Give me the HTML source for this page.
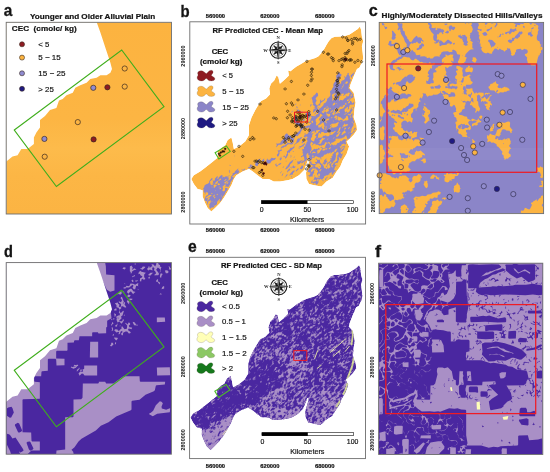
<!DOCTYPE html>
<html><head><meta charset="utf-8"><title>RF Predicted CEC maps</title>
<style>
html,body{margin:0;padding:0;background:#fff;}
svg{display:block;}
text{font-kerning:normal;}
</style></head><body>
<svg width="550" height="472" viewBox="0 0 550 472">
<rect width="550" height="472" fill="#fff"/>
<defs>
<clipPath id="ca"><rect x="6.2" y="22.3" width="165.3" height="191.7"/></clipPath>
<clipPath id="cb"><rect x="189.8" y="21.8" width="175.8" height="202.2"/></clipPath>
<clipPath id="cc"><rect x="379.2" y="22.4" width="164.4" height="191.2"/></clipPath>
<clipPath id="cd"><rect x="6.2" y="262.6" width="165.2" height="191.6"/></clipPath>
<clipPath id="ce"><rect x="189.6" y="257.3" width="175.9" height="201.3"/></clipPath>
<clipPath id="cf"><rect x="378.6" y="263.2" width="164.2" height="191.3"/></clipPath>
<clipPath id="mapb"><polygon points="359.9,26.6 357.8,29.0 353.7,31.8 349.6,34.4 345.5,35.7 340.6,36.4 334.9,36.7 331.6,38.0 328.9,40.9 326.7,44.5 324.8,48.1 323.0,50.8 321.0,53.5 318.5,56.3 315.3,58.0 311.2,59.3 307.1,60.6 303.8,62.2 300.5,64.2 296.5,66.6 293.2,69.1 290.5,71.2 288.1,70.6 288.9,75.5 284.8,79.6 279.9,83.7 278.3,77.1 276.6,75.5 274.2,80.4 270.9,83.7 269.3,88.6 270.1,94.3 266.0,98.4 261.1,100.9 257.8,105.8 255.3,110.0 251.5,117.6 249.0,125.1 249.0,135.1 245.2,141.4 239.0,146.4 233.9,148.9 232.7,142.6 231.4,137.6 227.7,140.1 225.2,145.2 221.4,147.7 217.6,151.4 217.6,157.7 211.4,162.7 205.1,167.7 200.1,171.5 193.8,175.3 191.3,179.0 193.8,184.0 197.6,189.1 202.6,190.3 202.6,196.6 205.1,202.9 207.6,207.9 211.4,211.6 215.1,207.9 220.1,202.9 223.9,197.8 227.7,191.6 231.4,185.3 233.9,179.0 236.4,175.3 242.7,171.5 249.0,169.0 252.8,171.5 257.5,175.3 262.5,179.0 268.8,179.0 273.8,181.5 280.1,181.5 287.6,180.3 292.6,179.0 299.0,175.3 304.0,170.2 306.6,164.0 308.0,159.5 309.6,159.5 308.4,165.0 306.0,172.8 306.4,179.0 309.0,184.0 314.0,185.3 321.5,186.5 326.5,181.5 332.8,177.8 336.6,171.5 340.3,166.5 342.8,160.2 346.6,153.9 349.1,146.4 346.6,141.4 349.6,138.9 353.7,134.8 357.0,130.0 356.6,125.5 353.7,117.3 354.5,109.1 355.6,102.5 353.7,92.7 349.6,88.0 350.5,84.5 353.7,76.4 357.0,68.9 359.5,67.5 361.9,62.5 363.2,58.5 362.7,52.7 361.9,46.2 363.2,41.3 361.9,36.4 361.1,29.8"/></clipPath>
<clipPath id="mape"><polygon points="359.1,265.0 357.0,267.4 352.9,270.2 348.8,272.8 344.7,274.1 339.8,274.8 334.1,275.1 330.8,276.4 328.1,279.3 325.9,282.9 324.0,286.5 322.2,289.2 320.2,291.9 317.7,294.7 314.5,296.4 310.4,297.7 306.3,299.0 303.0,300.6 299.7,302.6 295.7,305.0 292.4,307.5 289.7,309.6 287.3,309.0 288.1,313.9 284.0,318.0 279.1,322.1 277.5,315.5 275.8,313.9 273.4,318.8 270.1,322.1 268.5,327.0 269.3,332.7 265.2,336.8 260.3,339.3 257.0,344.2 254.5,348.4 250.7,356.0 248.2,363.5 248.2,373.5 244.4,379.8 238.2,384.8 233.1,387.3 231.9,381.0 230.6,376.0 226.9,378.5 224.4,383.6 220.6,386.1 216.8,389.8 216.8,396.1 210.6,401.1 204.3,406.1 199.3,409.9 193.0,413.7 190.5,417.4 193.0,422.4 196.8,427.5 201.8,428.7 201.8,435.0 204.3,441.3 206.8,446.3 210.6,450.0 214.3,446.3 219.3,441.3 223.1,436.2 226.9,430.0 230.6,423.7 233.1,417.4 235.6,413.7 241.9,409.9 248.2,407.4 252.0,409.9 256.7,413.7 261.7,417.4 268.0,417.4 273.0,419.9 279.3,419.9 286.8,418.7 291.8,417.4 298.2,413.7 303.2,408.6 305.8,402.4 307.2,397.9 308.8,397.9 307.6,403.4 305.2,411.2 305.6,417.4 308.2,422.4 313.2,423.7 320.7,424.9 325.7,419.9 332.0,416.2 335.8,409.9 339.5,404.9 342.0,398.6 345.8,392.3 348.3,384.8 345.8,379.8 348.8,377.3 352.9,373.2 356.2,368.4 355.8,363.9 352.9,355.7 353.7,347.5 354.8,340.9 352.9,331.1 348.8,326.4 349.7,322.9 352.9,314.8 356.2,307.3 358.7,305.9 361.1,300.9 362.4,296.9 361.9,291.1 361.1,284.6 362.4,279.7 361.1,274.8 360.3,268.2"/></clipPath>
<linearGradient id="ga" x1="0" y1="0" x2="0" y2="1"><stop offset="0" stop-color="#fcb340"/><stop offset="0.5" stop-color="#fcb543"/><stop offset="0.66" stop-color="#fdbb4b"/><stop offset="0.8" stop-color="#fcb645"/><stop offset="1" stop-color="#fbb443"/></linearGradient>
</defs>
<g clip-path="url(#ca)">
<rect x="6.2" y="22.3" width="165.3" height="191.7" fill="url(#ga)"/>
<polygon points="0.0,0.0 96.6,0.0 96.6,22.0 100.4,32.6 105.4,47.7 110.4,62.7 112.0,69.0 110.4,72.8 106.6,75.3 100.4,75.3 96.6,77.8 90.3,79.0 86.6,82.8 80.3,85.3 75.3,87.8 72.8,92.8 66.5,95.3 62.7,99.0 59.0,100.4 56.4,107.9 50.0,110.0 45.0,116.0 40.0,120.0 40.0,127.6 36.4,132.6 33.9,137.6 33.9,143.9 27.6,148.9 21.3,148.9 17.6,155.2 12.5,156.4 6.3,161.5 0.0,163.0" fill="#fff" />
</g>
<polygon points="14.3,130.0 121.7,50.0 164.0,106.6 56.4,186.5" fill="none" stroke="#3fae1c" stroke-width="1.1"/>
<circle cx="93.3" cy="87.8" r="2.6" fill="#8f8bd0" stroke="#3a2a20" stroke-width="0.7"/>
<circle cx="107.4" cy="87.3" r="2.6" fill="#8e1b22" stroke="#3a2a20" stroke-width="0.7"/>
<circle cx="124.7" cy="86.6" r="2.6" fill="#fcb442" stroke="#3a2a20" stroke-width="0.7"/>
<circle cx="124.7" cy="68.5" r="2.6" fill="#fcb442" stroke="#3a2a20" stroke-width="0.7"/>
<circle cx="77.8" cy="122.1" r="2.6" fill="#fcb442" stroke="#3a2a20" stroke-width="0.7"/>
<circle cx="44.4" cy="138.9" r="2.6" fill="#8f8bd0" stroke="#3a2a20" stroke-width="0.7"/>
<circle cx="93.6" cy="139.4" r="2.6" fill="#8e1b22" stroke="#3a2a20" stroke-width="0.7"/>
<circle cx="44.7" cy="156.7" r="2.6" fill="#fcb442" stroke="#3a2a20" stroke-width="0.7"/>
<rect x="6.2" y="22.3" width="165.3" height="191.7" fill="none" stroke="#6e6e6e" stroke-width="0.9"/>
<text transform="translate(3.70,15.90) scale(0.917,1)" font-family='"Liberation Sans", sans-serif' font-size="16.8" font-weight="bold" fill="#141414" stroke="#141414" stroke-width="0.3">a</text>
<text transform="translate(30.00,18.50) scale(1.149,1)" font-family='"Liberation Sans", sans-serif' font-size="7.1" font-weight="bold" fill="#141414" stroke="#141414" stroke-width="0.2">Younger and Older Alluvial Plain</text>
<text transform="translate(11.80,31.10) scale(1.122,1)" font-family='"Liberation Sans", sans-serif' font-size="7.3" font-weight="bold" fill="#141414" stroke="#141414" stroke-width="0.2">CEC&#160;&#160;(cmolc/ kg)</text>
<circle cx="22.0" cy="44.3" r="2.5" fill="#8e1b22" stroke="#3a2a20" stroke-width="0.6"/>
<text transform="translate(38.30,47.20) scale(1.101,1)" font-family='"Liberation Sans", sans-serif' font-size="7.1" font-weight="normal" fill="#141414" stroke="#141414" stroke-width="0.17">&lt; 5</text>
<circle cx="22.0" cy="57.6" r="2.5" fill="#fcb442" stroke="#3a2a20" stroke-width="0.6"/>
<text transform="translate(38.30,60.40) scale(1.128,1)" font-family='"Liberation Sans", sans-serif' font-size="7.1" font-weight="normal" fill="#141414" stroke="#141414" stroke-width="0.17">5 − 15</text>
<circle cx="22.0" cy="73.3" r="2.5" fill="#8f8bd0" stroke="#3a2a20" stroke-width="0.6"/>
<text transform="translate(38.30,76.10) scale(1.138,1)" font-family='"Liberation Sans", sans-serif' font-size="7.1" font-weight="normal" fill="#141414" stroke="#141414" stroke-width="0.17">15 − 25</text>
<circle cx="22.0" cy="88.8" r="2.5" fill="#1f1a82" stroke="#3a2a20" stroke-width="0.6"/>
<text transform="translate(38.30,91.70) scale(1.105,1)" font-family='"Liberation Sans", sans-serif' font-size="7.1" font-weight="normal" fill="#141414" stroke="#141414" stroke-width="0.17">&gt; 25</text>
<g clip-path="url(#cd)">
<rect x="6.2" y="262.6" width="165.2" height="191.6" fill="#4a27a0"/>
<g transform="translate(2.17,258.17) scale(0.33333)"><path fill="#a98fc6" fill-rule="evenodd" d="M83 550l2 2 9 19-3 4-7 3-4-5-7-19 3-3zM47 494l4 2 9 21-3 4-7 3-3-3-9-20 1-3zM28 446l3 4 4 13-8 15-4 1-9-6 0-22 4-3zM504 451l-1-1-11 5-13-4-1-5 4-11-4-4-5-2-12 12-8 17-7 6-4 1-1 3 11 6 13-7 38-5zM489 371l-74 0-2-2-1-15-48 0-30 22-22 0-3-5-19 0 0 3-2 2-46 0-1 43-4 4-23 1 0 51-2 2-23 0 0 97-26 3-1 12 53 1-2-9-5-6 9-8 12-17 9-8 43-25 15-14 23-11 23-17 44-19 2-2 0-24 2-2 22-3 18-15 25-11 3-3 3-13 2-2 25-2zM241 335l2 4-2 2-3 0-2-2zM232 329l-2 0-1 3-5 3 0 6 8-9zM464 328l1 24 39-1-1-24zM216 325l3-1 1 2-3 1zM229 345l3 8 7-7 4 1 4 5 38 0 0-30-39 0 0 10-5 3-6-1-1 3 2 2zM228 321l-3-2-3 2-5-1-2 2 0 4-6 1-2-3-1 4 8 4 7-3 4-5 3-1zM332 254l-5 0 0 4-3 3 0 2 3 2 7-6zM339 252l-1 6 3 0 1-5zM264 251l-1 47 25 0 0-47zM336 238l0 2 6 7 5-5-1-3zM334 227l-3 4 1 2 4-2zM330 207l-2 2 2 4-2 6 5-3-1-7zM355 202l-2 0-1 2 3 0zM346 195l-1 3-6 4 0 2 3 2 3-2 0-4 2-2zM390 209l-4-2-3 1-2-2-1-4 4-3 0-3-4-4-4 7-5-5-2 1 6 7-1 10-7 1-7-9-2 2 0 6-4 2-3 4-3 0-2-3 1-1-8-1-3 3 7 7 6-2 2 2-2 4 1 2 4-3 1-5 5-3 1 4-4 4 0 2 2 3 3 0 1-7 7-4 5 0 5 6 4-1 2-3-8-6 0-3 2-2 8 2zM332 192l-2 0-1 5-2 1 2 6 1-5 4-3zM392 191l0 3 4 7 11 1 0-2-5 0-4-7zM337 181l-2-1-4 3-4 0-1 2 1 1 4-3 5 1zM346 179l2-1 2 2-3 1zM464 178l0 14 25-1-1-13zM368 169l-3 2 0 2 4-2zM337 165l-1 2 2 10 4-8zM325 154l-3 0-10 6-5 1-16 9-15 4-19 9-3 0-6 3-3 6-245 0 0 231 11 0 2 2 1 165 13 0-3-11-10-20 0-30 2-2 7 3 8 11 9-3 23 35 1 5-9 5-5-4 5 11 19 0 14-13 25 0 0-27-23 0-2-2-1-25-26-1 0-97 2-2 50-1 0-50-15-1-2-2 0-13 2-2 19 0 1-13 2-2 17-1 0-34 2-2 21 0 2 2 1 18 24-1 0-19-25-1 0-21 2-2 30 0 2-2 0-22 19-1 1-5 2-2 12 0 2-12 38 0 0-10 2-2 15 0 2 4 23-1 0-17 3-2 0-18 13-8zM343 151l-3 0-4 3 0 3 7 0zM363 132l2 1-1 4-2-2zM377 126l-2 1-1 4 7 8 0-5 2-3zM381 124l5 2 4-1 1-3-9-1zM357 116l-2 4 4 5 0 4-5 3-4-4 0 5 4 2 3 4-1 6-2 2-4-2 2-5-4-3-1-4-9 2 5 6 0 6 6 2 3 6-2 8 3 3 0 5-5 1-6 4 2 5-1 4 3 8 6-3 5 6 2 0 6-9 0-3-3-1-2 6-7 0-2-2 7-6-1-7 4-2 4-13-2-1-6 6-2 0-2-2-1-7 5-4 0-5 2-2 3 0 6 4 4 0 0-2-5-7 2-5-4-3-5-14zM379 109l-3 3 0 4 5 1 5-5zM472 109l8-1-5-3zM363 100l-1 3 4 2 0-4zM357 98l-2 0-10 9 2 2 3-2 2 2 4 0 3-4zM406 92l2 4 1-3zM375 99l0 4 4 4 5-7 3 1 6 7 3-4 3-1 0-2-5-1-6-8-4 0-7 4zM486 84l-3 0-3 3-2 6 8-2zM365 77l4 1 0-2zM409 76l-3-1-7 5-6-3-8-1-4 8-8-1-3 4-5 0-2 4 1-1 5 2 3-4 9 0 10-8 3 3-3 6 4 4 4 0 3-10 7 1-2-3zM407 66l-9 2 2 2 4 0 3-2zM390 64l-2 3 2 4 3 1 1-4zM465 63l-4 6 2 2 3 0 6 8 2-5-7-5 1-5zM443 55l-5 3 2 4 3-2zM399 50l-10 6 3 1 2-2 3 0zM480 46l-5 0-2 8 2 5 2 0 1-6 3-3zM454 44l-9 0-7 6 2 2 5 0 6-7zM414 38l-5 6 0 4 4-1 2 4 6 4-3 4-4 1-1 7 2 3 2 0 1-6 2-2 5 3 4-2 0-3-3-3 0-8 5-5-13-3zM488 37l3 8 5 0 3-3 0-2-4-4zM365 27l-4 3 1 2 5 2 3-2 0-4zM429 26l-7-1-4 5-5 1 8 4 8-7zM499 24l2 5-1 5 6 0 4 2 0-3-5-3-3-5zM388 22l-5 3 0 14 3 3-1 3 4 0 0-4 6-5 8-2-7-4-5 5-2-3 4-2zM401 15l-4 2 2 4zM275 14l39 81 10 6 13-4 0-46-25-2-1-25-2-10zM469 10l-6 2-1 7-3 6-5-6-5-1-1 2 3 4-5 2-2 3-2 0 0-4-3-1 0 3-4 5 1 3 3 2 4-3 8 3-1-8 4-2 3 4-2 6 3 1 3 5 0 4-4 2 1 4 2-2 8 0 2-2 0-4-8-10 5-7 7 5 1 5-3 4 2 0 2-4 0-7 2-3-5-4 1-3-5-3-1-2 3-3zM414 10l-3 2 0 3 3-2zM450 9l-4 3 5 1z"/></g>
<polygon points="0.0,240.3 96.6,240.3 96.6,262.3 100.4,272.9 105.4,288.0 110.4,303.0 112.0,309.3 110.4,313.1 106.6,315.6 100.4,315.6 96.6,318.1 90.3,319.3 86.6,323.1 80.3,325.6 75.3,328.1 72.8,333.1 66.5,335.6 62.7,339.3 59.0,340.7 56.4,348.2 50.0,350.3 45.0,356.3 40.0,360.3 40.0,367.9 36.4,372.9 33.9,377.9 33.9,384.2 27.6,389.2 21.3,389.2 17.6,395.5 12.5,396.7 6.3,401.8 0.0,403.3" fill="#fff" />
</g>
<polygon points="14.3,370.3 121.7,290.3 164.0,346.9 56.4,426.8" fill="none" stroke="#3fae1c" stroke-width="1.1"/>
<rect x="6.2" y="262.6" width="165.2" height="191.6" fill="none" stroke="#6e6e6e" stroke-width="0.9"/>
<text transform="translate(4.10,256.70) scale(0.868,1)" font-family='"Liberation Sans", sans-serif' font-size="16.8" font-weight="bold" fill="#141414" stroke="#141414" stroke-width="0.3">d</text>
<g clip-path="url(#mapb)">
<polygon points="359.9,26.6 357.8,29.0 353.7,31.8 349.6,34.4 345.5,35.7 340.6,36.4 334.9,36.7 331.6,38.0 328.9,40.9 326.7,44.5 324.8,48.1 323.0,50.8 321.0,53.5 318.5,56.3 315.3,58.0 311.2,59.3 307.1,60.6 303.8,62.2 300.5,64.2 296.5,66.6 293.2,69.1 290.5,71.2 288.1,70.6 288.9,75.5 284.8,79.6 279.9,83.7 278.3,77.1 276.6,75.5 274.2,80.4 270.9,83.7 269.3,88.6 270.1,94.3 266.0,98.4 261.1,100.9 257.8,105.8 255.3,110.0 251.5,117.6 249.0,125.1 249.0,135.1 245.2,141.4 239.0,146.4 233.9,148.9 232.7,142.6 231.4,137.6 227.7,140.1 225.2,145.2 221.4,147.7 217.6,151.4 217.6,157.7 211.4,162.7 205.1,167.7 200.1,171.5 193.8,175.3 191.3,179.0 193.8,184.0 197.6,189.1 202.6,190.3 202.6,196.6 205.1,202.9 207.6,207.9 211.4,211.6 215.1,207.9 220.1,202.9 223.9,197.8 227.7,191.6 231.4,185.3 233.9,179.0 236.4,175.3 242.7,171.5 249.0,169.0 252.8,171.5 257.5,175.3 262.5,179.0 268.8,179.0 273.8,181.5 280.1,181.5 287.6,180.3 292.6,179.0 299.0,175.3 304.0,170.2 306.6,164.0 308.0,159.5 309.6,159.5 308.4,165.0 306.0,172.8 306.4,179.0 309.0,184.0 314.0,185.3 321.5,186.5 326.5,181.5 332.8,177.8 336.6,171.5 340.3,166.5 342.8,160.2 346.6,153.9 349.1,146.4 346.6,141.4 349.6,138.9 353.7,134.8 357.0,130.0 356.6,125.5 353.7,117.3 354.5,109.1 355.6,102.5 353.7,92.7 349.6,88.0 350.5,84.5 353.7,76.4 357.0,68.9 359.5,67.5 361.9,62.5 363.2,58.5 362.7,52.7 361.9,46.2 363.2,41.3 361.9,36.4 361.1,29.8" fill="#fcb442" />
<g transform="translate(188.17,22.17) scale(0.33333)"><path fill="#8b85c8" fill-rule="evenodd" d="M76 549l1-1 1 1-1 1zM77 542l1-1 1 1-1 1zM70 538l2-1 1 2-2 1zM56 536l1-1 1 1-1 1zM57 535l1-1 1 1-1 1zM64 526l1 1-1 3-5 5-1-3 3-5zM81 523l1 2-4 4-1-3zM98 521l2-1 1 2-2 1zM70 519l0 2-3 1-2 3-1-1-8 5-2-1 0-2 7-6 5-2zM80 517l1 2-3 2 1 2-4 1-1-1 1-2zM85 516l3-1 1 2-2 2zM69 515l2-3 2 2-1 2zM80 506l1-1 2 1-1 1zM98 496l1 3-4 3-1-3zM91 496l1-1 1 1-1 1zM92 495l1-1 1 1-1 1zM93 494l1-1 1 1-1 1zM70 494l2-1 1 2-2 1zM87 489l-5 4-2 4-4-1 1-2-1-5 4-3 1 2zM87 485l3-2 3 1 3 4-4 1-3-1zM74 483l1-1 2 1-1 1zM120 480l1 2-5 4-1-3 3-3zM88 476l2 3-6 7-2 0-1-1 1-4zM119 475l1 1-9 9-2-2 0-3zM387 473l2 2-1 3-3-2zM403 473l-1 3 2-1 1 3 1-1-1-4zM387 473l1-3 2 0 2 2-2 2zM271 471l0 1 3 0zM114 470l1 3-6 4-1-1 1-2zM99 470l0 2-6 4-3-1 7-6zM294 468l-1 2 1 0zM393 467l1-1 1 1-1 1zM118 467l1-1 1 1-1 1zM101 466l1-1 1 2-1 1zM431 463l-3 0-6 8 4-2zM419 463l-7 5-2 6 2 0 2-2 1-4 3-2zM308 461l2 5 1 0 0-3zM297 455l-9 14 6-7 2 0 2-4zM393 453l3 4-2 7-4-3 0-5zM286 453l-3 2-3 7 3-2zM366 452l1-1 1 1-1 1zM281 448l-1-1-5 6 2 0zM148 446l1-1 1 1-1 1zM321 445l-4 1-2-1-9 10 0 2-2 1 0 3 4-3 7-1-1-3zM126 442l-4 4 0 2 2 1-1 5 3-4 0-3-1 1-1-1zM399 440l1 3-3 2 1 1-3 3-2-3zM419 440l1-1 1 1-1 1zM383 440l-5 4-3 0-3 5-2 1-2-5 6-7 4 2 3-2zM333 440l-2-1-4 1-1 3-3 2 0 2 1 1zM171 439l-6 4-2 0-2-2-1 1 2 3 6-1 3-3zM304 438l-6 7 0 2-2 2 1 2 6-6 2 0 2-2zM151 438l-11 10 0 2-2 2-5 1 1 3-6 8 0 5-6 6-2-1 2-4-2-6 4-4 0-2-5 6-2-1 0-2-2 2-4 0-2 2-2 0-1-2-2 2-1-1 1-4-3 0-1-2-9 9-1 4-2-1-1-3 2-1 0-4-3 1-6 7 0 4-2 2-2 0-2-2-1 2 2 2-2 7 2 2-5 2-1-2-3-1 1-4-2-1 0-2 8-8 0-3-3 0-7 9 0 4-4 4-5 1-5 4-1 5-3 4 0 2 2 2-1 5 2 2-1 2 2 1 1-4 2 2-1 4-2 2 1 1 6-9 4 4 0 4-2 2-2 0-3 3-2-1 2 2-3 5 0 6 1 2 5 1 1 2-1 6 1 1 2 0-1-3 2-3-1-1 8-5 1 1-1 7-4 5 1 3-1 5 3 4 2 0 3-4 3 1 3-1 2-4 7-4 1-8 8-9 1 3-3 4 4 0 4-6 3-8 3-3 0-2 3-1 2-7 7-9-1-3-6-1-2 1 1 2-1 5-2 2-3 0-3-2 3-6-2-5 7-7 4 1-2 2-1 4 6-1 3 2 7-10 0-5 9-12 0-4-2 1-3-1 11-9 4-1 1 2 7-7-2-2 1-4-3 3-1-1zM186 436l1-1 1 1-1 1zM187 435l1-1 1 1-1 1zM444 434l3 5 1-1zM317 434l1-1 1 1-1 1zM375 432l1 3-2 1-1-2zM392 432l0 2 3 0 0-2zM288 433l-1-1-5 6 5-3zM189 432l1-1 1 2-1 1zM375 431l1-1 3 1-1 1zM190 431l1-1 1 1-1 1zM345 431l-4-1-6 9 5 3 5-6zM307 435l0 2 3 2 4-3 3 2 4-2 1-4-3 1-2-3 1-1-5 3 0 3-3 2-2-2 3-4 0-3 0 3zM125 428l-1 3 3 0 1-2zM194 431l-3-3-5-1-2 4 1 3-1 1-3-1-2 3 2 0 1 2 2-1 4 1 6-6zM450 426l-3 4 2-1zM407 424l1 3-4 3-1-3zM424 423l1 1-2 2 4 9-5 3-1 2-3-5-1 5-1 1-3-1-1-3 5-4 2-7 3-3zM393 423l6 8-1 4-5 6-4-5-2-1-4 1-3-5 7-7zM279 422l-5 2-7 6-2-1 0-5-1 0-3 3 0 2 3 2-1 2 4 0 3-4 5-1 4-4zM417 419l2 2-2 4 0 4-4 4 0 3-2 2-2 0-2-2 0-3-2-3 8-6 2-4zM409 420l1-1 1 1-1 1zM427 418l2 1 1 3-2 2-3 0-1-1 2-1zM293 416l0 2 2 0 0-2zM317 413l-2 0-10 7-4 7-3 2 1 3-4 1-1 4-4 4 1 1 2-2 2 1 9-8 2-7 7-6 1-4zM463 412l-2 1 1 1zM429 410l1-1 1 2-1 1zM324 410l-5 3 3-1 1 1zM229 408l-9 8 1 2 6 0 0-2 3-2-3-2zM218 408l-9 5-4 5-2 0-1 6-2 2 4 6 1-1 3 1 2-5 8-6-1-1-4 4-4-2zM263 408l-1-1-5 1-7-1-5 6-6 0-1-1 2-2-1-1-4 4-1 6 5 6 7-2 5-7 9-3zM451 405l1-1 1 1-1 1zM280 404l-2 0-1 4-3 2 2 5 6-6-3-1zM319 403l-1 0-2 5 3-3zM456 401l1-1 1 1-1 1zM371 402l1-2 5 1-2 4zM140 400l-2 1 1 3zM308 399l-1 1 1 4-2 2 3-1 1-4zM386 394l1-1 1 1-1 1zM368 390l1 2-2 1-1-1zM449 389l2 3 0 4-4 5 1 4-2 2 2 7-8 7-2-1-2 2 0 3-4 4 0 2 2 2 0 2-2 1-2-3-1-7 5-4 2-4 5-5 3-12-1-1 0-7zM456 389l1-1 1 1-1 1zM370 393l6-5 8 2-5 3-2-1-5 2zM390 386l0 1 2 0zM314 386l0 3 2 0 1-2zM459 380l2 2-1 3-3-1zM446 380l1 1-3 6-3 3-2 0-1-4 1-1 2 1-1-1 1-3zM446 380l1-1 1 1-1 1zM418 379l-2 3-5 0-2 3-6 0-1-1 3-5 1 1 10-2zM429 376l-3 4-2 1-3-1 5-5zM466 374l1 1-1 3-4 3-2-3zM439 372l1-1 1 1-1 1zM428 365l1 4-2 2-2-2 0-2zM468 364l2 3-4 5-4 1-2 2 0 3-2 1-4-6 5-1 1-5zM351 362l-11 9-7 2-2 5 3 2 1-2-3-1 2-2 2 0 1 2 6-5 2 2 2-5 3-3zM420 359l2 2 1-1 3 1-2 6-2-3-4-2zM365 390l5-7 0-7-2-3 1-2-3-2 1-6 3-4 5 4-4 6 2 0 4-4 5 0 1 1-2 4 3-2 5 0 5 3-1 2 1-2 3-1 3 1 5-3 1 1 4-4 0-3 2-2 2 0 4 3-1 3-3-3 0 4-3 6 1 2-2 2-6 1-3-4-6 2 0 1 3-1 2 1 2 3-6 7-1 4-3 1-1 2-4-1 1-1-1-4 1-4 2-2 1 1 4-1-1-3-3-2-3 4-3-2-2 2-5-1-5 5-2 0-4 6zM309 358l2-1 2 2 0 2-3 1zM292 356l3 1-2 3 2 0 2 2 0 2-4 4-4-4 0-4zM347 354l-5 3 0 3-2 2 2 2 6-6zM419 349l1 2-2 2-1-2zM384 350l1-1 1 1-1 1zM420 349l1-1 1 1-1 1zM386 349l1-1 1 1-1 1zM387 348l1-1 1 1-1 1zM301 347l7 4 2 4 0 2-5 6-8-2 1-9zM409 347l1 3-7 5-5 10-6 0-2-2 4-2 1-2-1-4 2-2 2 0 4-6 3-1 1 4zM438 345l1 2-3 3-1-2zM343 345l-6 0-1 3-2 1-3-1-4 3-3 11-6 5-1 6-5 4-5 0-3 5-8 6 1 7-3 3 0 4-3 2-2-4-2 1-2 4 5-1 1 6 4-3 5-9-1-6 2-1 3 2 1-4 14-13-1-6 2-3 13-8 3-7zM477 344l-1 3 1 4-1 1-9-1-8 7-3-2 0 3-3 3-6 1-1 3-4 4-1-2-2 0-2 3-2-3-4 0-3-3 2-3 4-1 9-6-1-4 1-2 1 1 6-1 1 1 11-2 2-2 3 0 6-7 2 2-1 3 2-1zM482 331l1 1-1 3-1-1zM482 331l1-1 1 1-1 1zM424 332l0-2 2-1 1 2-2 2zM389 346l2-12 2-2 2 0 2 4 3-7 1 1 4-1 1 1-1 1 1-1 4 3 7-1 4-3 1 3 3 1-1 4 2 1-5 4-6 0-1-1 1-2-2 0-3 2-4 0-5 5-3 1-8 0zM456 328l1 4-3 3-2 5-4 4-3 0-2-2 2-2 0-2 4-1 2-4zM443 327l-11 11-6 0-1-1 4-7 2-1 3 1 7-4zM471 326l2 6-7 3-2 3-4 0-1-2 3-2 0-2 3-3 2 0-1-2 2-2zM394 323l1 3-3 1-2 2 0 2-2 2-2 0-5 6 0 2 3 1 1 2-5 6 0 2-2 1 1 3-2 2-6-2-3-4 0-3 4-5 0-6 4-4 0-1-4 0-2 2-1-2 4-5 5-1 1-2 2 2-2 2 0 3 2-2 3 1 1-1-2-3 1-3 2 1zM487 323l1-2 2 1-2 2zM420 322l1-1 1 1-1 1zM421 321l1-1 2 1-1 1zM414 318l1 2-2 3-4-2zM472 316l2 3-5 4-1-2 2-4zM455 316l2 2-2 7-4 6-3 2-1-3 4-4 2-9zM456 317l1-2 2 1-2 2zM484 314l1 3-5 4-1-1zM390 315l1-1 1 2-1 1zM464 313l1 2-2 3-1-3zM415 312l1 1-1 3-2 1-2-2zM407 312l2-2 3 2-1 1zM464 313l0-3 2-1 3-5 2 4 2-2 6 0 1 1-4 5-2-1-4 3zM469 304l1-1 1 1-1 1zM357 305l-2-1-1 2zM347 303l-3 1-2 3 0 3 2 0 4-5zM390 309l8-3 5-5 3 0 2 7-1 7 2 6-2 1-7-5 3-7-5 5-5 1-3-3zM493 301l1-1 1 1-1 1zM453 301l-4 5 0 4-3 3-6 3-2-1-2 2-6-2-5 6-2-1 9-11-2 0-3 4-2-3 6-5 11-1 7-4zM416 299l1 3-2 2-1-3zM490 299l2-1 2 2-2 2zM456 298l1-1 1 2-1 1zM312 297l-1 2 2 2 0-4zM434 296l1-1 2 2-2 1zM372 294l3 5 0 2-2 2-4-4zM398 292l1-1 2 3-2 1zM424 290l-3 4-5 1-4 6-3-1 7-11 1 1 3-1zM406 289l1 1-3 4-2-3 2-2zM349 289l-6 6 1 2 2 0 4-3zM445 287l2 2 0 2-5 2-1-1 2-4zM374 286l1-1 1 1-1 1zM318 286l1-1 1 1-1 1zM432 284l1 1-3 4-1-3zM448 284l4-1 2 2 3 0 5 5 2 0 2 2-1 1-8 0-4 3-5-3 1-2zM486 283l2-1 2 3-2 2-2-2zM364 283l1-1 1 1-1 1zM351 283l-2 2 1 2zM477 280l2 3 2 9-2 2-4 1-3-1-2 2-3 0-3 3-1-4 11-10 0-3zM403 281l1-1 1 1-1 1zM444 279l4 5-3 3-6 1-1-1 2-5 1 1 0-2zM415 280l1-1 1 1-1 1zM362 277l1 2-2 1-1-1zM438 277l1-1 1 1-1 1zM430 277l1-1 1 1-1 1zM398 275l5 4-10 11-1 5 4-1 2 2-3 3 0 3-9 9-3-4 2-8-1 1-1-1-1-6 7-8 5-3 1-5zM472 274l1 2-4 2-1-2zM416 273l2 2 3 0 1 2 3-3 1 1 0 5-3 4-5-1 1-2-3-2-2-4zM472 274l2-2 2 1-1 2zM419 271l1-1 1 1-1 1zM413 271l1-1 1 1-1 1zM449 272l3-3 4 1-2 3zM345 268l-5 1-2 2-2-1 5 3zM314 265l-5 5 1 1 4-4zM433 263l1 1-1 4-6 4-1-2zM385 262l1 2-2 2-1-2zM487 262l1-1 2 1-1 1zM444 259l1 1-6 8 1 5-2 3 1 2-2 1-4-3-1-3 4-3 0-3 3-5 3-3zM325 260l0 2 4 2-3 2 0 3 2-2 3 1 2-3 3 2 1-1-1-2-3 1-1-3-4 1zM381 259l1-1 1 1-1 1zM322 259l-4 3 3-1zM427 257l1 2-3 2-1-2zM423 257l-2 3 0 3 2 1-4 5-2 0-2 2-3-3-2 0-4 5-5-3 0-2 2-2 2 1-1 2 2-1 0-2-2-2 3-2 0-3 4-3 2 1 0 2-4 3 0 2 2 1 4-5 4-1 2-3zM414 255l2-2 4 1-3 2zM326 252l-3 3 3 1 2 3 1-3-2-1 0-3zM461 250l1 1-1 3-1-1zM461 250l1-1 1 1-1 1zM471 250l0 2-3 2-2 4-12 4 0 4-6 5 1 2-1 1-3 0-2 2-2-1 5-7 3-9 3 0 3-5 3-1 3 2 2-1 4-6 2 0zM446 249l1-1 1 1-1 1zM337 247l-2 1 0 2 2-1zM366 245l2 2-3 6 2 0 4-5zM443 244l2-1 1 2-2 1zM324 243l-3 3 0 2 3-1zM474 241l1 6-3 1-2-3zM442 244l-4 5-4 1-1-1 1-3 4-5zM485 235l1 1-1 5-2 2-3 0-1-1zM476 236l3-5 5 2-5 4zM440 231l1 2-2 1-1-1zM331 232l-3 0-1 3 2 0zM440 231l1-1 2 1-1 1zM342 231l-1 1 1 2zM369 230l-2 0 0 2zM486 227l1 2-3 3-1-1zM486 227l1-1 1 1-1 1zM449 226l1 2-3 3-1-3zM488 222l1 1-1 3-1-1zM447 224l1-2 2 1-2 2zM490 215l1 6-2 2-2-4zM458 216l-7 7-6-4 4-4 7-1zM441 214l1 1-5 6 3 4 0 3-3 5-5 3-1-2 2-2-1-2 1-3-2-9 6-4zM441 213l1-1 1 1-1 1zM484 212l1 3-2 2 0 3-2 2-5 1-4-4 3 7-4 1-8 8-5-2-4 3-2-2 2-10 3-4 3 1-1-5 1-1 6-1 2 2-3 3 0 2 2 0 7-7 3 1 4-4zM479 204l1-1 1 1-1 1zM459 199l1-2 2 1-2 2zM465 192l1 1-4 4-1-3 2-2zM466 186l2 1-1 4-2-1zM453 185l1-1 1 1-1 1zM469 184l1-1 1 1-1 1zM448 182l2-1 1 3 1-1 1 2-4 2zM480 179l-3 5-2 1-4-1 2-5 2-1zM481 152l-3 1 0 4-3 2 0 3-4 4-1-1 1-3-3 1 0 3 3 1-2 4-1-1 1 2-5 3-3-1 1 1-3 3 0 5-2 2-2 0-2-2-1-12 1-4 3-2 4-6 0-2-6-4 0-3-5 2 0 4-5 4 1 11-2 2-1 4-6 7 1 1-2 3 1 6-4 5-1 4-3 3-2 0 0 7 1 1-1 8-2 2-2 0 0 2-5 4-1 7-2 1-1 3-6 3-2 6-9 8-2 0-4 6-2-5 4-2 1-3-5 4-1-1 1-5 4-3 1 1 4-1-1-4 6-6 6-3 4-7-1-1-2 1-3 5-5 1-1 2-2-1 1-3-1-1-3 4 1 2-1 5-8 8-5-6 0-3 3-6 0-2-3-4 4-6 3-2 1-3-1-5-2-2-3 0-1 3-5 5-2 0-1 3-5 4 3 8 0 5 3 5-2 1 0 2 8 7-4 1-3-2 5 5-1 2-2-1-2 5 0 7 8-7 1 4-6 7 2 1 6-7 2 0 2 2 0 3-5 2-3 3-1 4-3-3-2 1-7-1-2 2-1-1 2-6-1-6-3-1-3 2-2-1-5 1-2 5 0 5 4-3 4 3-2 3-2 0-1 3 2 0-1-1 1-1 5 1-4 5 1 4 3-1-1-4 5-6 3-1 2 2-4 7 0 3-5 7 3 1 3-2 2 2-5 4 2 1-4 3-2-2-2 2-2-1-2 2-4 0-1 2-9-1-9-15-3 1-3-2 0-2 2-2 0-4 2-3-3 1-8-10-1 1 1 1-1 10 1-2 1 1 0 6-2 3 4 8 10 6 5 5 1 5-3 2 0 2-7 7-12 9 2 5-1 2-2 0-4-3-4-5-5 0-5-6-3 0-5 6 0 8-8 7-4 5-1 4-4-1-2 2-7-1 3 4 0 2-2 2 1 3 6-7 8 0 6-4 3 0 3 4-2 3-3-1-6 4-2 3 0 5-2 2-8 1 3 5-1 4-4 4 1 5 4-1 3-7 0-7 7-2-2-7 2-2 4 0 4-3 5-1 2-4 4-3 6 0 1 1 6-1 3-4 2-14 2-2 2-5 6 1 6-7 2 0 1-5 7-11 7-3 3 0 3 3 4-4 3 2-2 3 1 5-3 8-6 4-2-1 1-2-4 0-1 2 5 1-4 2-2 3 0 2 3 1 1 3-6 2 1 1 1-2 2 3 1-3 2-1-1-4 6-1 1 4-4 3 4 6 0 2-3 3-1 5-3 2 1 4-4 2-1 2 1 3-2 2-4-1 1 1-1 4 2 1-1 7 2 1 0 4-3 3-4 1 1 4 3-3 4-1 2 3-1 5 2-1 1 2-2 1 0 2-7 5-2-1 0-2 4-1 1-2-5 1-7 5-2-2-2 0-1 4 2 2-2 3 1 1 7-2 3-5 2 1 0 2 2 0 5-4 3 3-2 2-1 4 3-1 1-8-2 0-1-2 3-1 2 2 0 2 2-7 4-4-4-3 1-3-2-1 2-7 2-2 3 1-2 7 3-3 2 2 0 2-2 1 1 3-2 2-1 4 5-2 6 4 1-6 2-2 4 2 2-5 4-1 8 4 4 0 1 1-1 2 2 2 2 0 2-4-2 3-2 0-1-2 2-1 1-3 4 0 5-7 4 0 5-4 4 1 4-3 3 1-3 2 1 1 8-7 3 2-4 7-3-1 2 2 0 4-2 1-4-2 2 1 0 2 3 3-5 1-1 2 2 2-6 9-3-1-2-2 0-2-4-2 2-3 0-3-8 8 1 1-6 10-6-6-1-8-3-1-1 2-4-2-1-3-4 2 4 2 1 3-2 4-5-1 1 3 3 2-2 2-11-1-2-8-3 1-1 3 2 4-1 4 5-1 3 2-1 3-5 4-2-1-1-5-2 9-4 5-1 4 7 2 2 3-4 6-2-1-2 2 0 2 3-2 2 2-3 7 4-6 2 0 1-2 5 2 1-7 4-5-1-4 6-8 7 7-4 8 5 9 3 2-1 1-5-1-4 1-4-5 1-1-3-2 2 5-4 9 2 1 2-2 3 1 1 2-2 2-5 1-3 3-2-2 2-2-1-5 1 2-3 1-3 7 5 0 3 3 4-3 2 0 1 1-2 2 4 3 4-3 0-2 2-2 0-6 2-2 2 0-1-1 2-2 3 2 4-1 5-5-1-2 2-2 6-3 4 0 2-2 3 0-1-3 7-4 1 1-1 5 4 2 2-3-1-2 7-6 0-4-3 2-1-3 3-9 3-1 1-6-4 3-1-3 3-4 5 1 0-2 2-1 1-5 2-2-1-6 1-2 3 2 1 3 4-4-2-2 3-2 1-6 2-2-3 0-3 2-2-6 4-1 6-7 2-6 3-3-5-1 3-2-2-1 6-4-2-6 1-3 5-6 4 0 3-3 4-10 10-8 1-3-2 0-1-2 2-2 2 0 2-3-1-2-2 0-4 6 1 3-3 4-4 3-3-1 2-4-1-2 3-2-1-5 7-11-2-2 0-2 3-2 0-4-2-2-2-10-2-1 2-12-4 2-4 6-4-3-4-1 3-2 2 0 1 2 4-3 0-3 2-1 0-2 3-3 0-3 4-4-1-4-3 2 2 2 0 2-3 1-2-2 1-2-2 0-5 11-5 4-3-1 1-2-1-2-4 4-2-2 1-3-1 1-1-1 1-6 4-2 2-3 2-1 2 1-1 1 1 2-3 3 3 1 3-2-1-6 2-1 0-3 2-2 11-1 1-2 0-6-5 5-4-7-4-2 1-3 3-2 0-2 5-2 2-2 0-2-2-1 0-5-7-8-3-8-1 1-2-2 1-9 7-19-3 1-1-1 0-8-4-6 1-2zM501 145l-3 5-11 10 3 8 2-6 5-5 0-3z"/></g>
</g>
<path d="M306.9 60.2a1.15 1.15 0 1 0 .01 0zM291.4 80.3a1.15 1.15 0 1 0 .01 0zM285.1 87.8a1.15 1.15 0 1 0 .01 0zM307.7 84.1a1.15 1.15 0 1 0 .01 0zM303.9 92.9a1.15 1.15 0 1 0 .01 0zM260.0 102.9a1.15 1.15 0 1 0 .01 0zM291.4 101.8a1.15 1.15 0 1 0 .01 0zM287.6 110.1a1.15 1.15 0 1 0 .01 0zM290.1 113.8a1.15 1.15 0 1 0 .01 0zM292.6 103.8a1.15 1.15 0 1 0 .01 0zM286.4 102.6a1.15 1.15 0 1 0 .01 0zM273.8 116.8a1.15 1.15 0 1 0 .01 0zM276.3 117.6a1.15 1.15 0 1 0 .01 0zM303.9 138.9a1.15 1.15 0 1 0 .01 0zM252.5 136.4a1.15 1.15 0 1 0 .01 0zM253.8 137.8a1.15 1.15 0 1 0 .01 0zM250.2 138.4a1.15 1.15 0 1 0 .01 0zM317.7 110.1a1.15 1.15 0 1 0 .01 0zM336.6 108.8a1.15 1.15 0 1 0 .01 0zM239.0 145.2a1.15 1.15 0 1 0 .01 0zM233.9 150.2a1.15 1.15 0 1 0 .01 0zM242.7 155.2a1.15 1.15 0 1 0 .01 0zM253.8 166.5a1.15 1.15 0 1 0 .01 0zM252.8 166.5a1.15 1.15 0 1 0 .01 0zM262.8 174.2a1.15 1.15 0 1 0 .01 0zM323.5 118.8a1.15 1.15 0 1 0 .01 0zM329.0 129.8a1.15 1.15 0 1 0 .01 0zM298.0 98.8a1.15 1.15 0 1 0 .01 0zM323.4 51.1a1.15 1.15 0 1 0 .01 0zM327.6 52.9a1.15 1.15 0 1 0 .01 0zM328.6 52.9a1.15 1.15 0 1 0 .01 0zM333.0 57.5a1.15 1.15 0 1 0 .01 0zM331.5 56.5a1.15 1.15 0 1 0 .01 0zM333.3 59.5a1.15 1.15 0 1 0 .01 0zM339.0 59.5a1.15 1.15 0 1 0 .01 0zM341.4 58.2a1.15 1.15 0 1 0 .01 0zM342.8 57.7a1.15 1.15 0 1 0 .01 0zM345.5 58.0a1.15 1.15 0 1 0 .01 0zM347.3 58.7a1.15 1.15 0 1 0 .01 0zM349.8 59.2a1.15 1.15 0 1 0 .01 0zM350.2 58.5a1.15 1.15 0 1 0 .01 0zM351.4 58.8a1.15 1.15 0 1 0 .01 0zM354.9 61.1a1.15 1.15 0 1 0 .01 0zM357.9 59.3a1.15 1.15 0 1 0 .01 0zM361.5 60.6a1.15 1.15 0 1 0 .01 0zM342.7 35.8a1.15 1.15 0 1 0 .01 0zM346.3 36.8a1.15 1.15 0 1 0 .01 0zM347.7 39.3a1.15 1.15 0 1 0 .01 0zM348.0 39.1a1.15 1.15 0 1 0 .01 0zM351.5 38.4a1.15 1.15 0 1 0 .01 0zM352.7 41.0a1.15 1.15 0 1 0 .01 0zM352.5 42.9a1.15 1.15 0 1 0 .01 0zM348.9 49.4a1.15 1.15 0 1 0 .01 0zM347.8 50.7a1.15 1.15 0 1 0 .01 0zM345.1 52.3a1.15 1.15 0 1 0 .01 0zM347.0 52.3a1.15 1.15 0 1 0 .01 0zM345.0 56.5a1.15 1.15 0 1 0 .01 0zM345.6 58.2a1.15 1.15 0 1 0 .01 0zM354.2 37.3a1.15 1.15 0 1 0 .01 0zM356.2 37.4a1.15 1.15 0 1 0 .01 0zM357.6 38.8a1.15 1.15 0 1 0 .01 0zM360.1 38.1a1.15 1.15 0 1 0 .01 0zM345.2 58.8a1.15 1.15 0 1 0 .01 0zM344.4 59.6a1.15 1.15 0 1 0 .01 0zM342.2 63.7a1.15 1.15 0 1 0 .01 0zM341.9 65.5a1.15 1.15 0 1 0 .01 0zM337.8 71.7a1.15 1.15 0 1 0 .01 0zM339.0 76.9a1.15 1.15 0 1 0 .01 0zM337.6 79.6a1.15 1.15 0 1 0 .01 0zM337.0 79.4a1.15 1.15 0 1 0 .01 0zM337.9 81.6a1.15 1.15 0 1 0 .01 0zM337.1 84.3a1.15 1.15 0 1 0 .01 0zM336.5 88.1a1.15 1.15 0 1 0 .01 0zM337.0 90.8a1.15 1.15 0 1 0 .01 0zM338.7 93.1a1.15 1.15 0 1 0 .01 0zM338.6 92.1a1.15 1.15 0 1 0 .01 0zM336.9 95.8a1.15 1.15 0 1 0 .01 0zM335.3 97.7a1.15 1.15 0 1 0 .01 0zM311.7 67.9a1.15 1.15 0 1 0 .01 0zM312.3 68.0a1.15 1.15 0 1 0 .01 0zM311.5 71.1a1.15 1.15 0 1 0 .01 0zM311.4 74.3a1.15 1.15 0 1 0 .01 0zM312.0 77.8a1.15 1.15 0 1 0 .01 0zM311.0 79.7a1.15 1.15 0 1 0 .01 0zM283.3 136.3a1.15 1.15 0 1 0 .01 0zM285.2 138.2a1.15 1.15 0 1 0 .01 0zM288.8 138.1a1.15 1.15 0 1 0 .01 0zM288.5 136.6a1.15 1.15 0 1 0 .01 0zM293.7 134.5a1.15 1.15 0 1 0 .01 0zM292.1 135.3a1.15 1.15 0 1 0 .01 0zM293.8 134.5a1.15 1.15 0 1 0 .01 0zM295.8 131.9a1.15 1.15 0 1 0 .01 0zM285.0 141.0a1.15 1.15 0 1 0 .01 0zM291.5 139.9a1.15 1.15 0 1 0 .01 0zM301.3 123.8a1.15 1.15 0 1 0 .01 0zM301.7 125.1a1.15 1.15 0 1 0 .01 0zM303.4 125.7a1.15 1.15 0 1 0 .01 0zM305.1 128.1a1.15 1.15 0 1 0 .01 0zM309.1 129.0a1.15 1.15 0 1 0 .01 0zM255.1 160.0a1.15 1.15 0 1 0 .01 0zM256.6 159.9a1.15 1.15 0 1 0 .01 0zM258.3 161.0a1.15 1.15 0 1 0 .01 0zM259.4 159.9a1.15 1.15 0 1 0 .01 0zM261.6 161.5a1.15 1.15 0 1 0 .01 0zM263.3 161.6a1.15 1.15 0 1 0 .01 0zM261.0 170.5a1.15 1.15 0 1 0 .01 0zM259.4 171.4a1.15 1.15 0 1 0 .01 0zM309.0 158.6a1.15 1.15 0 1 0 .01 0zM309.0 164.7a1.15 1.15 0 1 0 .01 0zM308.0 164.0a1.15 1.15 0 1 0 .01 0zM308.8 165.5a1.15 1.15 0 1 0 .01 0zM306.3 167.8a1.15 1.15 0 1 0 .01 0zM299.3 112.6a1.15 1.15 0 1 0 .01 0zM296.0 115.1a1.15 1.15 0 1 0 .01 0zM307.5 114.1a1.15 1.15 0 1 0 .01 0zM308.7 110.5a1.15 1.15 0 1 0 .01 0zM300.7 119.9a1.15 1.15 0 1 0 .01 0zM309.1 113.7a1.15 1.15 0 1 0 .01 0zM302.5 117.1a1.15 1.15 0 1 0 .01 0zM299.4 116.3a1.15 1.15 0 1 0 .01 0zM301.1 117.1a1.15 1.15 0 1 0 .01 0zM297.2 111.0a1.15 1.15 0 1 0 .01 0zM303.1 114.7a1.15 1.15 0 1 0 .01 0zM299.6 111.3a1.15 1.15 0 1 0 .01 0zM306.8 121.0a1.15 1.15 0 1 0 .01 0zM304.1 115.4a1.15 1.15 0 1 0 .01 0zM305.3 114.9a1.15 1.15 0 1 0 .01 0zM287.4 116.6a1.15 1.15 0 1 0 .01 0zM302.3 114.2a1.15 1.15 0 1 0 .01 0zM296.1 117.5a1.15 1.15 0 1 0 .01 0zM299.4 117.6a1.15 1.15 0 1 0 .01 0zM298.0 120.5a1.15 1.15 0 1 0 .01 0zM306.7 116.3a1.15 1.15 0 1 0 .01 0zM300.2 116.1a1.15 1.15 0 1 0 .01 0zM297.9 119.8a1.15 1.15 0 1 0 .01 0zM299.4 115.8a1.15 1.15 0 1 0 .01 0zM296.4 118.4a1.15 1.15 0 1 0 .01 0zM293.2 118.6a1.15 1.15 0 1 0 .01 0zM291.9 119.7a1.15 1.15 0 1 0 .01 0zM292.4 116.5a1.15 1.15 0 1 0 .01 0zM293.8 121.1a1.15 1.15 0 1 0 .01 0zM295.9 115.9a1.15 1.15 0 1 0 .01 0zM291.9 120.6a1.15 1.15 0 1 0 .01 0zM300.4 123.6a1.15 1.15 0 1 0 .01 0zM296.6 124.0a1.15 1.15 0 1 0 .01 0zM301.3 125.9a1.15 1.15 0 1 0 .01 0zM296.0 125.2a1.15 1.15 0 1 0 .01 0zM300.9 123.8a1.15 1.15 0 1 0 .01 0zM297.4 124.1a1.15 1.15 0 1 0 .01 0z" fill="#6b4a10" fill-opacity="0.18" stroke="#1e160a" stroke-width="0.6"/>
<path d="M265.3 161.8a.9 .9 0 1 0 .01 0zM266.2 163.3a.9 .9 0 1 0 .01 0zM264.2 162.9a.9 .9 0 1 0 .01 0zM262.0 169.1a.9 .9 0 1 0 .01 0zM263.5 172.6a.9 .9 0 1 0 .01 0zM345.5 58.6a.9 .9 0 1 0 .01 0zM300.5 115.1a.9 .9 0 1 0 .01 0z" fill="#5a0d12" stroke="#2a0508" stroke-width="0.5"/>
<path d="M218.9 153.1a.8 .8 0 1 0 .01 0zM220.8 151.8a.8 .8 0 1 0 .01 0zM222.6 150.6a.8 .8 0 1 0 .01 0zM225.2 148.1a.8 .8 0 1 0 .01 0zM224.0 150.7a.8 .8 0 1 0 .01 0zM220.0 154.7a.8 .8 0 1 0 .01 0z" fill="#4a1a10" stroke="#1c1408" stroke-width="0.5"/>
<polygon points="215.1,152.7 226.4,145.9 230.2,151.4 218.9,159.0" fill="none" stroke="#45b81f" stroke-width="1.1"/>
<rect x="294.5" y="112.2" width="13" height="9.8" fill="none" stroke="#ee1c25" stroke-width="1.0"/>
<rect x="189.8" y="21.8" width="175.8" height="202.2" fill="none" stroke="#6e6e6e" stroke-width="0.9"/>
<text transform="translate(180.40,16.80) scale(0.888,1)" font-family='"Liberation Sans", sans-serif' font-size="16.8" font-weight="bold" fill="#141414" stroke="#141414" stroke-width="0.3">b</text>
<text transform="translate(212.50,32.90) scale(1.075,1)" font-family='"Liberation Sans", sans-serif' font-size="7.2" font-weight="bold" fill="#141414" stroke="#141414" stroke-width="0.2">RF Predicted CEC - Mean Map</text>
<text transform="translate(211.70,54.40) scale(1.065,1)" font-family='"Liberation Sans", sans-serif' font-size="7.3" font-weight="bold" fill="#141414" stroke="#141414" stroke-width="0.2">CEC</text>
<text transform="translate(199.90,64.20) scale(1.105,1)" font-family='"Liberation Sans", sans-serif' font-size="7.3" font-weight="bold" fill="#141414" stroke="#141414" stroke-width="0.2">(cmolc/ kg)</text>
<text transform="translate(222.30,78.30) scale(1.076,1)" font-family='"Liberation Sans", sans-serif' font-size="7.0" font-weight="normal" fill="#141414" stroke="#141414" stroke-width="0.17">&lt; 5</text>
<path transform="translate(197.1,70.2)" d="M0.5,3 C0.5,1 3,0 5.5,0.8 C7.5,1.5 8.5,3.5 9.5,3.2 C10.5,3 11.5,0 14,0 C16,0 16.5,2 15.5,3.2 C14.8,4.2 14,4.6 14.5,5.5 C15,6.3 17.8,6.8 17.8,8.5 C17.8,10.5 15,11 12.5,10.6 C10.5,10.2 10.3,8.2 9.3,8.2 C8.2,8.2 7.5,10.5 5,10.8 C2,11 0,9.5 0,7.5 C0,6 1,5.5 1,4.8 C1,4.2 0.5,4 0.5,3 Z" fill="#8e1b22" stroke="#4a4030" stroke-opacity="0.55" stroke-width="0.35"/>
<text transform="translate(222.30,94.20) scale(1.108,1)" font-family='"Liberation Sans", sans-serif' font-size="7.0" font-weight="normal" fill="#141414" stroke="#141414" stroke-width="0.17">5 − 15</text>
<path transform="translate(197.1,85.7)" d="M0.5,3 C0.5,1 3,0 5.5,0.8 C7.5,1.5 8.5,3.5 9.5,3.2 C10.5,3 11.5,0 14,0 C16,0 16.5,2 15.5,3.2 C14.8,4.2 14,4.6 14.5,5.5 C15,6.3 17.8,6.8 17.8,8.5 C17.8,10.5 15,11 12.5,10.6 C10.5,10.2 10.3,8.2 9.3,8.2 C8.2,8.2 7.5,10.5 5,10.8 C2,11 0,9.5 0,7.5 C0,6 1,5.5 1,4.8 C1,4.2 0.5,4 0.5,3 Z" fill="#fcb442" stroke="#4a4030" stroke-opacity="0.55" stroke-width="0.35"/>
<text transform="translate(222.30,110.20) scale(1.134,1)" font-family='"Liberation Sans", sans-serif' font-size="7.0" font-weight="normal" fill="#141414" stroke="#141414" stroke-width="0.17">15 − 25</text>
<path transform="translate(197.1,101.3)" d="M0.5,3 C0.5,1 3,0 5.5,0.8 C7.5,1.5 8.5,3.5 9.5,3.2 C10.5,3 11.5,0 14,0 C16,0 16.5,2 15.5,3.2 C14.8,4.2 14,4.6 14.5,5.5 C15,6.3 17.8,6.8 17.8,8.5 C17.8,10.5 15,11 12.5,10.6 C10.5,10.2 10.3,8.2 9.3,8.2 C8.2,8.2 7.5,10.5 5,10.8 C2,11 0,9.5 0,7.5 C0,6 1,5.5 1,4.8 C1,4.2 0.5,4 0.5,3 Z" fill="#8b85c8" stroke="#4a4030" stroke-opacity="0.55" stroke-width="0.35"/>
<text transform="translate(222.30,125.80) scale(1.114,1)" font-family='"Liberation Sans", sans-serif' font-size="7.0" font-weight="normal" fill="#141414" stroke="#141414" stroke-width="0.17">&gt; 25</text>
<path transform="translate(197.1,117.2)" d="M0.5,3 C0.5,1 3,0 5.5,0.8 C7.5,1.5 8.5,3.5 9.5,3.2 C10.5,3 11.5,0 14,0 C16,0 16.5,2 15.5,3.2 C14.8,4.2 14,4.6 14.5,5.5 C15,6.3 17.8,6.8 17.8,8.5 C17.8,10.5 15,11 12.5,10.6 C10.5,10.2 10.3,8.2 9.3,8.2 C8.2,8.2 7.5,10.5 5,10.8 C2,11 0,9.5 0,7.5 C0,6 1,5.5 1,4.8 C1,4.2 0.5,4 0.5,3 Z" fill="#1f1a82" stroke="#4a4030" stroke-opacity="0.55" stroke-width="0.35"/>
<rect x="261.3" y="200.7" width="92.4" height="2.9" fill="#fff" stroke="#111" stroke-width="0.6"/>
<rect x="261.3" y="200.4" width="46.2" height="3.5" fill="#000"/>
<text transform="translate(259.78,211.90) scale(1.100,1)" font-family='"Liberation Sans", sans-serif' font-size="6.3" font-weight="normal" fill="#141414" stroke="#141414" stroke-width="0.17">0</text>
<text transform="translate(303.45,211.90) scale(1.100,1)" font-family='"Liberation Sans", sans-serif' font-size="6.3" font-weight="normal" fill="#141414" stroke="#141414" stroke-width="0.17">50</text>
<text transform="translate(346.81,211.90) scale(1.100,1)" font-family='"Liberation Sans", sans-serif' font-size="6.3" font-weight="normal" fill="#141414" stroke="#141414" stroke-width="0.17">100</text>
<text transform="translate(289.95,221.90) scale(1.100,1)" font-family='"Liberation Sans", sans-serif' font-size="6.6" font-weight="normal" fill="#141414" stroke="#141414" stroke-width="0.17">Kilometers</text>
<g transform="translate(278.2,50.1)" stroke-linejoin="miter">
<circle r="8.1" fill="none" stroke="#1a1a1a" stroke-width="1.05"/>
<circle r="6.2" fill="none" stroke="#1a1a1a" stroke-width="0.35"/>
<polygon transform="rotate(45)" points="0,-6.9 1.7,-1.7 0,0 -1.7,-1.7" fill="#1a1a1a"/>
<polygon transform="rotate(135)" points="0,-6.9 1.7,-1.7 0,0 -1.7,-1.7" fill="#1a1a1a"/>
<polygon transform="rotate(225)" points="0,-6.9 1.7,-1.7 0,0 -1.7,-1.7" fill="#1a1a1a"/>
<polygon transform="rotate(315)" points="0,-6.9 1.7,-1.7 0,0 -1.7,-1.7" fill="#1a1a1a"/>
<polygon transform="rotate(0)" points="0,-9.4 1.6,-1.6 0,0" fill="#1a1a1a"/>
<polygon transform="rotate(0)" points="0,-9.4 -1.6,-1.6 0,0" fill="#8a8a8a" stroke="#1a1a1a" stroke-width="0.3"/>
<polygon transform="rotate(90)" points="0,-9.4 1.6,-1.6 0,0" fill="#1a1a1a"/>
<polygon transform="rotate(90)" points="0,-9.4 -1.6,-1.6 0,0" fill="#8a8a8a" stroke="#1a1a1a" stroke-width="0.3"/>
<polygon transform="rotate(180)" points="0,-9.4 1.6,-1.6 0,0" fill="#1a1a1a"/>
<polygon transform="rotate(180)" points="0,-9.4 -1.6,-1.6 0,0" fill="#8a8a8a" stroke="#1a1a1a" stroke-width="0.3"/>
<polygon transform="rotate(270)" points="0,-9.4 1.6,-1.6 0,0" fill="#1a1a1a"/>
<polygon transform="rotate(270)" points="0,-9.4 -1.6,-1.6 0,0" fill="#8a8a8a" stroke="#1a1a1a" stroke-width="0.3"/>
</g>
<text x="278.2" y="39.3" font-family='"Liberation Serif", serif' font-size="4.6" font-weight="bold" text-anchor="middle" fill="#222">N</text>
<text x="278.2" y="64.3" font-family='"Liberation Serif", serif' font-size="4.6" font-weight="bold" text-anchor="middle" fill="#222">S</text>
<text x="265.6" y="51.8" font-family='"Liberation Serif", serif' font-size="4.6" font-weight="bold" text-anchor="middle" fill="#222">W</text>
<text x="289.8" y="51.8" font-family='"Liberation Serif", serif' font-size="4.6" font-weight="bold" text-anchor="middle" fill="#222">E</text>
<text transform="translate(205.80,17.50) scale(1.092,1)" font-family='"Liberation Sans", sans-serif' font-size="5.3" font-weight="bold" fill="#141414" stroke="#141414" stroke-width="0.2">560000</text>
<text transform="translate(205.80,232.10) scale(1.092,1)" font-family='"Liberation Sans", sans-serif' font-size="5.3" font-weight="bold" fill="#141414" stroke="#141414" stroke-width="0.2">560000</text>
<text transform="translate(205.80,253.00) scale(1.092,1)" font-family='"Liberation Sans", sans-serif' font-size="5.3" font-weight="bold" fill="#141414" stroke="#141414" stroke-width="0.2">560000</text>
<text transform="translate(205.80,467.90) scale(1.092,1)" font-family='"Liberation Sans", sans-serif' font-size="5.3" font-weight="bold" fill="#141414" stroke="#141414" stroke-width="0.2">560000</text>
<text transform="translate(260.30,17.50) scale(1.086,1)" font-family='"Liberation Sans", sans-serif' font-size="5.3" font-weight="bold" fill="#141414" stroke="#141414" stroke-width="0.2">620000</text>
<text transform="translate(260.30,232.10) scale(1.086,1)" font-family='"Liberation Sans", sans-serif' font-size="5.3" font-weight="bold" fill="#141414" stroke="#141414" stroke-width="0.2">620000</text>
<text transform="translate(260.30,253.00) scale(1.086,1)" font-family='"Liberation Sans", sans-serif' font-size="5.3" font-weight="bold" fill="#141414" stroke="#141414" stroke-width="0.2">620000</text>
<text transform="translate(260.30,467.90) scale(1.086,1)" font-family='"Liberation Sans", sans-serif' font-size="5.3" font-weight="bold" fill="#141414" stroke="#141414" stroke-width="0.2">620000</text>
<text transform="translate(315.00,17.50) scale(1.109,1)" font-family='"Liberation Sans", sans-serif' font-size="5.3" font-weight="bold" fill="#141414" stroke="#141414" stroke-width="0.2">680000</text>
<text transform="translate(315.00,232.10) scale(1.109,1)" font-family='"Liberation Sans", sans-serif' font-size="5.3" font-weight="bold" fill="#141414" stroke="#141414" stroke-width="0.2">680000</text>
<text transform="translate(315.00,253.00) scale(1.109,1)" font-family='"Liberation Sans", sans-serif' font-size="5.3" font-weight="bold" fill="#141414" stroke="#141414" stroke-width="0.2">680000</text>
<text transform="translate(315.00,467.90) scale(1.109,1)" font-family='"Liberation Sans", sans-serif' font-size="5.3" font-weight="bold" fill="#141414" stroke="#141414" stroke-width="0.2">680000</text>
<text transform="translate(185.10,66.65) rotate(-90) scale(1.032,1)" font-family='"Liberation Sans", sans-serif' font-size="5.3" font-weight="bold" fill="#222">2960000</text>
<text transform="translate(374.90,66.35) rotate(-90) scale(1.032,1)" font-family='"Liberation Sans", sans-serif' font-size="5.3" font-weight="bold" fill="#222">2960000</text>
<text transform="translate(185.10,139.15) rotate(-90) scale(1.032,1)" font-family='"Liberation Sans", sans-serif' font-size="5.3" font-weight="bold" fill="#222">2880000</text>
<text transform="translate(374.90,138.85) rotate(-90) scale(1.032,1)" font-family='"Liberation Sans", sans-serif' font-size="5.3" font-weight="bold" fill="#222">2880000</text>
<text transform="translate(185.10,212.65) rotate(-90) scale(1.032,1)" font-family='"Liberation Sans", sans-serif' font-size="5.3" font-weight="bold" fill="#222">2800000</text>
<text transform="translate(374.90,212.35) rotate(-90) scale(1.032,1)" font-family='"Liberation Sans", sans-serif' font-size="5.3" font-weight="bold" fill="#222">2800000</text>
<text transform="translate(185.10,303.95) rotate(-90) scale(1.032,1)" font-family='"Liberation Sans", sans-serif' font-size="5.3" font-weight="bold" fill="#222">2960000</text>
<text transform="translate(374.30,304.25) rotate(-90) scale(1.032,1)" font-family='"Liberation Sans", sans-serif' font-size="5.3" font-weight="bold" fill="#222">2960000</text>
<text transform="translate(185.10,377.35) rotate(-90) scale(1.032,1)" font-family='"Liberation Sans", sans-serif' font-size="5.3" font-weight="bold" fill="#222">2880000</text>
<text transform="translate(374.30,377.65) rotate(-90) scale(1.032,1)" font-family='"Liberation Sans", sans-serif' font-size="5.3" font-weight="bold" fill="#222">2880000</text>
<text transform="translate(185.10,450.45) rotate(-90) scale(1.032,1)" font-family='"Liberation Sans", sans-serif' font-size="5.3" font-weight="bold" fill="#222">2800000</text>
<text transform="translate(374.30,450.75) rotate(-90) scale(1.032,1)" font-family='"Liberation Sans", sans-serif' font-size="5.3" font-weight="bold" fill="#222">2800000</text>
<g clip-path="url(#mape)">
<polygon points="359.1,265.0 357.0,267.4 352.9,270.2 348.8,272.8 344.7,274.1 339.8,274.8 334.1,275.1 330.8,276.4 328.1,279.3 325.9,282.9 324.0,286.5 322.2,289.2 320.2,291.9 317.7,294.7 314.5,296.4 310.4,297.7 306.3,299.0 303.0,300.6 299.7,302.6 295.7,305.0 292.4,307.5 289.7,309.6 287.3,309.0 288.1,313.9 284.0,318.0 279.1,322.1 277.5,315.5 275.8,313.9 273.4,318.8 270.1,322.1 268.5,327.0 269.3,332.7 265.2,336.8 260.3,339.3 257.0,344.2 254.5,348.4 250.7,356.0 248.2,363.5 248.2,373.5 244.4,379.8 238.2,384.8 233.1,387.3 231.9,381.0 230.6,376.0 226.9,378.5 224.4,383.6 220.6,386.1 216.8,389.8 216.8,396.1 210.6,401.1 204.3,406.1 199.3,409.9 193.0,413.7 190.5,417.4 193.0,422.4 196.8,427.5 201.8,428.7 201.8,435.0 204.3,441.3 206.8,446.3 210.6,450.0 214.3,446.3 219.3,441.3 223.1,436.2 226.9,430.0 230.6,423.7 233.1,417.4 235.6,413.7 241.9,409.9 248.2,407.4 252.0,409.9 256.7,413.7 261.7,417.4 268.0,417.4 273.0,419.9 279.3,419.9 286.8,418.7 291.8,417.4 298.2,413.7 303.2,408.6 305.8,402.4 307.2,397.9 308.8,397.9 307.6,403.4 305.2,411.2 305.6,417.4 308.2,422.4 313.2,423.7 320.7,424.9 325.7,419.9 332.0,416.2 335.8,409.9 339.5,404.9 342.0,398.6 345.8,392.3 348.3,384.8 345.8,379.8 348.8,377.3 352.9,373.2 356.2,368.4 355.8,363.9 352.9,355.7 353.7,347.5 354.8,340.9 352.9,331.1 348.8,326.4 349.7,322.9 352.9,314.8 356.2,307.3 358.7,305.9 361.1,300.9 362.4,296.9 361.9,291.1 361.1,284.6 362.4,279.7 361.1,274.8 360.3,268.2" fill="#4a27a0" />
<g transform="translate(187.37,260.57) scale(0.33333)"><path fill="#7356b0" fill-rule="evenodd" d="M73 548l-5 5-4-1 4-4 1 1 2-2zM63 548l1-1 1 1-1 1zM92 546l1 1-3 2-1-1zM84 543l1-1 1 1-1 1zM56 542l1-1 1 2-1 1zM95 541l1-1 1 1-1 1zM58 539l2-1 1 2-2 1zM79 532l2-1 1 2-2 2zM82 527l1-1 1 1-1 1zM106 526l1-3 3 2-2 2zM47 521l1-1 1 1-1 1zM99 512l1 3-4 6 0 4-4 2-1-1 1-6 4-7zM74 510l2 3-6 4-2-3zM54 510l1 3-2 2-1-3zM108 509l1 2-4 3-1-2zM53 508l1-2 2 1-2 2zM124 498l1-1 1 1-1 1zM118 499l2-2 5 2-3 2zM69 502l6-5 5 2 4-1 1 1-6 7-2-1 2-3-2-2-4 5zM104 496l1 3-3 2-1-2zM80 493l3-1 1 3-3 1zM95 492l1-1 2 1-1 1zM68 492l2-1 2 3-2 1zM23 497l0 1 6-1 3 3-3 3 8-1 4 2 0-3-4-3-2 1-5-1 4-5-2-2zM34 489l3 6 4-5 5 1-1-2-4 1-6-2zM383 487l1-1 1 1-1 1zM101 486l-2 4-4-1-4 5-3-2 0-2 3-1 2-4 3-2 2 3 2-1zM96 483l1-1 1 1-1 1zM365 482l2-3 2 1-2 3zM399 477l2 5 2-2 2 1-1 2 2 2-1 1-7-3-1-4zM400 476l1-1 1 1-1 1zM270 474l1 3-2 1-1-2zM133 474l1 1-1 3-2-2zM369 473l1 1-4 5-2-2 2-3zM297 474l1-1 2 2-2 1zM114 474l2-1 1 2-2 1zM78 474l-1 1 1 1 1-1zM41 474l-2 0-5 4-1 3 2 2 2 0 0-4 3-3 3 0zM406 471l6 5-3 6-3-1 2-4-3-5zM399 470l1 2-3 2-1-2zM282 470l1 3-2 1-1-2zM230 471l-5 1 0 1 4 0zM85 470l-3 3 2 0zM130 469l1-1 2 1-1 1zM419 467l1 5-2 2-2-2 0-3zM135 468l1-1 1 1-1 1zM35 468l-6 2 0 3 5-2zM55 468l-1 4 4-3 2 2 1 5 4 3 1-3-2 0-1-2 3-3 2-5-5 1-3-1zM282 463l3 5-2 2-6 1-3-2 2-4 3-2zM219 464l1-1 1 1-1 1zM66 462l-3 1 2 1zM45 462l-3 2 4 5 1-2-3-3zM413 460l1 2-2 2-2-2zM402 460l1 1-1 4 2 1 0 3-4 2-2-6 2-4zM394 461l2-1 2 3-2 1zM263 460l2 2-2 4 1 4-2 2-2-2-1 2-4 2-1-6 4-4 2 0zM245 460l3 3-1 4-4-4zM421 459l2 1-1 7-3-1zM301 459l1 4-2 1-1-2zM145 465l-2 1-4-2-3 1-2-5-3 2-3-1-2 2 2 2-9 6-1-3 2-4-4-1 1 5-10 9-1-1 1-3 7-7-2 0-3 3-1-1-3 1 1 3-6 9-4-1-4 2-2-2-5 7 1 2-1 2-3-2 1-7-5 3-1-1-1 3-6-1 2-5 3 1 1-4-4 3-4 1 1 1-2 4 1 3-3 5 3 3-5 6-5 2-3-4-4 4-2-2 2-4-3-1 0 7-2 2-3 1-3-3-2 0 4 2 0 5 1-1 1 1-2 4 0 10 1-1 2 1-2 3 5 13 8 16 12 12 4 0 22-22-1-1 4-2 6-8-3 0-3 3-4-5 5-3 2 1 3-2 4 1 4-5 1-5 5-5 12-20-4-1 5-5 2 0 5-13zM86 460l-4 3-4 0 0 3-6 5-1 5 4-4 2 0 6-7 2 0zM100 459l-1 9 4-3zM335 457l1 2-3 3-1-3zM246 457l1 2-2 1-1-1zM61 458l-6 1-3 6 2 0 1-3 4-1zM318 456l1 3-4 2-2-3zM385 455l1 1-1 4-3 3-1-4zM109 456l1 3-1 2 1 0 0-5zM374 454l3 2-1 3-4-2zM299 455l1-1 2 1-1 1zM289 457l3-3 3 1-2 2-3 1zM138 455l-3 0-1 3 2 0zM254 453l1 3-2 2-1-3zM75 454l-6 6 2 0 0-2zM236 452l2 2-3 3-2 0-1-3zM89 453l-4 4-2-4-2 1-3 6 7-3 4 1-1-2zM56 453l-3 1 0 3zM48 453l-1 3 2-2zM339 451l1 2-3 2-1-2zM258 451l1 4 2 1-2 3-3-4zM38 451l-2 3 2-1zM271 454l0-2 4-3 2 0 3 3-2 2-5 1zM201 449l1 2-4 4-2-3 3-3zM446 449l1-1 1 1-1 1zM31 449l-3 1-3 6-4-2-7 5 1 4-2 2-2-1-1 2 2 2-2 1 1 4 5-10 5-4 3 2 0 2-5 5 0 2 3 1 4-9 4-1-2-4zM447 448l1-1 1 1-1 1zM411 449l1-2 3 1-3 2zM114 447l-1 2 2 1 0 5 2-1-1-3 2-3zM427 445l1 1-2 3 1 2-3 1-1 2 3 3-1 1-5-1-3 4-2 0-1-3 5-6 0-2 5-5zM359 445l1 4-3 3-3 0-1-3zM415 445l4-1 1 2-3 1zM171 446l2-2 2 1-1 2zM383 443l3 4-6 5-3-1 3-4 0-3zM343 443l1 1-1 5-3 2-2-4zM326 443l1 3 3 2-6 4-2-4zM246 443l2 2-4 4-2-3zM130 444l-3 2 2 0zM263 443l-1 3-9 3-2 2-1-1 1-4 4-4zM225 442l3 2-2 4 5 6-3 4-5-1-2-2 0-3 3-3-1-5zM159 446l-3 2-4-5-6 0-1 8 2 1 0 2-5 6 4 2 3-1 2-2 0-3-1 1-2-3 1-3 3-3 2 3 4-2zM111 443l-4 4 3-1zM428 442l1-1 2 3-2 1zM93 441l1 2 3-1-1-2zM289 438l1 1-2 3-3 1-2-2 3-3zM130 439l-2 0-8 8 3 1 4-7 2 1 2-1zM78 439l-2 2 1 1 2-1zM289 438l1-1 1 1-1 1zM393 436l1 1-4 4-1-2zM388 436l1 2-5 6-1-1 1-5zM375 436l1 2-4 4-4 2-2-2 3-4 3-2zM441 436l-1 2 1 3-2 3-3 0-2-5-3 2-1-1 4-4 5-1zM207 435l1 2-3 3-1-3zM47 436l1 5-4 2 0 2 4 1-1-4 3-2 3 1-2-3zM311 435l1-1 1 1-1 1zM235 435l1-1 2 1-1 1zM225 435l1-1 1 1-1 1zM63 437l-1 1-3-3 0 7-6 6 7-4 0-3zM344 436l4-3 1 1-1 3 4 0 3-2 1 3-2 4-1-1-6 3-3-4zM343 433l2 2-5 5 0 2-5 2-1-2 6-8zM312 434l1-1 1 1-1 1zM207 434l1-1 1 1-1 1zM109 434l-3 0 0 2-3 2 0 4-3 3 5-3-1-2 4-3zM398 433l1-1 1 1-1 1zM166 432l4 3-6 4-1-1 1-4zM146 433l-3 2-2 6-7 5-2 6-3 3-2-1-4 0 0 1 7 2 2-4 4-2 0-5 7-6zM420 431l1 1-2 3-1-3zM401 431l1-1 1 1-1 1zM408 429l5 3 0 4 4-2 1 3-3 3-2 0-2-4-5 2 2 3-1 3-4 1-2 5-4-1-2 1 0 2 5-2 2 1 0 3-5 6-1-3-4 0-1-3-2-1 3-7-1-1 2-2 6 2 3-5-4 3-3 0-1-2 7-6 2 2 3-3zM366 430l1-1 1 1-1 1zM346 430l1-1 1 1-1 1zM271 431l1-2 2 1-2 2zM211 429l1 2-3 3-1-2zM156 430l-2 1 0 2 2-1zM278 429l1-1 1 1-1 1zM137 429l-4 8 6-6zM444 427l1 2-2 1-1-1zM420 428l1-1 2 2-2 1zM266 428l1-1 1 1-1 1zM184 428l-5 5 2 4 3-3-2-3zM348 426l1 1-1 3-1-1zM279 428l1-2 2 1-2 2zM301 425l2 1 0 4-2 1-1 3 1 6 2-3 3-1 1-4 4 2-2 2 0 2 2 1 0 4-7 7-8-4-1-6 2-3-4-3zM242 425l4 2 0 5 2-1 2 1-1 4-6 5-2-1 2-6-3-6zM107 424l-2 2 1 1 2-2zM405 424l-2 4-13 3-3 2-2-2 0-5 2-2 7-1 1 2 2 0 5-3zM257 422l2 2 6-2 2 2-1 3-3-2-1 5 3 0 4 3 1 3-3 6-1-5-7 3-2-1 0-2-2 1-2-1 3-5 0-2-3-3zM348 422l3-1 1 3-2 1zM205 422l-1 1 2 1zM430 421l1-1 1 1-1 1zM312 420l2 3-7 8-2 0-1-3zM442 419l1 1-3 3-1-2zM431 420l1-1 1 1-1 1zM220 423l2-4 3 1-2 4zM118 420l-1 1 1 2 1-1zM448 418l5 3 0 2-4 3-2 0-3-3 0-2zM407 418l1 3-3 2-1-3zM398 418l1 1-3 2-1-1zM383 419l1 2-4 4 2 2-2 2-1 5-3 1-3-3-4-1 1-1 6 1 2-2-2-3 3-8zM293 420l-4 4-4 0-2-2 1-3 4 1 3-2zM231 418l2 3 0 4 3 3-6 6-2-2 1-2-1-4 2-2-1-4zM398 418l1-1 1 1-1 1zM432 419l2-3 3 1-2 3zM419 416l1 1-4 3-1-2zM273 416l-4 5-4-1 1-2 6-3zM207 416l-1 1 2 1zM248 415l0 2-4 4-6 3-2-1 0-3 3-1 5-5zM225 414l1 2-3 3-2-3zM103 415l-3 5-3 2 0 2 6-4zM84 415l-6 2-5-1-3 2 3 0 2 2-2 2-2-2-1 1 1 7 4 1-2 4 3 0 3-4 5 1-1-2 3-6-2 4-6 1-2-1 2-4 5-3zM446 415l1-2 5 1-3 2zM289 414l1-1 1 2-1 1zM423 412l7 1-3 7-6-4zM394 412l1 3-3 1-1 4-2 0-2-5zM375 412l4 4-2 5-6 5-3-1 1-3-3-3-9 10 2 3-3 4-4-5 3-6 8-8 4-1 2-4 2 1zM353 419l3-7 6 3-7 5zM278 412l2 2-1 9-5-5zM399 412l2-1 2 3-2 2zM268 411l3 1-2 3-3-1zM261 412l1-1 1 1-1 1zM197 412l-3 2-1 3 3-1zM403 411l1-1 1 1-1 1zM270 411l1-1 2 1-1 1zM253 409l3 1 0 4-2 2-5-3zM347 411l-5 5-4 8-6-2 0-2 3-1 0-4 7-7 2 3 1-1zM286 409l2-1 1 3-1 1zM128 409l-5 3-2-2-7 1 1 5 2 0 1-2 4-1 1 1-3 2 0 2 3 0 4-5zM237 407l2-1 1 3-2 1zM399 406l2-1 1 2-2 1zM252 406l1-1 1 2-1 1zM247 405l2 1-1 3-3-1zM180 406l-4 2-2 7 4-3 2-3zM98 406l-1 5-7 6 1 2 8-6zM88 406l1 4 1-2zM374 404l1 2-4 3-1-3zM291 403l1 2-3 2-1-2zM264 404l2-1 1 3-2 1zM213 404l-4 4 2 0zM406 402l1-1 1 2-1 1zM291 402l1-1 1 2-1 1zM256 401l1 2-2 1-1-1zM144 402l-1 0-1 5zM248 401l1-1 1 1-1 1zM152 401l-4 1 0 2 3 0zM463 399l2 4 0 4-4 3-5 0-2 3-2 0-1-2 4-3 1-2-1-2 2-2 3 1 0-3zM449 400l1-1 1 2-1 1zM448 401l-6 6-3-1-4 5-4-1 2-3 0-3 6-1 1-4 4 2 2-1zM407 405l1-1 2 1 2-1 2-4 5-1 5 8-2 5-2 1-3-2 0-5-4 0-5 3zM393 399l5 6-3 3-5 1-5 4-1-4 3-5 4 1-1-3zM220 400l0 4 1-1zM270 399l2-1 1 3-2 1zM137 399l-3 2 0 4zM475 398l-3 1 0 3 3-1zM367 397l1 3-3 2 2 5-4 2-1 3-5-2 3-4-1-1 1-3 3-2 1-3zM358 397l1 1-1 3-7 7-1-1 1-5 4-4zM358 397l1-1 2 1-1 1zM351 396l1 3-4 2-1-3zM259 396l1 3-3 3-2-3zM457 396l2-1 1 2-2 1zM400 394l2 2-3 3-2-3zM382 394l1 3-5 4-3-3 3-3zM200 395l-2 0-1 2 2 0zM183 398l-6 1-2-2 0-3-2 0 1 2-1 9 1 1 2-1 3-4 2 1zM371 392l1 2-4 4-1-3zM248 394l1-2 2 1-2 2zM235 394l-1-1-1 2zM108 393l-3 0 0 5 3-2zM281 392l2 2-3 6-5 4-1-1 2-5-2-2 3-5 2 2zM205 395l1 2 5-4 1 2-3 2 3 1 2-2-3-4-5 0zM288 390l1 1-1 4 2 5-6 2-2-3zM114 391l-2 1-1 3zM431 389l2 2-3 2-1-2zM359 392l5-3 4 4-6 1zM193 390l-2 0-6 6 3 0 5-4zM352 387l2 2-2 5-2-2 0-3zM293 388l1-1 1 1-1 1zM151 388l-3 4 4-1 2 3 1-1 1 1-1 4 3 2 0 2 3-1 1-4-4-1-1-8-3 1zM321 386l1 2-2 2-1-2zM240 386l-4 5 3 3 2 0-1-4 3-3zM430 383l1 5-4 3-3 0-1-1 3-3 0-2zM290 382l1-1 3 1-2 2zM404 379l4 4-2 4-5 6-4-2-3 3-1-3 6-6-1-3zM127 381l3 2-1-3zM275 379l-2 1 1 1zM423 380l3-3 3 1-4 3zM406 378l1-1 1 1-1 1zM323 377l1 2-15 11 1 3-3 3-1-1 1-4-1 0-6 7 1 2 3 1 0 4 4 1 1-3-2 0-4-4 3-4 4 4 3-2 0-4 3-3 3 2-1 3 4 1-3 2 5-1 4-3 1 2-3 2-4 6-3 1-1 3 1 4-2 3-3 2-1-7-4 1 0 2 3 2-2 3-3 0-3-5-3 6 0 3-3 3-3 0-9 13-3 0-2 2-3-2 1 5-3 1-2-2 1-2-2-4 1-3 2-2 2 3 5-2 1-3 7-3 4-8 3-3-1-10 1-4-1-3-2-1 2-9 6-5 4 1 1-3 5-3 2 2-4 3 1 1 2-3 5-1 1-2zM150 377l1 4-4 2-2-2zM444 376l2 3-6 2 2 3-6 1 4 2-1 6-4 1-6 5-2-4 7-3-3-3 1-2-2-4 1-4 4-3 2 0 1 2zM388 377l1-1 1 1-1 1zM348 377l3-1 2 3-3 1zM331 381l2-5 5 2-6 4zM323 377l1-1 1 1-1 1zM473 378l4-3 4 4-2 2-5-1zM110 375l0 3 3 0 2 2 1-1-2-3zM193 376l-3 0-3-2-8 10-2 0-4 7 2 1 4-3 5 0 4-2-2-3 0-4 2-2 2 3 2-3 2 0zM103 374l-4 0-9 9 2-1 2 3-3 3-2 5-2 1 0 5 3-3 2 1 2-1-2-2 3-7-2-1 4-4 3-1 3 1-3 3-2 0 0 2 3-2 2 1 2-1-2-3 2-3-2-2 1-1zM421 373l1-1 2 3-2 1zM340 373l2-1 3 3-3 2zM307 372l1 5-3 3-5 1-1-3 2-2 3 0 0-3zM434 372l1-1 1 1-1 1zM302 371l1 4-2 1-1-3zM257 372l1-1 2 2-2 1zM211 372l-14 15 1 3 4-3-2-2 3-4 1 1 2-1 5-7zM178 372l-1 3-8 3-2 8 7-5 0-3 2-2 2 0zM127 372l-2 1-2 4 5 0zM478 371l2-1 4 4-4 1zM297 370l-2 2 1 3-4 4-3-6 5-4zM208 371l-2-1-2 3zM240 369l-3-1-2 5 4-1zM163 368l0 3-2 2-2-4-2 0-6 6-4-2-5 4 0 3-2 1-1 5-4 1-2-4 1 3-4 2-1 5 3-1 1 1 0-2 10-9 4 2 0 3 5-6 3-1 1-4 5-1 3 3 0-4-2-2 2-2zM446 365l2 1-1 3 3-1 2 3 0 2-4 4-3-1-1-5-1 2-3-1 1-3zM298 365l1-1 1 1-1 1zM248 365l-6 1 2 6-2 3 1 3-2 4 3-2-1-3 2-5 4-3zM441 363l1 1-1 4-4 2-1-1 1-4zM441 363l1-1 1 1-1 1zM318 362l4 1-2 5 2 0 1 2-2 2-3 0-4-5zM310 362l1 3-5 5-3 1-1-1 1-4 5-4zM295 362l1-1 1 1-1 1zM270 363l2 2 4-3 2 2-1-2zM345 364l0 3-4 4-2-1 1-2-3 0-5 3-1-1 1-4-3 2 2 3-3 2-1 3-2-2 3-10 5-5 3 4 4-2zM398 359l2-1 1 2-2 1zM264 359l-5 1-2 2-5-1-1 2 3 3 10-5zM222 359l-4 5 1 3 4-2zM367 358l-8 5-3 0-1 2 4 3 4-3 1-3 3-2zM122 357l1 4-2 3-2-3zM444 354l2 2-7 6-1-1 1-5 2-2zM324 354l3 1-1 2 3 1-3 4-5-1 0-4zM273 355l1-1 1 1-1 1zM482 354l-2 1 1 3zM261 353l1 2 2-1zM254 353l-3 3 1 1zM221 353l-1 2 3 1zM331 351l4 2-2 4-4-1 0-3zM246 352l-5 2-1 7 4-1 2-4zM172 361l9-1 2-3 2 0 3 5 0-3 3-4-3-2-3 4-3-1-4 2-2-3 1-2-3-1-1 1 1 5zM439 349l1 2-3 3-2-2zM304 350l1-1 1 2-1 1zM491 349l-6 3 2 1zM435 348l2 2-4 6 0 3-3 2-2-3 4-8zM335 349l1-1 1 1-1 1zM442 348l1-1 1 1-1 1zM328 348l1-1 1 1-1 1zM456 348l1-2 3 1-3 2zM231 347l-2 3 1 1zM373 346l-1 2 2 4 1-3zM246 346l-4 2 2 2zM366 345l0 4 1 0 1-3zM205 345l-10 9 2 5 7-1zM175 347l3 0 0-2-2 0zM132 345l-12 5 1 2 2-2 3 4-1 1-4-1-8 9 1 1 3-3 2 4 5 1 2-6 8-8-3-3zM335 341l1-1 1 1-1 1zM389 340l1 4-2 3 3 0 0-6zM256 339l-2 1 1 2zM223 339l-5 0 0 2-4 3 0 4 5 1-1-5zM346 337l3 3 0 2-4 6 0 3-2 1-2-2 0-4zM236 337l-5 5-6 2-1 2 1 1 2-3 3 1 3-1zM426 335l2-1 1 2-2 1zM384 334l-6 5-1 7 4-2zM311 333l1 3-2 1-1-2zM230 334l-4 3 0 2zM204 334l-2 0-1 3 1 4zM369 332l1-1 1 1-1 1zM451 331l2 3 2 0-1-2zM220 331l-1 2 3 1zM187 331l-6 2 0 3 1-1 2 1-1 4 2 1 2-4 3-1 0-2-2 0zM356 330l-1 5-7 0-3-2 1-3 2 2 2 0 2-3zM459 328l1 7 6-6 4 3 1 6 4-6-1-3-4 2-3-3-3 2zM342 332l-3 3-2-1 2 2-2 2-4 0-1 5-2-3-11 14-8 0-3-2 1-2-1-6 4-5 6-1 1 3-3 3 6 2 3-9 3 0 4-6 4 1 2-1 2-4zM363 326l2 1-1 3-3-1zM289 327l1 2 2 0zM392 326l-1-1-5 6 5-2zM228 325l-3 0-3 2-4-1-2 3 6-1 3 2zM245 324l-6 4 2 3 3-3zM310 323l2-1 1 2-2 1zM366 322l1-1 3 3-3 2zM506 321l-2 2 2 3 2 0 1-4-2 1zM405 321l-5 2-5 0 1 5-3 4-1 5 5-4 2-5 3 1-1 2 3 1-1-6 3-4zM391 320l-1 2 2 1 1-1zM351 321l2-2 2 1-1 2zM342 319l1 2-3 2-1-2zM314 330l2-3 3 1 2-3-2 2-2-1-1-5 3-3 5 2 1 5 2-1 2-5 8 6-5 2-6 6-3 0-1-3-3 3zM265 319l-4 6 1 2-4 4 1 3-2 3 3-6 5-4 2 3-4 3 0 2 3-1 2 2 3-3 3 3 0 3 2 0 1-4-1-4 2-3-1-3-3 1-4 4-3-2-1-4 5-2 0-2zM191 318l1 3-2 2-3 0-1-2 3-3zM219 318l-6 3-1 4-2 1 1 3-1 3 2-1 1-5 3-3 4-1zM509 317l-2 2 2 0zM332 317l1-1 2 1-1 1zM364 315l-2 2 2 0zM225 315l-1 3 2-2zM335 315l1-2 2 1-2 2zM460 312l1 2-2 1-1-1zM444 317l-4-4-5 5-3 1-4-1 1 2 4-1 6 4 1-1-1-2zM423 313l-1 2 2 0zM353 313l2-1 2 3-3 1zM346 312l1 1-2 3 0 3-2 1-1-1 1-5zM318 313l2-1 1 3-2 1zM483 312l1 2 1-1zM298 311l1 3-2 1-1-1zM502 311l-5 4 3 3 1-1-2-4 1-1 1 1zM240 310l-2 1 1 2-3 2-1 10-2 3-2 0 1 4 8-10-1-7 2-1zM268 309l-1 3 1 0zM329 307l2 3-1 4-2-1zM309 305l1-1 1 1-1 1zM196 305l-5 1 2 6 2-4 1 2 2-1zM473 302l1 3-3 3-2 0-1-2zM426 302l1-1 1 1-1 1zM479 301l2-1 2 2-3 1zM407 301l-2 3 3 3-1 1-3-1-3 3-8 3 1 4 3 0 4-6 2-1 2 1 5-5zM505 300l-2 2-3-1-3 3-3 0-1 4-6 5-1 4 1 1 2-2 1-4 4 0 9-7 2 2 3 0-4-5zM420 299l2-1 1 2-2 1zM210 298l2 3-3 5-3 0-1-1zM386 297l1 5 1 0 2-3zM264 298l0 2 5 0-3-3zM230 297l-2 1-1 6-2 1 0 2 4-4 2-5zM445 295l-3 1-1 4 5-2zM344 292l2 2 1 5-2 2-2-1-1 1 1 4-2 2-7 3-1-1 3-2-1-5zM208 292l3 1-1 5-4 1-1-1zM472 292l1-1 2 1-1 1zM328 291l1 2-3 3-1-1 1-3zM469 291l1-1 3 1-1 1zM332 291l4-1 1 2-4 1zM286 289l1-1 1 2-1 1zM279 289l2-3 2 1-1 3zM235 287l1-1 1 1-1 1zM452 285l-1 0-1 5 2-2zM248 285l2-1 1 3-2 1zM225 286l2-2 2 1-1 2zM493 284l1-1 1 1-1 1zM462 284l-4 0-2 3 2 2 2-2 1 2-4 2-2 3-3 0 1 7-3 3-2 0 1 1 4-1 1-3 4-3 6-12zM432 283l-8 4-4-1 2 5 4-1 3-5zM241 282l5-1 2 3-2 3-2-2-2 1zM220 281l1 8-2 2-2-3 1-5zM310 283l2 3-4 2-1 3 1 6-4 7 1-1 5 1-3 1-4 5-2 0-1-3-7 3-1-8 5-3-2-2 1-2 6-5 0-3-2 1-1-1 1-5 3-2 1 4 3 2zM311 280l1-1 1 2-1 1zM400 281l-3 0-2-2 1 5-5 8 8-4 0-4 2-2zM273 279l1-1 1 1-1 1zM216 278l1 4-4 5-4 1-1-3 3-6zM274 278l1-1 1 1-1 1zM494 276l1 1-1 6-2 3-3 1-2-2 1-5zM324 276l1 4-5 5 1 5-2 2-2-1-3 3-2 0-1-4 3-2 1-3 4-2 0-6zM229 277l2-1 4 4 0 2-6 1-1-1zM218 277l3-1 4 4-4 2-3-3zM251 275l1 3-2 2-1-2zM246 275l1 4-3 2-2-3zM240 275l1 2-3 3-1-3zM289 275l1-1 1 1-1 1zM490 274l2-1 1 2-2 1zM466 274l1 4 2 1 1-3zM326 273l1-1 1 1-1 1zM414 272l-3 5 0 4-4 4-6 3 0 2 3 2-2 2 2 2 5-1 2 2 0 4 8-6 1 1-1 7 2 1 2-3 4 2-3 3 0 4 3 0 3-2 2 1 3-4 1 3 3 1 1-2-1-5-5 1-4-1 1-2-1-2 2-4-5 4-3 0-2-3-2 1-4-4-5 2-5-1 2-3 2 0-2-2 4-4 3 1 2-1-5-4 3-5zM200 272l1-1 1 1-1 1zM314 270l3 1 1 4-2 2-2-1-1-4zM290 271l-2 4-7 6-1-1 2-3-1-2 6-5zM234 269l2 4-3 2-2-2zM255 268l3 5-1 3-4-2 0-3zM467 267l-2 1 1 2zM223 272l2-6 2-1 6 2-1 3-3 0-4 3zM502 265l-5 4-7-2 0 3-4 6-6-2-1 3-2 1-2-1-1 3-3 0-5 4 2 6-5 3 0 3 5-3 2 0 3 3 5-7 1-4-5 4-2 0-2-4 5-5 4 1 3-4 5 3-2 7-5 3-3 8 0 4-2 1-5-5-4 3 0 2-4 4-1-3-2-1-4 5-2-1-3 1 1 4-4 4 2 2 3-2 1-3 5 1-4 6-4 1 0 2 4-1 2-3 3 1 0-2 2-1 4 3 1 3 7 1 4 5 7-2 13 1 1 1-1 3-3-1-3 3-4-3 0 2-3 3-2-3-3 3-5 8 7-8 4 1-5 9 2-1 5 2 2-2-2-4 8-6 3 0 2-2 0-5-5-3 1-1-1-6-5 4-1 3-5 1-5-2 2-2 1-5-5 1-1-1 1-3-5 1-2 2-4-3 2-2 7-1 3-3 3 0 3-3 3 0 3-2-7-3 3-4-1-1-3 5-2-2 0-3 3-3 4 0 8-4 2 5-5 4-1 3 3 0 5-8 4 2-4-9 1-2-1-9 2-2zM350 261l2 2-2 3-2-2zM312 262l-2 4-5-1 1-3 4-1zM433 261l-2 4-4 1-4-1 2-4 2 2 3-3zM267 260l2 4-1 1-3-1-3 3 0 2-3 2-1-1 3-5-2-2 2-2zM338 260l-2 0-3 3 0 2zM501 259l-1 3 1 0zM283 258l1 4 3 3-10 10-1 3-2-3 2-4 6-5-1-7zM255 256l3 2 1 4-4 3 0 2-8 8-2-5 3-1 4-7 0-3zM350 255l2 1-1 3-3-1zM279 256l1-1 2 3-1 1zM294 254l1-1 1 1-1 1zM284 254l1-1 6 2 3-1 1 2-7 4-3-2zM403 253l-3 0-1 6-3-3-2 0-5 6 0 5 3 2-2 3 1 3 3-1 3-5 4-3 0-1-4 0-3-2 2-3 3 1 4-5zM232 252l1 3-3 3-2-4zM270 252l-1 2 2 1 1-2zM391 248l0 1 3 0zM331 246l-2 0 0 2zM454 246l0 2-3 3-5 1-1 3-4 0-5 6-2 0-4-4 1-2 4 1 4-3 7-9 4 2 1-1zM409 244l-3 3 3 6-3 2 0 3 3-4 8-3-2-2-5 1-2-2zM497 243l-1 1 1 2 1-1zM482 241l1 3-4 4-2-3 3-4zM283 243l3 1 0-2zM456 241l1-1 1 1-1 1zM356 241l-2 3 3 1-2-2zM320 244l-6 11-11 8 2 5-4 4 1 4-5 5-5-1-1-4 2-3-2 1-1-2 2-2 2 1 2-3-2-2-1 2 2 1-4 1-2-2 0-3 6-8 4-3 2 2 1-4-3-4 4-2 2-6 3 2 2-3 2 1 0 4-1 1-3-1-3 3 0 2 1-1 4 1 6-8zM274 240l1-1 2 1-1 1zM341 237l-1 1 0 3 2 3-1 2-2 1-1-1 1-3-2 1 1 4 3 0 2 2-4 4 1 3 3-5 4-2 2-4-2-4-5-1 1-2zM504 236l-1 3 2-1zM425 235l1-1 4 1-3 3zM287 235l0 3 2-1 2 1-1 5 1 1 2-1 2-5-5-1-2 1zM404 238l1-5 2 1 2-1 2 2-5 5zM350 234l-2 2 2 0zM417 233l1-1 1 1-1 1zM239 235l-1 2-2 0-5 4-3-2 5-7zM470 232l1-1 1 2-1 1zM339 231l-6 5 6-3zM241 231l1-1 1 1-1 1zM283 231l-7-1-4 7 2 4-1 1-5-1-3 7 3 0 2 2 4-3 5-7 0-2 5-5zM255 229l2 2-4 4-1-4zM248 226l1 1-1 3-1-1zM270 226l1-1 1 1-1 1zM422 225l-3 1 0 2-4 3-1-1-1 1-3-1-2 2-7-1-4 5-5-2-4 4 0 2 3 4 2 0 0-3 5-4 2 2 0 3-4 2-1 2 1 1 4-2 2 1 1-3 3-1 3-4 9-2 4-4-1-4zM386 223l2 2-2 3-2-2zM313 224l2-1 1 2-2 1zM449 221l-1 0 0 3zM386 221l2-1 1 3-1 1zM501 218l-5 6 6-1zM348 218l-2 5-3 1 1 2 3-1 3-4zM374 217l3-1 1 4-2 1zM420 217l-3-1 0 2-5 3-2 7 2 0 8-9zM465 213l-5 1-1 3 4 0zM243 212l1 3-1 2-8 7 6-2 3-5zM451 211l0 3 2 3-1 2 2-4-3-2zM268 209l-2 4 2 0 1-2zM495 210l-3-1-2 3-4-1-5 5-5-3-6 5 0 3-2 2 8-4 7 0 1 2-3 3 2 0 2 3-3 5 1 6-3 2-3-1 2-3-5-1 0-4 3-1 2-3-11 2 0 3 2 2-1 4 2-1 1-3 2 1-2 11-2-1-3-7-6 2-1-1 1-2-4-3-3 2-3-2 2-3 4-2 2-5 3-2-4 1-4 5-7 3-3-1 1-4-3 0-1 4 2 1 0 2-3 4-2 0-3 6 4-2 2-4 3 0 2-2 5 9-1 1-6-3-7 9-5-1-2-2 1-1-1-5 4-3-1-2 1-5-3-8 4-7 2 1 0 2 4-5-3-2-1-5-13 6-2 3 8 1-4 5 0 2 3 3-2 1 1 2-4 7-8 8 3 1 2-1 2-4 2 0 2 2 0 3-3 2 2 1 1-2 3 0 1 3-9 7 1 2-1 3-3 1-1-1 1-4-2-2 4-5-6 5-2-1-1 4-8 1 0 1 5-1 1 3-5 4-2 5 3 1 2-4 4-1 6-6 2 4 6 2-2 5 5 0 1-2 2 0 3 6 3-5 8-5 1 3 4 2 0 2-2 2-2-3-2 0-8 6-2 3 0 3 2 1 1 3 1-1-2-2 5-6 0-3 2-2 4 4-1 2 5-5 3 0 1 3-2 3 2 0 5-4-3-3 3-3 3 1-1-3-3 3-2-2 2-6-2 0-5 5-3-1 1-3-4 2-2-4-2 0-3 3-3-2 3-4 3 0 6-3 0-4 2-2 3 1 0-4 2-1 0-3 2-2 3 1 2-1 2 2-1 1 1 3 3 1 0 3 3 3 3-1-1-2 7-6 1 3-9 11-6-3-3-4-1 1 3 2 2 7 4 0 3-3 6 1-2-4 8-7 4 0 3 4 0 3 2-2 2 1-3-4 8-4 1-2-3 0-6 6-2-2 2-4-5-4 2-5-2-2 4-2-1-2-3 1-2-2 2-2 2 1 1-4-6-1 1-7 3 1 6-3-2-2-1 1-3-1 1-3 3 1zM306 207l-2 1-1 3zM274 206l-2 3 3 1 1-3zM423 203l-9 2-2-3 1-2-2 1 0 5-3 4 2 2 0 3 4-4-1-3 3-3 2 2zM244 200l1-1 4 1-1 1zM490 199l-2 4-6 0-2 3-2-1 0-2-2 0 2 2-2 3 0 3 3-5 4 2-1 3zM443 200l3 1 1-2zM288 196l-2 1-5 10 3 2 4-7 2-1-2-1zM423 194l-2 0 0 2zM444 193l-2 0-13 13 4 1 2-3 5 1 0-7 4-3zM383 192l-3 2-3-2-3 4-7 3 0 3-6 9-3-3 0 3 2 2-2 3 2 1-3 1-1 2 1 4 4-5 6 1 2-3 2-1 1 1-1 6-5 7-2-1-2 1-3 7 3 1 6-3 1 5-2 4 4 2-2 3 3 0 2 2-3 3-2-1-4 2-3 5 6-5 5 0 1 5-2 3-6 1-3 2-3-2 0-3-5-1 1-4-3-2 0-3-5 2-3 3 1 3-3 3 4 3 1 4 5 0 2-3 2 1-1-2 2-2 3 3-1 4-3 3 1 3 3-2 3 0 2-4 6-4 4 0 4-4-2-2 0-3 4-5 1-4-2 2-3-3 0-2 5-6-4 1-2 5-3 2-2-5 6-4 3-4-1-1-7 6-1-1 1-6-2-2 7-4 3 5 4 1 8-6 4-5 3-2 3 0-1-3 2-7-2 0 0 3-2 2-2-1-6 7-3-1 0-3-1 1-2-1-1-4-4 1 0 2 3 1-2 2-4-3-1-5-3 2 1 2-1 3-6-3 1-4-1-1-1 3-3-1 1-5 2-2 6 0 6-6 2 0 4-4zM368 191l1-1 1 1-1 1zM342 191l-4 3 2 0zM252 190l-2 0-1 4-4 3-1 3-2-1 1 3 4 4 2-3 3 1-2 2 2 4-4 2 4 1-4 9 10-10 0-3-2 2-2-1 0-4 3-2-1-8-4 3-2-2 3-4zM471 189l1 5-4 2-3 4 4-2 4 2-6 6 0 2 2 0 4-4-1-3 5-4-1-3-2 2-2-2 2-3zM491 187l-3 2-4 11 4-3zM302 187l-3 3 2 2 0 3 3-4zM484 185l-5 4 2 2zM379 185l2-2 3 1-2 2zM370 186l3-3-4 0zM323 184l1-2 3 1-2 2zM435 181l1 3 3 1 0 2-2 2-2-2-3 3-1-4zM265 183l1-2 2 1-2 2zM389 178l1-1 1 1-1 1zM353 177l-2 0 0 2zM373 188l-1 1-9-1-5 3-3 4-2-2 2-4-4 0-4-5 2-2-3-2 0-3-10-1-1 1 1 3-2 2 0 3-3 2 0 2 4-1-1-3 3-3 2 2 6-2 1 1-1 7 3 4-2 3-3 0-6 3-3-2-1-3-4 4 0 3-2 3 4-2 3 3 0-3 2-2 3 4-2 5 4 2-3 4-3-3-5 5-4-4 0 4-2 1-3-6 5-4-1-2-6 4-2 5-9 10-4 0-3-3 2 3-2 2-3 0-2-4-5-1-1-3-4-1-2-4 9-8 4 1 1-5-1 2-6 1-3 6-4 0-5 3-6 0-5 2-7 9-1-1 1-7-1 0-6 6-3 0-2 3-1-2-6 4-2-1-3 4-3-2-3 3-3 0 0 4-2 1 0 9 12-8 1 1-1 4 1 1 2-2 4 3 3-6-4 0-4-5 3-3 4 0 7 4 9-4 1 1-2 7 4-1 0-3 2-1 0-2 4-2 0-4 3-3 7 0 2 2 5-1 4 6 4-4 1 8 3-1 0-5 2-2 5-1 1 1 4-2 1 1-1 3 3 1-4 5-3-2 0-2-2 1 0 2 4 1-3 4-4-1-2 2-3-2 2 3-3 3-2 0-3 4-3 0-2 3-4-2-1 1 1 2-2 2-2-3-4 3 0 2 2 1-4 5-3 0-2-5-4 2-4 0-4-5 6-4-10-2 1 3-7 3 4 2 1 2-6 8-5 0-1-1 1-4-2-3 3-5-4 3 1 3-6 4-1-1 1-5 4-3 1-5-5-1-5 5-7 2 0 2 3 1 2-2 1 2-5 10-5 4-1 3-4 3-1-1-6 1-2-2 8-7 1 4 9-11-2-3-5 6-2-2-3 1-2-2 4-4 3 0-1-2 2-3-1-2 2-2 1 2 4-2 0-1-4 0-1-4 4-3-1-1 4-5-1-3-3 2-4 8-2-2-8 12 4-2 0-3 2-2 6 3-4 1-2 6-7 4 3 3-1 2 1 3-2 4-4-1 1-8-3 1-11 22-5 15 4 2-2 2-3 0-1 2 0 5 2-2-2-3 1-1 7-1 0-4 3-1-1-2-3-1 1-3 7-9 3-1 0-2 3-2 2 5-3 1 0 3 2 4-4 4 3 1-2 8 4 3-2 3 1 3-2 3-3-3-6 5-1-4-5-2-5 5 3 1-3 3 0 6 4-6 2 1 1 5 2 0 3-5 5-1 2 2-2-4 4-4 2 1 0 3 2 0 8-7 1-4-4 2-5-1 5-5 6-2-1-2-2 1-1-2 4-2 5 2 3-4 0-4 2-2 3 1 2-2 6 1-5 6 3 3 2-1 1-3 4 1 1-1 2 2-1 3 6-3 4-4 2 2 0 2-4 3 2 8-2 4-6 6-1-1 3 3 6-8 1 2 4-6-2-3 2-2-1-1-3 1-1-2 3-4 4 0-1-2 2-2 4-1 0-1-5 1-1 3-3 0-1-2 3-6-4 1-3-5 3-5 2 1-1 5 4-2 0-2-3-3 3-4 3 2-1 6 4 7 7-3 4 4-1 1-6-1-2 5 4-1 4 3-7 7 5 8 3-1 0-5-2-3 5-5 1 3 2-1 1-2-3-1 4-3 4 1-3 4 1 1-5 4 0 3 4-2 4 1-2 3-4 1-6 8-2 0 1 3 8-5 3-6 4 1-1 2 3 3 1 6 4 1 5-6 2 1 6-1 2 3-4 1-5 4-3-2-2 2 0 3-10 7-1-1-4 1-1-1 3-2-2-2-4 5 3 1-5 8-4 0-3 3 0 7-4 3-1 3 5-4 2 2 6-6 4-1 2 1 3-3 1-3-3-2 1-8 2 1 1 3 3 0 4-8 2 2-1 4 4 3-3 4-2 1-3-1-1 2 2 4 4 3-3 5 0 3-1 1-3-3-1-3 2-4-5 1 1 2-1 3-2 1-2-3-1 3-6 7 0 2 4 0 1-7 5 4-6 11 1 1-1 3-2 0-5 4-3 0-2-2-2 2-3 0-6 7-6 0-1-1 1-7 4-4 0-3 2-1 2 3 1-1-3-6 2-3-1 0-10 10 2 5-4 7-4 3-1 7-5 5-4 1-6 5-1-1-3 1-1-2 4-1 3-4 0-4-1 0 0 3-4 2-3 4-6 1-1 3 3 1 1 2-4 5-3 0 1 2 3-1 4 5-3 3 1 1-2 3-2-1 1-2-3-3 1-2-5 1-7 10-2-3-9-1-2-3-5 10-4 3-4 0-2-5-2 4-3-1 1-5 4-6 1-10-1 0 0 7-2 2-7 1-2-4-1 1 1 4-5 3 0 2 2 0 2 3-2 3 9-1 1 4-3 1-7 8-6 4 13-9 3 0 11-5 11 5-1-3 3-1 1-5 6 1-2 6-5 4 6 5 5-6-3 0-1-1 1-2 3-1 1-4 3-3 3 0 4 3 1-3 5-4 1 5-3 2 0 3-4 2-8 10-2 1-3-2-1 3 7 3 2 3 4-5-2 0-3-3 0-2 5-5 2 2-2 3 2 3 0 3 3 1-1 2-3 1 0 2 4 5 1-2 4-2-1-6-4-2 1-2 7 1 1 1-1 5 4-2 1 1-1 3 1 0 2-4-1-2 3-3 4-1 2 2 0 4-5 3 0 7 4 0 3-3 6 7-1 1 4 2 18 0 3-3 1 3 5 0 2-1 0-4 6-8 0-2 4-3 2 2-8 10 0 5 23-4 0-3 4-2 2 2 4-1 7-4-2-2 3-4 4 3 2-1 16-16 3-6 1 4-2 4 0 12 2-1 2 1-2 4 0 4 8-2-1-2-3-1 0-7-2-1 1-2 3 0 3 4-1 2 3 4 4-1 0-3 2-2 4 3-3 7-2 2-7 1-1 7-5 2 0 1 3 0 2 3-2 3 2 0 1 2 3 0 4-4 4 2 0-4 2-2-2-2 1-8 5-5 1 1-1 2 6-4 1 2-6 8 5-1 2-3 4 2-4 3 1 2-1 4-2 1-4-2-3 7-2 2-2-1-1 2 1 1 4-1 3 2 6-2 2 4 6-1 1 2 5 0-3-3 4-4 2 4 6-6-1-3 1-1 1 2 2-1-2-1 2-4 3 1 2-1 1-3 2 2 1-1-2-3 3-2 0-3 7-6 4 2-2 3 1 2 3-2 2-3-2-1 1-3-2 0-2-3-5 0-1-1 1-4 3-1 2 2 4 0 1 5 1-1 2 1 5-8 13-17-4 5-2-1-3 3-5 1-1-1 7-10 0-5 2-2 3 1-3 3 1 2 7-3 2-6-4 3-1-1 1-4-1-4 1-1 4 2 3-6 2 1 0 2 5-8-4 1-3 4-2-6 6-8 0-2-6 4-6-6 12-8 3 1-1 4 2 0 8-9-1-3 2-4-2-4-4-1-1-4 1-3-2-4-5 1-3 4 1 1 4-1 1 5-13 14 0 1 4-2 1 2-6 4-3 4-3 2-3 0-2 2 1 4-2 1-3-4-1-6 4-4 3 0-1-2 1-3 5-4 0-4-2-1 0-3 3-3 6 7-2-3 4-3 0-3-3-5 2-6-1 1-3-1 4-7-1-5-5 1 0 3-3 2 0 4-3 2 0 3 2 1 3-2 2 4-7 6-5-4 3-5 0-2-3-2 0-3 5-5-3 3-3-3-3 1-1-2 2-6-6-2 0 6-2 3 1 2-3 3-2 0-1 3-4 1 0 4-10 9 6-1 3-3 2 1-2 3 2 0 5-4 6 1-9 10-4 2-3-3 0-2-8 5 0 1 6 1-4 5 4-1 1 3-4 2 1 3-2 2-5 1-1-3 3-2 0-2-2 0-3-5 4-4 1-10-3-6-2-1-2 1-5-3 4-5-1-4 3-3 6 3-3 4-3 1 1 4 2-4 8-1-1-4 5-4-1-4 2-2 2 4 3-2 1-3 3 0 0-3 3-4-1-5-5 1-1-2-3 0 4 5-2 2-3 0 0 2-3 2-6 9-4-3 0-3 6-6 0-3 3-6-3 2-4 6-3-2 4-4-2-1-2 2 0 4-2 2 1 3-3 1 1 1-1 3-3-3 0-2-1 1-3-1 0 3-5 7 3 1-1 3 3 0 1 2-3 3-3 0-1 2 1 8 4 1 2-2 2 3 1-1 4 1-7 14-8 9-2-1 2 1-2 2-3 0 3 6-5 6-1-1 1-5-3-2-1-7-1-1-5 5-2-1 0-3 5-5 2 0 2-4 5 3-1 4 2-1 8-10-1-1-3 1-3-1-9 1-2-4 2-4-1-7 3-5-1-3-2-1-9 9-1 7 1 0 6-7 2 1-1 4-4 3 0 6 4 3 0 2-6 3-3 5-3-1 2-5-2 0-5 5-4-1-7 2-4 10-5 5-1 7-8 5-3-1-2 3 0 4-2 2 3-1 1 1-2 4 4 3 0 7 3-3 5 0 1 1-1 3-5 3-7-2-3 1-1 3-5 1-3 5-3-2 1-5 7-4-2-2 2-3-2-4-2-1 2-1 0-2 4-5-2-3 2-5 6-2 5-5 1 2-1-2 10-9 2-5-1-1-12 3-3 4-4-1-1-7-2-1 3-6 6 1 1 1-4 2 5 4 9-6 2-3 2 0 2 3 8-4 6 1 1-1-1-2 4-4-1-3 1-3-6 11-3-3-3 2-2 0-1-3-4 1-1-1 1-9-2-2 2-4 3-2 3 1-1 2 5-4 2 2 0 3 3-4 1-7-3 2-3 0-1-2-2 0-2 3-2-2 7-8 4-1-2-2-3 1-1-1 0-4 4-4 2 0 8 6-2 3 1 2 6-4 0-3 4-5-1-11 2-2-3 0-5 4-4-1-1 2-3-1-3 2-1-5 1-4 7-7 2 1 0 2-3 3 1 1 4-3 1-5-3-4 3-1 4-4 4 2 2-3 2 0 0-3-2-1-2 4-8-2-2 7-4 1 0 2-3 2-2-1-1-3 1-2-1-4 7-8 2 5 1-1-4-8 5-6 3 1 3 6 0 5 3 0 4-4-1-5 2-2 2 1-3-2-5 3-3-1-1-2 5-4 0-7-2 0-1 5-5 5-2-1-2 2-5-1-1 4 2 1 0 2-5 6-3-2-2 1 0 3 4 2 0 4-3 4 3 3-2 2-3-1-3 2-3-3 1-3-2-2 4-5-5-2 3-4-1-2 1-7 1-1 2 1 1-4-1-1-2 1 1 2-4 4-3 1-2-3-9 8-3-3-4 2-2-1 7-10 3 1 4-1 2-7-8 0-3 4-1-2 2-3-2-3-2 3-3 0-1 5-3-1-2-8 5-1 0-2 4-3 1-4 3 2-4 6 2 1 1-3 4-4 2 0 2-4-3-3-4 3-2-2-6 3-3-1 7-7 0-4 3-4 3-1 2-7-3 1-6 12-3 2-1-1 1-8 4-3 1-5-1-1-4 3-3 0-1-2 7-7 2 1 0 2 4-1 3-3 1 2-4 4 0 2 4 0 1-5 4-5 4-2 3-4 4 3 2-1 0-4 3-2 1-3 5-2-1-4-2 0-5 6-4 1-1-2-1 5-5 3-2-2 2-3 0-3 6-6 3 0 1-2 9-1 2 2 7-5 3 0 1-1zM363 173l1 1-1 5-3 2-3-5 3-3zM378 173l1-1 1 1-1 1zM328 173l-2 0 0 3-8 10-6-3-5 3-1 4 3 3-1 3 1 8 1-1 2 2 0 4-4 3 4-3 2 2 7-5-2-3 2-8-2 0-4 4-3 1-2-1 6-6 2-6 3-1 1 6 1 0 0-2 5-5 4-6 0-2-3 1-2-2zM395 171l3 4-1 1-4-2zM493 171l-1-1-4 1-2 5zM475 170l1 1-1 3 1-1 4 3-1-2 1-3zM422 165l1-1 1 1-1 1zM331 164l1-1 1 1-1 1zM357 162l1-1 1 1-1 1zM400 160l3 3-4 5-2-5zM271 161l-4 5-2-1 0-2-4 1-4 8 1 2-11 9 0 1 2-1 4 1 3-5 4 0 1-5 4 1-1 7 3 3 0 2-6 3-4-1 3 1 3 5-1 3 2 3-4 2 1 1-1 3 2 3 1-7 6 1 3-4 4 1 1-3-3-2 1-3 7 1 2-4 5-3 0-3-3 0-3 4-3-1-5 2-3 7-4 2-5-3 7-4 0-4 2-2 1 1 4-8-5-1 1-2-1-3-2 2-3-1 6-8zM388 160l-2 0-1 2-3 0-1 3 2 2 4 0 2-2zM473 161l-6-3 0 3-3 2 0 2 3 1-1 5 3 1 1 3-3 2 2 4-5 3-1 3-2-2-3 2-1-1 1-4-1-2 5-3-3-3-6 6-5-2 0-8-3-2 2-3-1-2-7 2 1 8-6 6-3 0-2-2 2-3-2-2-3 3-2-5 1-1 3 1 0-2 4-4-1-4-3 1-2 3-2 0-3-3-4 4 1 2 3 1-1 5 3 1 1 2-2 2-2-1-4 5 5-2 3-3 3 6-1 3-4 3 0 2 2 1 2-3 4 0 1 3-2 2 4 2 4-5 4 0 3-3 1-6 2-2 3 3-3 4 1 3-1 1 3 1 3 11-4 1-4 5 8 0 6-7-2-2-1 1-2-1 2-6-2-1 1-4 2-2 2 2 0 3 2-1 5 1 2-4 5-5 3-1 0-2-3 2-2-1-1-4 2-3 0-3-4-1 0-2zM496 157l-3 0-2 5-6 3 0 3 2-2 5 2 1-1-3-1-1-2 4-4 2 0zM465 152l-3 2-4 8-3 2 2 3 4-2 0-5 5-6zM339 151l1 6-5 3-2-2 0-4zM494 151l-1 2 3 1 1-3zM310 151l-3 5-4 1 1 2-1 1-3-1-6 9-7 4 6 1 9-9 1 2-2 2-1 3 1 0 7-11zM506 147l-7 7 3 5 5-11zM312 145l-2 0-1 2zM454 143l2 2 0 4-3 2-2-2zM304 144l-4 0 1 9 5-5 0-3zM503 143l-5 1-3 3 2 2zM479 143l-1 3 2-1zM386 143l1-1 1 1-1 1zM335 144l2-2 3 1-2 2zM387 142l1-1 1 1-1 1zM466 140l2 4 1-1zM337 137l1-1 1 2-1 1zM353 136l-3 1-1 3 2 0zM498 134l1-1 1 1-1 1zM370 135l-3-1-1 4 2 0zM483 132l-3 0-3 8 5-3zM441 133l3 0 1-2-3 0zM473 130l-2 1 0 3-3 3 2 4 4-8zM392 130l-3 0-1 2 5 6 0 2-4 2-1-4-4-2-3 8 3 5-2 5-5 3-4 7-2-2 1-7 4-3-1-3 3-4-2-5-2 2 1 2-3 4-3 0-4 6 3-1 2 2-3 4 1 5 6 1 4-5 8-4 6-11 1-7 2-3zM396 126l-2 1 0 2 2 0zM378 125l1-1 1 1-1 1zM403 124l-2 2 1 4 3 0 4 4 0-4-3 0-2-2 1-3zM367 123l-1 1 1 3 1-1zM491 121l-1 3 1 0zM513 120l-2 1 1 5-4 6 0 3 2-3 3 0 3 6 3-5-6-1 1-3-1-5 2-2zM500 117l1-1 1 2-1 1zM373 117l0 1 3 0zM420 117l-1-2-3-1-7 1-1 2-3 0-7 6 5-1 4-3 7 0 3-3 2 2-1 3zM374 112l-2-2-5 4-4-2-4 4 6-2 4 1 1-2 3 1zM477 106l-2 1-2 6-2 1 3 3 1 5 1-1 6 3 7-7 0-2-4 1-2 5-4-1 2-6-6 4-1-2 5-7zM463 104l-7 6 1 2 5-2zM384 104l-5 3 1 1 3-1zM401 100l1 5-3 2-1-1 1-5zM431 99l1-1 2 1-1 1zM493 98l-1 0 0 4-6 8 5 3 1-2-2-1 0-2 4-5zM411 97l-3 4 3-2zM401 93l-2 3-5 0-2 2 1 2-2 7-7 7-4 2 1 4-7 4 0 3 4-2 2 4 2 1 1-1 1-6 3-2 0-8 2-2 1 1 2-1-1-3 2-2 4 1-3 9 6-5 2 0 1 2-1-3 4-5-4-6zM491 93l0 2 2-1 3 2 0-2-3-2zM456 90l2-1 1 2-2 1zM440 87l0 3 2 0zM403 84l-1 1 1 5 2 1 0 3 3 1 2-2 0-3-2-4-3 0zM485 81l1-1 1 1-1 1zM438 82l-1-1-3 3 3 0zM415 83l0 2-3 2 0 3 3 3-1 1 1 1 4-2 3 1 1 3-3 6 4-3 2 0 1 2 7-2 1-7-1-6-2 5-2-3-2 0-2 5-4-4-2 0-3 3-2-4 3-2 6 0-1-2 1-4-6 0zM410 80l1 2 2 0-1-2zM523 79l-2-2-3 3zM487 70l-1-1-1 2zM426 67l-4 1 4 4-1 2-2 0 1 1 3-4zM507 66l2-1 1 2-2 1zM511 61l1 2-2 1-1-1zM464 59l-1-1-2 2-3-1-4 1 1 1-1 6 5-2 0-2zM441 55l1-1 1 1-1 1zM426 54l-9 8-2 5-2 1 2 2 0 3 3-2 2-4-1-3 7-7zM526 49l-3 3 0 2 3 1 1 3-3 3 0 3-3 3 0 2 6-4 1-10zM504 45l-2 0-2 3-3 0-2 8 2 1 2-1 0-3 6-5zM429 46l-2 2 0 4 2 2 4-3 9 1-1 3-3 1-4 5-2 0 2 3 1-3 4-1 3 4-1 7-5 3-2 3 7-4 4 8 3 1 4-2 1 2 2 0-1-2-1 1-1-3-5 2-4-5 4-6-2-5 4-5-2-3-5-2 1-6-3 0-2-3zM481 40l-5 2-11 10-3 1 0 2 3 1 6-9 2 0 2 4-3 5 1 2-5 4 2 4-2 2-4-1-4 1 3 3-3 2-2 9 5-4 3-8 3 3 4 0 1 1-1 2 8-7 1-4-2 1-1-1 1-6-1-1-3 3 1 4-2 2-1-5-2 1-2-1 4-4 2-4 0-5 4-5zM473 39l-1-1-5 2-10 1-5 6-3 1 3 3-2 4 2 1-1-3 5-3 2-4 8 1zM515 25l1 4-8 6-1-4 3-2 2-4zM498 26l-3 1 0 4-4 5-1 4-4 4 4 3-5 1 1 5-4 2 2 5 2-3 3 0 3-3 1-8 5-2 0-2-3-3 3-3-1-1 0-5 2-3zM520 17l-1-1-2 1 0 4-7 6-3-3 4-2 2-3-1-2 1-3-9 7 1 4-2 11 2 2 3-3 2 6-2 4 1 3-2 2 1 4-5 6-3 1 1 1-1 2-6 4 0 8-2 3-5 2-4-5 1-2-1-1-5 5 1 1 4-1 1 4-5 4-4-4 1 3-1 3 3 2-1 3-4 4-4-3-5 6-2-1-1-3 9-6-2-3-3 3-2 0-2-3-9-1-1 2-14 10 0 3 3-1 1 4-3 2-2-2-3 0-1 2 0 5 2 1 0 3 3-1 1 2-3 3-3-1-2 2-5 10-6 0-1 4-5 0-4 2 0 4-10 6 1 3 4 2 1-1-1-3 4-3 2-4 2 0 4-4 2 2-2 6 3-3 2 2-3 3-4 0-3 3-4 0 1 4-9 6-5 6-2 0 2 3-6 5-2 4-3-1 2-3-3-3-6 1-2-1-3 3-2 0-1-5-3-1-2 4-1-10-2 0-3-4 4-4-3-1-1 2-4 2-1 4 2 2-3 4-3 1-3-1-1-3 5-4 1-5 4-3 2-4-1-1-5 5-3 0-1-2 2-3 0-4-3 1-2-1 0-2 4-3 1-5 3-3 1-10 2-1-3-1 1 2-3 4-2-2 0-3-5 3 2 4 5 1 0 2-4 3-3-2 0-2-3 2-8-1-4 2 0 5-3 3 1 2 3-4 3 0 2-6 5 1-2 6-4 4-1 3-2 2-3-1-2 2 5 2 2-4 3-1 1 1-2 3 0 3-2 2-8-1 3 4-3 5-5-2-1 1-2-2 1-3-1-1-5 8 1 2 3-2 2 3-4 5-2 0-2-3 1 5-3 3 2 1 6-6 2 2 0 4-2 3 2 0 1-8 1-1 4 1 1-4-2 1-2-1 4-4 4 1 1 2 6-1 5-5 1 2-3 4 0 5 8 2 3-6 5 0 4-2 3 3-5 6 2 4-1 2 2 2-3 4 1 1 6-6 3 0 3-3 4-1 1 4 2-3 2 1-1 8 2 1 0 2 7-1 0-4 2-2-1-3 3-2 1 4 2 0 3 3-1 2-4 2 2 2-1 3 2-1 1 3-6 4-4-1 0 3-3 2 1-1 1 3 0-2 5-4 2 2-1 3-2 1 1 7 2 1 0-3 7-5 3-7 3-1 1 5 4-1-4-9-3 2-3 5-6 2-1-3 4-3-2-3 6-3-1-3 1-6-2 1-3-1 3-2 0-3 3-2 0-3 4-3 1-3 3 2-1 1 1 2-3 4 0 3-3 2 0 6 2 2 4 0 3-5-1-2-3 2-3-2 0-2 8-8 0-2-4-2 2-3 0-3-4-2 5-9 3-2 3 2-1 6 2 0 1-2 4 0 0-2 3-3 4 2 3-1 2 4-1 3 1 0 2-3 3 0 1-5 4 2 4-2 3 4-6 6 2 2 3 0 9-14-4-6 2-2 2 3 7-7 0-3-1-1-2 1-2-2 1-3-3-1 4-6 3 3-1-6-2 0-3 4-5 2-1 2-1-1 2-4-1-1-3 5 3 7-4 5-2-1-5 6 2 4 4 1-2 4-7-4-1-2 1-4-4-2 0 3-4 5-6 1-4-2 1-3 5 2 0-2-6-1-2-2 4-5 0-2 3-2 0-4 5-4 2 1-2 3 5 1-2-2 1-2 3 0 2 2 2-1 1-4-4 4-2-2 2-5-1-5 3-2 1 4 4 3 1-1-2-5 3-4-1-4 2-1 0-2-2 3-3 0-2-2 9-5 4 3-3 3 0 2 4-2 5 1 2-3 2 0 3-3 2 2-2 6-4 2 1 2 2 0 2-3 6-3-2-3 2-3 2 3 5-5 3 1-1-3 5-4 2 1 2-1-1-6 3-3-2-3 5-6 2 1-1 5 4-2 2 2-1 3 4 0 3 4-6 6-4-4 0-3-3 0 1 4-5 4 4 4 0 3-3 5 3 1 1-4 4-5 5-3 2 3-2 2 0 5-3 2 4 3-3 3 2 3-4 6-3-4 1-1-5 2-2 3-4-3 0 3 4 1 1 2-2 1-5 12-8 7 4 2-1 3 2 2-3 1-1 3-3 2 2 5-3 3 0 2 3-1 1-5 4-3 0-2 4-5-1-10 2-3 3-1 2 3 6-2-2-3 1-3-4-4 1-3 6-1 10-10 4 2-1 1 1 3-2 4 7 1 3-9 0-9-1-2-1 1-3-1 4-4 0-2-3 1-2 3 1 6 4 2 0 5-2 2-4-3 2-3-4-3 0-2-5 0-3-2 0-2 3-3 4-1 2-6-6 2-5-3 2-2 3 1 2-3-5-10-3-1 1-6 4-2 6-8 0-2-5 2-1-5-3-3 0-2 3-3-1-6 2-2 0-3 5-3 4 2-1 6 2-1-3-10-2 1-1-1 0-3 3-1-2-3z"/></g>
<g transform="translate(187.37,260.57) scale(0.33333)"><path fill="#a98fc6" fill-rule="evenodd" d="M75 563l2 3-4 3-1-3zM64 564l1-1 2 2-2 1zM59 558l1-1 1 2-1 1zM56 553l1-1 2 1-1 1zM88 550l1 1-1 3-1-1zM86 550l1-1 1 1-1 1zM74 550l2-2 2 2-1 1zM81 545l1 2-3 2-1-2zM62 556l1-4-2 1-1-2 2-1 1-4 3-1 1 1-1 2 2 0 2-3 5 1-5 7-5 1-1 3zM102 539l-2 0-4 5 2 1zM60 536l2 4-6 4-1-3-2-1zM72 534l1 1-2 3-1-3zM50 533l1 1-3 3-1-2zM80 530l2 1-1 4-3-1zM75 526l2-1 1 2-2 2zM81 526l3-2 1 3 2 1-5 1zM51 525l2-1 1 2-2 1zM52 522l1-1 1 1-1 1zM83 521l1-1 1 1-1 1zM46 522l1-3 3 1-1 2-2 1zM80 514l1 2-2 1-1-1zM109 508l1 3-7 5-2-1-5 7 0 4-2 2-3 0-1-4 6-12 2-2 4 3 1-3zM65 513l3-5 3 2 5 0 2 2-6 5-3 0zM95 507l1-1 3 3-1 1zM118 502l1 3-3 2-1 3-2-4zM38 502l1 1 2-1zM37 499l-3 0-2 4 3-1zM106 495l1 2-2 3-6 3-1-2 5-7zM94 494l1 7-2 2-4-6zM398 494l0 2 2 0zM76 491l1 2-2 2-1-2zM33 493l-1-1-4 2-1 2 3 1zM117 490l1-1 1 1-1 1zM36 490l1 2 2-1zM388 487l1-1 1 1-1 1zM396 485l1 1-2 3-2-2zM382 487l2-2 2 1-1 2zM82 483l-4 3-1 5-1-3-2-1-5 2 4 4-2 3-3-1-1-2 1 3-1 5 5-2 4-4 3 0 0-3 3-2-1-2zM103 481l1-1 1 2-1 1zM96 481l-3 2-4-2 0 3-3 3 1 3 2-1zM111 483l3-5 4 4-1 2zM131 475l3-1 1 3-3 1zM298 470l3 4-3 3-3-3zM283 475l-4-1-1-3-4-1 0 2-3 2 1 3-3 2-2-1 1-3-1-1-3 1-1-3-6 1-2 2 0 3-3 1 9 1 0-5 2-1 4 6 5 0 1-3 3 0 1 3 4 0 2-1-2-2zM34 469l-4 1-1 2 4-1zM218 468l2 2 0-2zM302 466l1 2-3 3-1-2zM268 467l1-1 1 1-1 1zM67 467l-5 1-1 2 1 5 3-3 0-3zM244 465l-5 1 0 6 6-2 0-2-3 2-1-1 0-3zM132 465l1-1 1 1-1 1zM25 463l-2 4-4 2 1 1 2-1zM221 462l2 3-1 2 2 0-1-2 1-2zM84 462l-4 2-7 7 4 0 7-7zM144 466l-1 1-5-1 1 3-3 3-6-1-1-3 3-2 2 1 1-1-1-5-4 3-2-2-1 1 2 2-9 6-4 6-3-3-3 1-2 4-3-2 1-4-8 11 4 2-1 3-3 1 1 2-1 2-4-2-2 2-3 0-2-2-2 1-2 4-3 0 0 1 5 1 0 5-3 4-5-1-1-2-6 3-1-1 2-2-1-1-3 1-3-1-8 4-1 3 1 1-3 6-2-12-2 0-3 4-4-1 0 2 3 2 0 2-3 3 0 9 3-5 2 1-3 6 2 9 2 3 3 1-2 3 4 8 3 2-1 2 12 13 5 1 21-21-3 1-2-2 3-4 3-1-1-6-5 3-3 4-3-1 5-6 6-4 5-1 3-3 3 2 4 0 3-4 0-3-5 2-1-3 6-1 4-5 2 0 3-5 0-3 3-2 5-9-6 3-2-1-2 1-1-1 1-3 8-2 4-5-4-4 1-2 3 1 1 3 2 1 4-11zM101 460l-2 1 1 2-1 4 2 0 2-3zM56 459l0 1 3 0 0-1zM327 458l1-1 1 2-1 1zM202 458l3 2-1-2zM208 457l-1 3 4 4 3-3zM230 456l-1 3 1 3 2 0 2-3zM266 456l1-2 2 1-2 2zM148 455l-2 0-3 4 3 1 1 2 3-2zM137 455l-3 2 3 0zM352 454l0 7 2-2 3 2-3 5 2 3-1-2 2-3 1-6-4 1-2-2zM320 454l4-1 1 2-4 1zM131 454l-4 1 2 2zM82 454l-2 1-1 4 4-2zM29 454l-2 0-2 3-3-2-3 0-1 1 2 1-2 2-2-1-2 1 2 2-1 3 2-4 4-2 3 2 4 0zM356 453l-2 1 1 1zM413 452l1-1 1 1-1 1zM195 451l-1 1 2 1zM315 449l2 2 0 4 4 4-6 3-2 3-2-2 2-3-1-2-3 3-1-2 6-6-1-3zM281 450l0 3-2 2-6 1-3-2 2-5 5-1zM345 447l1-1 2 1-1 1zM235 445l2 2-3 2-1-2zM135 446l-2 4 1 1 2-3zM247 443l1 3-4 5 1 3-2 1-2-9 3-3zM152 444l-2 2-3-1-2 4 4 2 3-4 2 0zM325 442l2 0 2 4 2-1 1 3-4 4-5 0-2-3 2-3-1-1zM236 444l2-2 2 1-1 2zM171 443l0 2-5 3 4 1 2-1zM352 442l-8 4 0 2-7 9-1 4-4 3 11-10 1-3 2 0 4-4zM239 442l1-1 1 1-1 1zM222 442l-2 5-4 2 3 3-3 3 3 4 2-8 2-2zM185 441l1-1 2 1-1 1zM343 438l-2 2 1 2 2 0zM170 437l-3 1 1 1zM367 435l2-1 1 2-2 1zM316 435l-3 1-1 2-2-2-1 1 3 1 0 3 2-3 3-1zM353 434l-3 0-1 3 3-1zM361 434l1-2 2 1-2 2zM238 432l1 3-3 3-2-4zM183 433l-3 1 0 2zM429 431l1 3-2 1-1-2zM177 444l1 2 3-2 4 2 3-2 1 1-1 2 2 2 1-1-1-3 4-2-1-3 2-2 1 1 3-1 4 4-3 3-1 4 6-4 3-6-2 2-3-1 3-6-2 0 0 2-3 2-1-3-3 0-2 3-5 1-1-1 1-5-2-1-3 6 0 3-4 3zM164 432l-2 1 0 4 1 0zM304 431l-2 0-2 5 1 1 4-2zM167 431l1 2 4 0 1-3zM212 427l-2 0-3 3 0 2zM264 426l-1 1 2 2zM81 426l-3 1-3 5 3-3 2 0zM443 424l3 4-4 4-1-7zM432 425l2-1 1 2-2 1zM369 427l2 2 3-1 1 2 2 0 0-2-2-1 1-4-2 0-3 4zM292 423l-10 4-3 5 3 0 3-4 5-2zM464 423l-1-1-3 3-2 0-3 4 8-3zM367 421l-6 4-2 4 0 4-2 1 0 3-2 2-3 10 6-5 3 1 0 5-3 2 6 4-1 4 1 3 4 0 0-4 2-2-1-4 3-3 1 1-1 3 4-1 2 3 0 3-3 1 1 2-3 4 1 1-4 4-4-1-3 2 0 3 6-3 2 1-3 4 2 4-3 3-3-1 1-3-2-2-2 2-3 0 4 2 2 3-1 1 1 3 2 0 4-5 4-1 1-2-2-3 1-7 5-5-2-5 3-1 5-7 4-1 1-2-1-2 3-5-4-3-3 4 2 2-2 3 0 3-2 3-4 2-1-1 2-3-4-1 3-4 0-3-2 0-1-2 2-2 4 2 3-8-2 1-6-1-2 5-7 5-5-4 2-2-1-1 1-1 4 1 1-2 4-1 0-1-8-1-2-2 4-7zM249 419l1-1 3 1-1 1zM219 418l-2 3 3 2 1-4zM103 417l-2 1 0 2 2-1zM84 416l-7 2-4-2-2 2 2-1 2 2 0 3-2 1-2-2 1 6zM412 414l1-1 2 2-2 1zM196 413l-2 3 2-1zM98 412l-3 3-4 1 0 2 3-1zM265 411l-3 3-3 1-1-1 3-4zM122 412l-2-1-5 2 1 2 2-3zM217 411l0 2 5 1 1-4zM127 410l-3 2 0 2 2-1zM464 409l-4 2 3 5 2-5zM443 409l3-1 1 2-2 2zM398 409l-3 8-5 4-3-2-1-4 10-6-6 1-4 4-5-1-2 2 1 3 2 1 2-1 2 2-5 5 2 2-2 2 1 4 2-1 1-7 2-2 8-1-1-4 5-2zM292 408l2-1 1 2-2 1zM179 407l-3 3-1 4 2-1zM474 405l-5 3 0 3zM247 404l3 1-1 5-3 0-2-2zM306 403l0 2 2 0zM265 402l3 1 0 3-2 2-3-2zM401 400l1-1 1 1-1 1zM475 400l-2-1-1 2zM330 398l1 3-3 2-1-1zM174 405l7-6-4 1-3-2-1 1zM469 397l-3 2-1 3zM385 396l-7 7-3-3 2 4-3 5 3 4 3-3 2 0 5-7 1 1 2-1 0-2-4 2-2-2zM365 394l-14 15-2 1-3-1 2 1 0 3-5 3-4 8-4 2-4-5 3-3 1-6-7 3-1 2 1 2 3 1-2 5 3 4-1 1 1 2 8-1 6 2-2-2 2-3-3 0-1-3 2-2 3 2-1-7 2-3 2 1-1 4 3 0 1-7 4-3-1-4 4-4 1-3 5-4zM107 394l-2 1 1 2zM306 393l-2 0-1 3zM261 392l2 2-2 2 0 3-6 6 1 3 1-1 2 1-2 3 0 4-2 1-1 3-2-1-1-3-2 0 0 3-5 3-2 3 1 1 3-1 2 7 2 0 1 2-4 6-6 3-1-4 2-4-3-5 1-5-4 0-2-3-1 2 4 5-5 6-4-1-1-7 2-2-1-3 1-3 5-3 3 4 2-1 4-7 2 2 3 0 3-2-1-6 3-2-4 1-2-4 2-2 2 1 4-1zM90 393l-3 2 0 3 4-3zM270 392l1-1 1 1-1 1zM209 392l-2 0 0 2zM277 390l5 1 2 3-3 3-2 7-5 1-6-4 1-1-1-2 3-3 3 3 0-3zM349 390l-9 15 1 2 6-3 2 1 2-2 0-2-3 1-2-2 4-6zM151 389l-2 2 4-1 1 3 3 1-1 3 4 4 1-3-3-1-2-4 1-3zM381 388l-5 5-2-1-5 6 1 4-2 2 0 3-5 5-4 0 4 3-10 7-3 5 0 4 13-15 3 0 0-4 4-1 0-5 3-3-1-2 1-3 4-4 5-1zM323 388l-4 4 0 2 4-2zM292 388l3-1 1 2-3 1zM94 388l-2 1 1 1zM178 386l1-1 1 2-1 1zM364 387l-6-2 0 2-2 1-3-2 2 3-1 5 4-2 2-3 3 0zM289 385l1-1 1 1-1 1zM367 381l-4 3 2 0zM391 395l2 1-2 3 3 0 2 3 3 0 3 2 1 5 3-1-1-6 2-2 2 4 2 0 3-7 6-4 1 1-1 7 2 0 3 4-2 7 8-2 1-6-3-1 1-3-4-2 2-7-2 0-3 3-3-1 1-1-1-3 4-1 2-4 4-3-1-1-7 3-4 8-7 0-1-1 3-6-2 0-2-4-2 0 1 5-7 9 1 1-1 4-2 1-3-1 2-5-1-2zM468 379l1-1 2 2-2 1zM391 379l-2 4 2-1zM327 378l-2 0-9 10-1-1-3 1 1 3-5 5 1 2 3-1 1-5 3-3 2 0 4-4 1-4zM331 377l-2 2 1 1zM208 376l-4 5 4-3zM174 376l-4 2-2 7 5-4zM357 375l-3 3 2 0zM258 375l-4 1-2 4 2 1zM192 377l-5-2-4 4-1 3-7 5-1 4 6-3 5 0 1-9 3-2 1 1zM427 374l-2 2 2 0zM149 376l-3-2-3 4 1 2-3 3 4-3 0-3 2-2 1 2zM103 375l-3-1-3 6-3 2 7-2zM396 374l-1-1-3 3 3 0zM390 373l-7 2 0 2 4 1 0-2 3-1zM126 373l-2 3 2 1zM456 373l-3-1-6 6-1 3-3 0 1 3-3 2 1 2-2 1 0 2 2 1-3 3-6 2 1 5 3 1 3-5 4-1-1-8 5-5 2 0 1-5 5-4zM445 373l-5 1-1-1 1-3-3 1-2 4-2-4-4 4 2 2 4-2 9 1zM300 370l-4 2-1 5 1 2 4-3zM158 370l-5 4 1 1 6-1zM349 375l-3 0-3 3-3-1-1-3-3-1 2-4-4 1-5 4 4 1 2-1 5 4-3 3-3 0-3 4 3 1 1-2 3 0 6-5 3 0zM346 368l-3 2 0 2 2 0zM238 368l-3 5 4-2zM248 366l-5 1 2 2-1 3 4-3zM283 366l-2-1-1 3 2 0zM380 364l-5 4 2 1-1 4 2 2 0 4-6 3 0 3-2 2-3 0 2 4 3 0 6-9 3-1 0-5-2-1-1-6 2-2zM459 361l0 5 1 1 4-1-2-5zM261 361l-2 0-1 2 2 0zM221 361l-2 2 1 3 3-2zM425 360l-2 0-3 3 2 1zM365 360l-7 5-1-1-1 1 3 2 2-1zM125 359l-3 6 3-1-1-1zM475 358l-6 3 0 1 4-1 2 2 0 3-5 6-3 6-2-1-2 3 2-1 2 3-4 4-2 0-4 5-7 4 2 6-4 2 1 4-2 2-1-3-2 0-3 3-9 3-1 3-2 1 0 3 2 0 5-4 2 2-1 3-4 1-6 6-2-1 1-4-2-4-4 0-4 3-2-3 6-4-4-3-1 1-2-1 0-2 3-1-1-2-7 3-11 14 7-1 0-3 2-2 4 1-5 9-2 1 1 3-4 4-3-1 3-4-3 0-5 3-2-2-3 4 8-1 1 2-2 4 6-5 5-1 2-6 2 0 1 2 3 0 1 4 3-1 0-3 4-4 3 4-2 1-2 5-4 4-4-1-2 1-1-3-2 1 0 2 2-1 1 3-4 3-3 0-1 4 1 5-3 3-2 6 3-3 4-1 4 1-6 3 2 3-1 5-3 0-4 4-2-2 0-2 2-1 0-5-6-1 3-5-3-1-1-3-4 2-4 10 2-2 3 0 1 2-5 8 5-4 5-1 2 2-5 4-1 6-2 2-4-2-3 2-2 6 5 2 3-2 3 0 1 5 3 0 8-5 1-5-5-1 0-5 4-5 4 3-4 1-1 2 1 1 5-2 0-5-3-2 2-2 5-1 4 2-1 3 1 2-5 7-3-1-1 1 1 1-1 8 5-4-1-4 3-3 0-2 6-1-1-2 1-1-3-5 3-3 2-9-1 2-4 1-2 3-3-1 4-4 2-5 2-1-1-3 1-2-2 1-1 3-2-2-2 1-1-3 5-5 5-2 3-3-1-2 1-1 3 0 1 2-6 7 0 2 5-2 4-7 9-3 3 1-2 12-6 2-1-1 1-6-2-1-1 1 2 3-4 1 1 4-4 4-2-1 3 2 0 2-3 3 2-1 1 2-3 6-4 5 3 0 1-4 7-6 5 3-2 3 1 1 2-1 1-2-2-4-3-3-4 0-2-2 2-5 3-1 2 2 10-2 1 1-5 3 0 3 7-6 1-2-2 1-1-2 3-3 3 0 4-7-10 5-2-1 4-8 4-4 1-6 2-2 4 0 1-2-1-8-3 0-6 4 6 2-1 4-4 4-3 0-4-5-4 2-2-3 4-3 4 1 1-2-3-2 3-3 2 0 2-3 3 0 2-3-1-2 2-2 3 0 0-3-3-2 0-2 4-6 2 0 9-6 4 2-2 3 3 0 1-4-5-5 4-5 2 0-1-3 1-5-2-2 1-3zM178 359l3 0 0-1zM306 357l1-1 1 2-1 1zM456 362l-5 3-2-3-3-1 1-5-2 3-4 2 0 1 1-1 3 1-4 6 6-5 2 5 7-3zM306 355l1-1 1 1-1 1zM462 354l-3 1 0 3 3-1zM355 354l1-1 1 1-1 1zM190 354l-2 1 0 2 2-1zM245 353l-3 1-2 5 1 1 3-2zM176 353l-2 0 1 4-1 3 2-3zM430 352l-3 1 1 2-2 3 3-2zM409 352l-1 1 1 2 1-1zM129 352l1-1 1 1-1 1zM381 351l-10 9 0 5 4-3 0-2 3-3 2 2zM446 350l-5 0-5 7-3 0 0 3 3 1 2-5 4-4 4 1zM414 349l-1 3 2-1zM355 349l-2 7 1 1 3-3 3 3 1-1-1-5-2 1zM203 349l-4 1 0 4-3 1 1 2 3-2zM329 346l2 1-1 3-3-1zM130 346l-5 3 0 3 2 1-1 4 2 0 6-5-1-2-3-1zM351 345l1-1 1 1-1 1zM216 343l-2 3 4 2 0-5zM463 341l-4 0 0 4 2 2-4 2-4 6 5-2 5-5zM379 339l0 4 1 0zM234 339l-3 4 3-1zM185 338l-1 1 1 1 1-1zM443 336l-4 0-2 6 2 2-1 4 4-1-1-5zM353 335l-5 1 2 5-3 6 2-2 3 1 3-2 0-2-2-1 2-4zM314 335l1-1 1 2-1 1zM288 335l-2 0-1 4-5 5-3-1-4 4 0 4 2 2 5-3 3 0-2-2 1-1 5 3 2-4-1 1-1-1zM499 333l-10 2-1-2-3 3 1 2-3 3 1 4 2-1 2 1-1-6 2-2 2 1 4-4zM311 332l2 4-3 2-1-4zM344 332l-7 7 1 1-1 3-3-1-2 3-3-2-10 12-3 1-2-2-6 1-1-1 1-4-8 6-1 6 2 5 7-6 4 2 0 2-6 6 2-1 2 2-2 7-5 3-4-1-3 4-6-1-2-4 2-1 0-3-2-2 7-6-2-4 1-2-3-4 1 4-3 1 1 2-4 7 0 3 2 3-4 4-4-1-4 4-5-1-5 1-6 7-3-1-5 1-2 5-4-4-2 5 1 2-5 5 1 3-3 3-2-1 0-3-6 4-4 0-1 8 2 0 1 2-6 4 0 3-4 6-3 1-2-5-1 1 0 3-2 2 5 4 7-6 3-1 3 1-1 3-3 0 0 3 1-1 4 5-2 3 2 5 5 1 3-4 2 5-3 4 2 0 2-3 3 2 4-1 1 1-1 4 2 2 0 3-2 6 4 4 3-4 0-4 2-3 4-2 0-3-2 2-2-2 1-1-1-3-6 5-2-2 3-2 2-5 3 0 2-2 2 1 0 2 3 1-1 2 1 2 3-2 1 1-1 6-2 2 2 3-1 3 2 1 5-2 1-3-2-2 2-2 4 1 5-2 4 6-2 3 1 0 4-5 0-2 5-3 1 4-8 10 1 4 4-2 5 1 13-3-1-3 5-4 3 3 3 0-1-1 2-2 4-1-1-1 5-7 2 2 4-5 0-3 3-2 0-5 2-2-1-1-2 2-4-1 3-6-2 2-4-2-4 0-2 4-6 1 1 3-2 2-3 0-4-3-2 3-5 3-1 5-2 2 4-1 1 2-2 4-3 2-2-1 1-4-5 1-1-3-4 0-1-2 3-3 3 0 2 3 4-6 0-2-3 0-2-2-1-6 2-2-4-3 0-3 4-2 9-10 2 1 0 2-3 2 0 2 3-4 6-4 2 3-5 5-1 4 3 2 3-2 2 2-2-3 1-2-1-2 6-8-1-5 2-6 4-2 1 1-1 2 1 0 16-15 1-4-11 3-1 2 2-1 1 2-4 4-1-3-5 4-3 5-2-1-1 9-5 6-2-3-3 3-3 0-2-4 0 2-2 1-1 6-3 2-3 0-7 11 2-1 2 1 1 2-1 3-2-1-5 3-6-4 3 4-2 2-4-1-3-3 1-3-2-2 2-4-2 1-2-1 1 6-3 4-3-1-3 5-12 5-2-2 7-9 4 1 6-3-2-1-4 3-2 0-1-3-3 1-1-2 2-1 1-6-5-3 6-5 6 1 2-4 5-3-3-1-1-2 6-5 2 1 2 5-1 1 2 0 2-4 3 3-1 5 2 3-3 2-4-2-1-3-2 0-3 3-2 0 1 2 4 1-2 4 4-1 1 2 2 0 6-6-1-7 2-2 2 1 0 3 4-2 3 2 3-2 2-6-1-2 1-7-2-3-3 1 1 3-4 4 0 3 2 2-1 5-3-2 0-2-2-1-2-4-4-2 1-1 4 1 2-3 3-1-8-1 2-8 5-5 2 2-2 2 0 3 4 2 4-6-1-2 6-6 5 0 1-3 5-3 2 0 1 3 3-3 3 0 3-7-5 5-5-5-1-5 4-4 2 0 6-12 3 3 4-2 2-3 2 0 1 2-4 8-4 1-2 3-7 4 1 3 3 0 7-9 5 2 1-6 2 1 0 3 2 3 2 0 3-5 4-2 0-3-2-2-7 3-2-4 0-3 5-10-2-1zM186 332l-5 3 2-1 3 1zM428 330l-2 0 0 2-5 5 4 0 2 2-2-3zM269 330l-2 3-3 0 0 1 5 0zM459 329l1 2 2 1 1-1zM397 329l-3 2 0 2 3-2zM418 327l-5 4-2-1-1 1 1 4-3 4-6-3-6 6 3 2-1 4 2-1 2 2-2 4-5 1 1 8 2 1 1-1-2-3 4-2 1 1-1 3 2 3 3-2 3 2-3 6 1 3-5 6 2 0 2-3 3 1 2-1 1-2-3-2 0-2 2-1 1 2 1-4-2-7-4 1-6-4 1-5 3-1 0-5 4-5 2 1 0 2 2 0 3 3 6-4 0-2-3-1-4 4-4-6 2-5 5-3zM482 326l-5 2 3 0zM276 326l-5 5 3 4 2 0-1-3 2-4zM244 326l-4 3 1 1zM434 325l-3 1 2 3-3 2 0 4 3 0 0-3 2-3zM354 325l1-1 1 1-1 1zM227 326l-1-1-3 3zM505 323l1 2 2 0zM405 322l-6 2-1 3 4 0zM327 320l-1 0 0 4zM495 319l-4 2 0 3 2 3 2 0zM269 320l-2-1-2 1-5 10 6-3 0-4 3-1zM481 318l-3 1-4 4 1 2 5-3zM219 318l-4 2-2 4 5-2zM349 317l1-2 2 1-2 2zM198 316l-2 0-3 3-4 8 3-4 5-2-1-2zM440 315l-5 4 2 3 5-5zM238 315l-2 3 1 4-4 8 6-8zM191 316l-3-1 0 2-2 1-1-1 1-3-2 1-1 2 2 2-4 4 0 3zM321 312l1 3-4 2-1-3zM400 311l-3 1-2 5zM347 309l1 4-2 2 0 3-5 6-2 0-1-3 4-3-1-7 1-1 3 1zM287 311l-2-1-7 9 8-5zM404 308l-1 1 2 1 1-1zM197 308l-1-2-4 1zM434 304l-2 0-1 3 2 0zM428 304l-3 2-1 3 1 1 4-3zM258 303l-3 0 1 5-6 9 4-5 4-1 1-3-2-2zM504 304l-3-2-5 2-4 7 2 0zM475 310l3-3 3 0 8-4-5-1-4 3-2-3-4 3zM436 303l1 5 2 0 0-6zM325 301l1 2-2 1-1-1zM332 302l1-2 2 1-2 2zM317 300l-5 4-1-2 3-3zM228 300l-1 1 1 1 1-1zM450 309l1 2 3 1 7-1 1 1-1 4 5 2 2 4 3 0 2-3 2 0 0-3-3 0-1 2-5-2 0-3 6-3-5-3 0-2 4-4 2 0-2-2-4 2-4 7-4-4-4 5-2-1zM427 299l-2 0 0 2zM387 297l1 4 1-3zM443 296l0 2 2 0zM379 296l-1 1 2 1 1-1zM375 295l-3 0 1 2-2 1 0 2 3-2zM417 293l-3 3-3-2-1 1 2 2 0 3 6-6zM382 293l0 2 2 0zM467 292l-2 0-2 4zM460 292l-4 3-3 0 1 5 3-2zM329 290l1 2-2 4-2 1-1-4zM338 289l1 1-1 2-6 4-1-5 2-2zM254 288l1 1-1 3-1-1zM478 286l-4 4 2 0zM428 286l-2 0-1 2-4-1 1 3 3 0zM486 285l-1 2 4 3 2-2-4-1zM378 285l-1 3 2 1 1-2zM462 286l-3-2-2 3 4-2zM382 284l1 2 1-1zM468 283l-1 1 1 3 1-2zM218 283l-3 1 0 3 2 0zM413 282l-4 1-6 5 2 4-1 2 4-7zM399 282l-2 0-1 2 1 4zM473 281l-1-1-1 2zM375 280l1 3 5-1 0-1zM260 280l-2 1 0 2 2-1zM441 279l-3 0-2 5 2 0 3-3zM365 278l-2 1 2 3-1 3-6 7 1 3-3 7 4 2-1-7 7-9-1-3 2-5zM267 278l2-1 1 2-2 1zM210 278l-4 0-2 2 1 7 3-2zM497 277l-2 2 0 3 2 1-1 1 2 8 2-1 2 2-3-8 1-5-2-1 1-2zM482 276l-1-1-5 4 3 0zM467 275l1 3 1-2zM445 275l2 2 0-2zM414 274l-2 4 2-1zM309 273l1 3-3 2-1-3zM268 274l1-1 1 1-1 1zM378 274l-2-1-2 4 3-1zM304 273l2-1 1 2-2 1zM391 272l0 2 2 0zM458 271l-7 1 1 1-1 2 6 3-2 4 5-3-2-2zM380 268l-2 0 0 2zM208 267l-1 4 2-3zM502 266l-6 4-2 3-1-1 1-2-3-2-1 4-5 6 3 2 3-3-2-2 1-3 3 0 1 3 4-1zM365 267l2-2 2 1-1 2zM338 270l-2 1-4-1-6 5-1-2 3-6-1-1-2 3-2 0 0 2-9 8 0 5-6 6 0 8-2 4 4 0 2 4-1 1-4-1-1 3-3 2-3 0-2-2-4 2 0 2 2 0 3-3 2 4-2 3-3-1 1 5 4-1 5-6 3 3 4-2 3 4 7-2 1-2 7 3 4-5 4 1-3 3 2 2-3 2 3 4-2 2-5 1-4 6-5 1-2-2-3 1-4-4 3-3-1-4-3 4-3-4-4 3-3-2-1 4-9 6 0 4 2 0 2-5 3-2 3 3-1 3 4 2-4 6-5 1 1 3 4 3 2-1 1-3 2 0 5-10 3 1 4-2 2 4-3 3 5 0 1-5 3-3 2 0 3-5 5 0 4-5 7 3 1 2 2 0 2-3 3 0 2 3 3-2 1-3 4-1 1 4-4 2 2 2 2-1 2 1-1 1 3 3-2 4 2 0 3-3 2-6-6 2-2-2 2-3 3 1 2-2 3 2-1-10 2-3-3 1-5 5-1 3-3 0-1-4-7 2-1-1 1-8-4 8-3-1 0-3 3-1-3-3 3-3 6 1 3-2 3-5 2 0 2 2 0 2-3 3 4-3 0-4-2-2-8 4-8-1-3 2-3-3 0-4-3 0 0 3-8 6-3 0-3 4-4-1 1-6 2-2 2 1 0 2 4-2 0-6 5-5 2-6 2-2 1 2 2-1-1-2 1-4-8-1-6 6-5-2-3 3-1-2-3-1 1 7-3 5-2-1 1-2-1-3-4 3-3-2 0-3 8-8 1-6 2-1 1 1 3-2 1 1 0 5-2 3 6-7 6 0zM255 277l-1-1-5 5-1-5 0 3-2 2 2 0 4 4-2 4-2-2-4 2-4-4 0-5-4 4-6 0 0 2-4 2-1-3 3-2-2-3 2-2-1-5 2-2 1 1 2-1-5 1-4 4-1-1 2-8-1-1 0 2-6 4-2 4 1 2 4-3 7 4-3 3-2 0-1 8-2 2-6-4-4 0-5 2 0 2-4 2 2 3 0 4-2 2 4 4 1 13 9-8 0-2-7 3-2-1 1-4-2-3 4-4-3-2 0-2 3-6 3 0 6 4-1 1-5-1 0 3 5 0 4-4 1 1-1 3 2 1 2-3 0-4 4-4 2 2 4-2 0-2 2-1 2 3 4 2-6 4 0 4 2-3 3-1 1-4 2 1 3 6 3 0 8-6 0-3-3 1-3-6zM278 264l1 3-2 1-1-2zM271 265l2-1 1 2-2 2zM215 265l-2 2 0 3 3-2zM420 264l0 2 2 0 0-2zM258 264l-3 3 2 4 2-5zM201 263l-3 2-6 12 1 3-4 4 0 3-3 3-2 10 5-1-2-4 8-9 0-5 2-1 1 2 2-3 3-1-1-3-3 1-1-1 2-4zM468 262l0 3 3-1zM379 263l-6-1-3 4-3-2-4 2-5 8 5-1 3-4 2 0 4-4 3 1zM250 264l-1-1-2 3-6 1-2-2 1-4-4 0-3 5 1 2 2 0 3-3 1 3-3 2 0 3-3 3 0 2 7-5 1 2 2 0 1-6 3-1zM345 260l-1 2 7 7 2-1 2-4 4-1-1-2-2 1-4-3-1 1 2 3-2 3-2 0-2-2 1-3zM419 260l-3-2-2 4-9 7-1 4 2 0 3-4 8-5zM278 258l-4 6-4-2-2 4-3-1-3 6-3 2 0 1 2-2 3 1 1 4-1 4 2 1 1 5 6-3 0-1-2 2-2-1 4-6-1-3 3-2 0-3 6-4-1-6zM266 259l3 1 0-2zM394 257l-4 4 0 5 3 0 1 4 2 0 4-4-3 0-3-2 2-4 0-3zM209 258l-2-1-2 3 3 0zM315 256l2-1 1 2-1 1zM233 256l-2 2-3 0-3 3 0 3 5 1 1-7zM494 255l-1 0 0 3zM400 254l2 2 0-2zM342 253l-2 0 0 3zM453 252l-6 0-2 5-4-1-10 10-4 1-2 6 7-3 3 5 1-3 4 0 5-4 0-2-4 2-7-1 5-5 5-1 4-4 0-2 3-3 2 1zM352 252l-6 4 1 3 0-2zM280 252l-3 3 2 0zM213 251l-2 6 3-4zM440 250l-8 1-7 6-1 4 2-1 2 2 2-2-1-4 2-2 4 1zM415 250l-4 1-1 2 4-1zM257 250l-2 0-1 3-6 1 6 2 1-1-1-2 3-1zM232 249l0 2 4 3 0-2-2-1 0-3zM483 247l1-1 1 2-1 1zM378 245l-3 3-3-1-1 1 4 2-1 3 2 1-2 3 1 3 6-7 0-2-3-3zM310 245l-4 2 4 1zM399 244l-3 1 2 1zM445 244l-1-1-3 4 2 0zM344 243l-3 4 3 3 2 0 2-5-1-2zM333 250l-3 2-4-1-7 3-1-1 1-4 6-5-1-1-3 1-5 7-1 4-7 5 0 1 4 0 1 1-1 2-10 8 0 2 2 1-7 7-3 1-2 4-3-1 3-3 0-2-4-5-3 2-5 7-2-1 2-3 1-7 6-5 2 0-1-3 5-8-5 3-1 7-9 7-3 6 1 6 2 1 5-6 2 2-1 5-3 3-3-1-2 2 2 3-7 6 2 5 4 3 1-5-2-1 0-3 8-8 3-6 2 1-2 4 1 1 3-3 2 2-4 5-1 4-4 2 0 2 3-2 3 0 2 2-1-3 5-3-2 1-1-1 4-5-1-4 3-1 2 2 0-2-3-1 2-7 2-2 2 4 2 1 0-2 2-2 2 2-1-2 4-3-1-5 3-3 0-4 2-3-3 0-1-2 3-2 4 4 4-4 1-5 2 0 3 3-1 2 6-4zM266 245l1 1 3 0 2-2 2 1 2-3-2 1-6-1zM479 241l-5 1 0 3-2 2-6-1-1 3 4 2 0 3 2 2 3-4 2 0 1-2-1-4zM304 241l-2 0-3 4-3 0-3 4-4 2-4 0 0 1 6 2 4-2 2 2 1-1 3 1 1-1-5-5 6-3zM382 240l-2 0-1 3zM466 239l-3 1-2 4 4 0zM294 239l-3 1 0 3 2-1zM342 238l-2 1 1 2zM237 238l-2 0-3 3-4 0-2 4 1 1 5-3zM439 237l-2 4 2-1zM240 237l1 1-2 5 3 0 2 2 1-3zM477 237l-2-1-1 3zM393 235l-3 3 1 4 3-5zM379 235l-2 0-2 3 2 0zM231 234l-2 0 0 2zM372 233l-3 4 0 7 3-1-1-5zM220 233l-3 6 1 3 0-2 4-5zM402 231l-3 4 0 2 3 2-1 2 2-1-2-2 2-1 0-3 2-2zM283 232l-7-1-4 7 2 1 1-4 4 2zM443 232l0 4 4-2 5 9 2-4 5 0-2-4-4 2-6-3 4-4-4 2zM324 229l-7 1-3 3 0 5-2 3 1 3 2-3 4 1 1-3-4-2 4-4 2 0zM300 229l-1 0-1 5 2 0zM488 228l-3 0-2 4 1 6-2 2 2 1 0 2-3 5 1 3-4 4-3 6 3 0 0-3 7-6 4 0 4-3-5-5 2-5-2-2 1-2-3-3zM456 229l-2-1-1 2zM369 228l-3 3-2-1-1 2 2 2 3 0 2-2zM442 227l-1 1 2 1zM266 227l1-1 1 1-1 1zM245 227l-1 1 1 3 1-3zM420 226l-4 6-2-1-3 1 3 2 0 2 4-1-2-2 1-2 3 1 2-2zM459 224l-2 0 0 2zM486 222l-2 1 1 2zM349 220l-3 4 2-1zM284 222l1 4 4-2 2 4 2 1 3-2 0-2-3-2-2 1-3-4zM241 220l-2 0-3 3zM432 219l-2 0-4 5 4 3-2 6 3 1-4 5 3 3-3 2 1 3 2 0 0-6 3-2-1-3 1-4-3-9 2-1zM501 218l0 2-4 4 4-1zM419 218l-7 4-1 5 4-3zM476 218l-4-2-2 4zM326 216l1 3 1-2zM478 217l1 1 8-1 2 2 6-2-2-1-6 1-2-3-4 3zM339 216l-3 1-2-3-1 3-5 4 2 0 3-3 2 1 0 2-5 5 1 1 3-2 1-4zM284 217l-2-3-3 2-7 0-1 2-3 0-6 8-3-1 2-5-1-1-5 5-3 0-3 6 0 3 2 0 3-4 2 0 2 2-3 4 9-5 1 6-2 3 2 0 0-3 2-3 4-2 1-2-3-2-1-3 2-2 3 3 8-2zM384 212l-1 2 2 3zM362 212l-2 2 1 3 6 2 1-2-1-3zM403 210l-2 4-3 0-3 3 0 2-7 6-1 3-4-2 2-3 0-3-5-1-2 3-5-1-3 4 3 3 4-3 4 0 1 1-1 3 4 3 4-5 4-2 3-5 6-2zM346 210l-2 0-3 5zM440 216l-3-3 0-4-14 7 1 1 7-2 2 2zM326 208l-7 4-5 10 4-3 2 4 3-3-3-6zM275 207l-2 1 1 1zM469 206l-2 1 1 1zM252 206l1 8-3 3 0 2 8-8-3 1zM413 205l-4 5 2 1 2-1 1-4zM482 206l2 0 1-2-3 0zM433 204l-2 0 0 2zM458 202l-1-1-2 4-3-1-6 4 8 0zM398 200l-6 5-2-1-2 5 1 4 1-2-1-2 1-1 3 1 4-4zM287 200l-3 2-1 3 4-1zM359 199l-4 3-1 3-6 2 2 6 1-5 6-6 2 0zM439 198l-2 1-1 4 3 0zM345 198l-7 2 2 5-2 2 1 3 1 0 1-7 4-3zM263 198l2 2-1 2 3 1 5-4 4 1 0-2-2-1-2 1-8-1zM333 196l-3 3 0 2 3 2 2-2zM320 196l-10 6 3 2 0 5 2 0 1-2 3 0 0-7 2-3zM477 196l-1-1-1 2-4-1-4 2 5-1 2 2zM403 195l-2 3 2-1 3 6 1-2zM384 193l-7 1-1 5-2-2-5 1-2 3 0 3 7-2 3-4 3-1zM312 192l1-1 1 2-1 1zM251 191l-1 3-4 3 5 3-2 2-5 0 2 2 4-3 3 3 3-1 0-7-3 3-3-1 0-3 2-1zM362 190l0 4 5-1-3-3zM346 189l2 4-1 4 4-1 1-5-2-2-2 1zM283 190l-4-2-3 1-2 4 2-1 7 1zM491 187l-5 7 0 3 2-1zM384 186l-5 1 0 2 5-1zM323 187l3 0 1-2-4 0zM398 185l-2-1 1 2-5 2 0 2 6 0-2-3zM312 184l0 4-4 3 3 4-2 3 7-6 0-5zM289 186l-2-2-2 4zM409 183l-3 0-1 3 2 1zM439 183l2-3 4 1-4 3zM470 180l-10 10 3 0 3 2 1-5 4-4zM432 180l-5 0 2 6-5 2-1 2 2-2 3 1 2-1 2-4zM253 179l-1-1-4 5 4-1zM335 183l4-3 5 1 1-3-9-1 1 2zM327 177l-4 4 3 0 2 2 2-4zM257 176l1 2 2 0-1-2zM272 174l-2 0-3 3-1-1 2 2-1 2 2 2-2 2 2 3-2 2-4 0-1 1 1 3 4-1 2-2 0-4 6-5 0-3-3 1-1-1zM430 173l-3 2 1 2zM436 176l-2 4 6 4 0 3-3 3-2-1-3 2-2 3 3 1 3-4 4 0 4-4 1-6 2-2 4 3-3 6 3 4 2 8 2-3-2-6 3-5 0-6 4-4-1-1-3 1 0 3-2 2-3 0-3-2-1-7-4 2-2 3zM358 172l-2 1 0 2 2-1zM492 171l-5 1 0 2zM479 171l-2 0 1 2zM311 171l-4 4 2 0zM290 171l-2 0 0 2zM409 168l0 3-4 4 1 1 6-7zM363 180l12-5 3 4 0 4 7-1 0-2 4-4 3 1 1 3 3-1 1-2-4-1 0-5-4 2-1 3-5 3-2-1 3-5-2-2-3 4-2-1 1-3-2 1-2-1-4 5-4-8-2 3 1 5-2 1zM403 165l-3 4-3 0 1 5 2-1 0-4 3-2zM446 164l-7 1 2 8 4-3-2-3zM394 166l3 1 0-3zM488 163l-2 3 2-1zM383 166l3 0 3-2-1-1-3 2-2-2zM429 162l-8 7 0 4 3 1-1-4 6-4zM422 162l-4 4 2 0zM360 162l-1 4 2 2 0-6zM273 163l-2-1-5 6-3 0-2-3-3 5 0 3 8 0 4-4zM460 161l-2 1-1 4 4-2zM484 161l-1-1-2 3zM300 160l-1 0-1 5-4 4 2 0 6-6zM470 159l-2 0 0 2-3 3 4 2 1-2-1-2 2-1zM357 158l-3 7 2 0-1-3 3-2zM495 157l-3 3 3-1zM306 157l-1 0 0 5 2-3zM381 156l-2 0-4 5 3-1zM368 159l0 4 4 2-1-2 1-7zM314 156l-3 6 4-1zM405 155l-4 5 5 2 2 3 2-4-5-2 2-3zM465 153l-4 3-1 3 5-4zM332 154l-8-1 2 2 0 4-2 3-4-1-4 2 0 3-2 2 2 4 2-3-1-2 8-6 4-1 1 1-1 3 4-3zM496 152l-1-1-1 2zM456 151l-6 3-3 4 3 2zM490 149l-4 1-4 4 0 3 3 0zM506 148l-5 5 1 6 1-2-1-2 3-3zM338 148l1-1 1 1-1 1zM499 145l-2 0-1 2 1 1 2-1zM377 146l-1-1-4 4-2 0-2 3 6 1 1-5zM304 144l-3 0 1 4-1 4 4-4zM347 143l-4 2-3-1-3 4-3 1 0 3 2-1 6 1-2 3 3 4-6 8 4 1-2 2 1 2 6-1 0-2-3-2 1-5 4-3 0-5 6-4 0-2-4 4-8 0-1-1 2-2 1 1 2-1 2-4zM408 142l-2 0-3 4-3 0 1 3zM484 141l4 2-1 3 4-2 0-4zM441 146l-2-2 1-4-3 0-4 6-10-1-1 2-8 0 4 2-1 4 3-1 2 1 1-4 3-2 4 2 5-2 2 2 0 3 2 1 0-4zM410 137l1 2 1-1zM352 137l-2 1 1 2zM386 136l-3 4 1 10-2 3 1 2 3-1 5-8 0-4-4 3-2-1 2-4zM414 135l0 1 3 0 0-1zM367 135l0 2 2-1zM480 134l0 3 1 0 1-2zM518 133l-3 2 2 1zM492 133l-3 4 3-1zM424 131l-4 0 1 5 4-4zM409 132l-1-1-1 2zM389 131l2 4 2 1 1-1-1-2zM513 128l-2 0-2 4 3-1zM336 129l-2-1-5 1-1 6 3-1 2-5 3 1zM350 127l-1 2-3 1-2 4-3-1 1-2-2-2-3 6 4 2-3 3-3-1-3 4 5-2 5 1 4-5 0-4 4-4zM402 126l0 2 2 1zM383 124l-3 3 2 2zM497 122l-3 7 1-1 2 1-2 4 4-1 2 3 2 0-2-4-1 1-1-1 1-2-2-4 1-3zM514 121l-2 0-1 2 1 1zM462 120l-5 3-1 4 2 2-8 7 1 2-2 2-3-1-1 2 7 5 1-5 4 4 0 4 2-3-2-1-1-5 2-2 2 1 1-2 2 0 3-4 0-2-4 0-1-2-3-1zM343 120l0 2 3 1-1 1 3 0-2-5zM479 117l-2 0-2 4 3 0zM488 115l-3 2-1 2 1 1 3-2zM439 115l-1 3-4 2-1-1-2 2 3-1 2 2 3-3zM414 116l-4-1-2 3-3 0 8 1zM521 114l-1 2 3 2-3 3 5 1 2-7-3 2zM511 114l-3 0-1 4-4-1 0 3 3 1 5-5zM365 113l-1-1-2 2zM444 111l1 2 3 1-2-3zM372 111l-1 1 2 1zM390 108l-6 7-4 2 1 3 5 1 0-8 4-2zM476 107l-1 1 1 2-2 2 3 0zM462 106l-4 4 3 0zM382 105l-3 1 1 1zM526 103l-2 1 0 2 2 0 2 4 0-6zM509 103l3 2-1 5 1 2 5-2 2 1 3-1-1-2-3-1 0-2-4 0-4-3zM449 104l-5-2-5 6-6-3 0 5 2 3 4 0 2-5 6 0zM456 101l-2 1 1 1zM527 97l-2 0-1 2zM476 95l-4 4-2 6-3 1 1 2 2-3 3-1 1-3 2 1-3-3zM401 94l-2 3-5 0 0 4-2 2 0 3 4-1 2 2-3 7 2 0 7-7-7-1 1-5 4-2zM434 92l-2 1 1 1zM482 91l1-1 1 2-1 1zM419 92l2 0 3 4-4 6 3-1 1-2 4 2 2-7-4 1-4-4zM520 91l-1-1-9 7 2 1 3-3 2 0zM455 92l2-3 4 2-3 2zM408 89l-2 2 0 3 3-1zM469 90l-1-2-6 3-3-4-3 1-4-1-2 2 1 2-1 1-5 0-7 6 0 2 3-2 1 1 5-1 4-4 1-3 5 5 0 3 4 1-1-6 1-1 3 1zM503 86l-5 3 0 3 3 2-3 8 3-1-1-1 8-9zM416 86l-3 2 1 1zM514 83l-1 3 2-1zM417 83l4 2-1 1 3 0 0-4zM494 77l-2 3-5 3 2 2-2 3-5-2-3 1-3-1 0 2 2 1 0 4 2 2-1 3 8-9 4-2 2 1 2-1zM483 77l-1-1-2 3zM473 71l1-2 2 1-2 2zM464 69l-1 0 1 2-4 4-1 3 1 1 4-4zM425 68l1 3 1-1zM503 65l1 1-1 3-2-2zM473 63l-6 7 2 2 4-1 2 3 1-3 3-1 3-4-2 1-2-2-1 3-2 1-2-3zM458 60l-2 1 0 4 3-1zM518 57l-5 3 3 2zM445 56l-4 4 3 3-2 4 1 6 3-3 0-2-3-2 5-6 0-2zM440 56l-3 3 2 0zM425 55l-4 5-3 1-2 5 1 4 2-3 0-4 6-6zM511 53l-6 5-5 7-5 3-1 5 1 1 7-6 3 3 0 2 3 2-1 4 3-2-3-3 1-5-3-2 7-9zM526 50l-2 1 0 2 4 4 0 3-4 3 0 2 3-1 1-3 0-6zM510 49l-2 2 2 0zM469 49l-4 4-2 0 0 2 2 0 0-2 3-1zM486 48l1 5-2 2 3 2 4-4-1-4zM504 46l-6 3-2 7 2 0 1-4 5-3zM428 52l1 1 3-2 7 0 3-2-6-2-1-2-2 2-2-2-3 3zM478 42l-3 1 1 2-2 2 1 2 4-4zM471 39l-3 2-6-1-5 1-1 4-6 3 3 3 3-2 0-3 3-1 1-2 6 3zM513 34l-3 0-1 5 2 2-1 2 1 0zM496 33l-3 1-6 10 4 1 1 2 2-3 3 0 0-2-2-1zM506 32l-1 0 0 5 2-3zM517 31l4 0 0-1zM497 27l-1 0 0 4zM506 23l-1 6 4 0zM520 17l-2 0-1 2 2 1z"/></g>
<polyline points="330.2,352.4 346.2,338.4" fill="none" stroke="#f4f5a8" stroke-width="1.0" stroke-linejoin="round" stroke-linecap="round" stroke-dasharray="2.2 0.8" stroke-opacity="0.9"/>
<polyline points="333.2,356.4 340.2,350.4" fill="none" stroke="#f4f5a8" stroke-width="1.0" stroke-linejoin="round" stroke-linecap="round" stroke-dasharray="2.2 0.8" stroke-opacity="0.9"/>
<polyline points="314.7,358.4 317.7,350.4" fill="none" stroke="#f4f5a8" stroke-width="1.0" stroke-linejoin="round" stroke-linecap="round" stroke-dasharray="2.2 0.8" stroke-opacity="0.9"/>
<polyline points="317.2,368.4 321.7,364.9" fill="none" stroke="#f4f5a8" stroke-width="1.0" stroke-linejoin="round" stroke-linecap="round" stroke-dasharray="2.2 0.8" stroke-opacity="0.9"/>
<polyline points="254.2,424.4 261.2,419.4" fill="none" stroke="#f4f5a8" stroke-width="1.0" stroke-linejoin="round" stroke-linecap="round" stroke-dasharray="2.2 0.8" stroke-opacity="0.9"/>
<polyline points="231.2,425.4 237.2,421.4" fill="none" stroke="#f4f5a8" stroke-width="1.0" stroke-linejoin="round" stroke-linecap="round" stroke-dasharray="2.2 0.8" stroke-opacity="0.9"/>
<polyline points="223.2,434.4 228.2,428.4" fill="none" stroke="#f4f5a8" stroke-width="1.0" stroke-linejoin="round" stroke-linecap="round" stroke-dasharray="2.2 0.8" stroke-opacity="0.9"/>
<polyline points="299.2,428.4 303.2,425.4" fill="none" stroke="#f4f5a8" stroke-width="1.0" stroke-linejoin="round" stroke-linecap="round" stroke-dasharray="2.2 0.8" stroke-opacity="0.9"/>
<polyline points="345.2,351.4 349.2,346.4" fill="none" stroke="#f4f5a8" stroke-width="1.0" stroke-linejoin="round" stroke-linecap="round" stroke-dasharray="2.2 0.8" stroke-opacity="0.9"/>
<polyline points="352.2,326.4 352.8,335.4 351.6,344.4" fill="none" stroke="#dfea92" stroke-width="1.9" stroke-linejoin="round" stroke-linecap="round" stroke-dasharray="3 1.2" stroke-opacity="0.85"/>
<polyline points="353.8,357.4 352.4,365.4 349.8,372.4 347.4,378.4" fill="none" stroke="#dfea92" stroke-width="1.9" stroke-linejoin="round" stroke-linecap="round" stroke-dasharray="3 1.2" stroke-opacity="0.85"/>
<polyline points="347.4,383.4 345.7,389.4 343.2,394.4" fill="none" stroke="#dfea92" stroke-width="1.9" stroke-linejoin="round" stroke-linecap="round" stroke-dasharray="3 1.2" stroke-opacity="0.85"/>
<polyline points="339.7,401.4 336.7,406.4" fill="none" stroke="#dfea92" stroke-width="1.9" stroke-linejoin="round" stroke-linecap="round" stroke-dasharray="3 1.2" stroke-opacity="0.85"/>
</g>
<polygon points="214.8,391.2 226.1,384.4 229.9,389.9 218.6,397.5" fill="none" stroke="#4fc024" stroke-width="1.1"/>
<rect x="293.8" y="350.6" width="13" height="9.8" fill="none" stroke="#ee1c25" stroke-width="1.0"/>
<rect x="189.6" y="257.3" width="175.9" height="201.3" fill="none" stroke="#6e6e6e" stroke-width="0.9"/>
<text transform="translate(188.00,251.60) scale(0.933,1)" font-family='"Liberation Sans", sans-serif' font-size="16.8" font-weight="bold" fill="#141414" stroke="#141414" stroke-width="0.3">e</text>
<text transform="translate(220.90,268.40) scale(1.073,1)" font-family='"Liberation Sans", sans-serif' font-size="7.2" font-weight="bold" fill="#141414" stroke="#141414" stroke-width="0.2">RF Predicted CEC - SD Map</text>
<text transform="translate(211.50,285.00) scale(1.065,1)" font-family='"Liberation Sans", sans-serif' font-size="7.3" font-weight="bold" fill="#141414" stroke="#141414" stroke-width="0.2">CEC</text>
<text transform="translate(199.60,294.90) scale(1.129,1)" font-family='"Liberation Sans", sans-serif' font-size="7.3" font-weight="bold" fill="#141414" stroke="#141414" stroke-width="0.2">(cmolc/ kg)</text>
<text transform="translate(222.00,309.10) scale(1.130,1)" font-family='"Liberation Sans", sans-serif' font-size="7.0" font-weight="normal" fill="#141414" stroke="#141414" stroke-width="0.17">&lt; 0.5</text>
<path transform="translate(196.9,300.9)" d="M0.5,3 C0.5,1 3,0 5.5,0.8 C7.5,1.5 8.5,3.5 9.5,3.2 C10.5,3 11.5,0 14,0 C16,0 16.5,2 15.5,3.2 C14.8,4.2 14,4.6 14.5,5.5 C15,6.3 17.8,6.8 17.8,8.5 C17.8,10.5 15,11 12.5,10.6 C10.5,10.2 10.3,8.2 9.3,8.2 C8.2,8.2 7.5,10.5 5,10.8 C2,11 0,9.5 0,7.5 C0,6 1,5.5 1,4.8 C1,4.2 0.5,4 0.5,3 Z" fill="#4a27a0" stroke="#4a4030" stroke-opacity="0.55" stroke-width="0.35"/>
<text transform="translate(222.00,324.20) scale(1.111,1)" font-family='"Liberation Sans", sans-serif' font-size="7.0" font-weight="normal" fill="#141414" stroke="#141414" stroke-width="0.17">0.5 − 1</text>
<path transform="translate(196.9,315.8)" d="M0.5,3 C0.5,1 3,0 5.5,0.8 C7.5,1.5 8.5,3.5 9.5,3.2 C10.5,3 11.5,0 14,0 C16,0 16.5,2 15.5,3.2 C14.8,4.2 14,4.6 14.5,5.5 C15,6.3 17.8,6.8 17.8,8.5 C17.8,10.5 15,11 12.5,10.6 C10.5,10.2 10.3,8.2 9.3,8.2 C8.2,8.2 7.5,10.5 5,10.8 C2,11 0,9.5 0,7.5 C0,6 1,5.5 1,4.8 C1,4.2 0.5,4 0.5,3 Z" fill="#a98fc6" stroke="#4a4030" stroke-opacity="0.55" stroke-width="0.35"/>
<text transform="translate(222.00,340.20) scale(1.144,1)" font-family='"Liberation Sans", sans-serif' font-size="7.0" font-weight="normal" fill="#141414" stroke="#141414" stroke-width="0.17">1 − 1.5</text>
<path transform="translate(196.9,331.8)" d="M0.5,3 C0.5,1 3,0 5.5,0.8 C7.5,1.5 8.5,3.5 9.5,3.2 C10.5,3 11.5,0 14,0 C16,0 16.5,2 15.5,3.2 C14.8,4.2 14,4.6 14.5,5.5 C15,6.3 17.8,6.8 17.8,8.5 C17.8,10.5 15,11 12.5,10.6 C10.5,10.2 10.3,8.2 9.3,8.2 C8.2,8.2 7.5,10.5 5,10.8 C2,11 0,9.5 0,7.5 C0,6 1,5.5 1,4.8 C1,4.2 0.5,4 0.5,3 Z" fill="#ffffb8" stroke="#4a4030" stroke-opacity="0.55" stroke-width="0.35"/>
<text transform="translate(222.00,355.50) scale(1.144,1)" font-family='"Liberation Sans", sans-serif' font-size="7.0" font-weight="normal" fill="#141414" stroke="#141414" stroke-width="0.17">1.5 − 2</text>
<path transform="translate(196.9,347.1)" d="M0.5,3 C0.5,1 3,0 5.5,0.8 C7.5,1.5 8.5,3.5 9.5,3.2 C10.5,3 11.5,0 14,0 C16,0 16.5,2 15.5,3.2 C14.8,4.2 14,4.6 14.5,5.5 C15,6.3 17.8,6.8 17.8,8.5 C17.8,10.5 15,11 12.5,10.6 C10.5,10.2 10.3,8.2 9.3,8.2 C8.2,8.2 7.5,10.5 5,10.8 C2,11 0,9.5 0,7.5 C0,6 1,5.5 1,4.8 C1,4.2 0.5,4 0.5,3 Z" fill="#8cc864" stroke="#4a4030" stroke-opacity="0.55" stroke-width="0.35"/>
<text transform="translate(222.00,371.10) scale(1.107,1)" font-family='"Liberation Sans", sans-serif' font-size="7.0" font-weight="normal" fill="#141414" stroke="#141414" stroke-width="0.17">&gt; 2</text>
<path transform="translate(196.9,362.7)" d="M0.5,3 C0.5,1 3,0 5.5,0.8 C7.5,1.5 8.5,3.5 9.5,3.2 C10.5,3 11.5,0 14,0 C16,0 16.5,2 15.5,3.2 C14.8,4.2 14,4.6 14.5,5.5 C15,6.3 17.8,6.8 17.8,8.5 C17.8,10.5 15,11 12.5,10.6 C10.5,10.2 10.3,8.2 9.3,8.2 C8.2,8.2 7.5,10.5 5,10.8 C2,11 0,9.5 0,7.5 C0,6 1,5.5 1,4.8 C1,4.2 0.5,4 0.5,3 Z" fill="#16781c" stroke="#4a4030" stroke-opacity="0.55" stroke-width="0.35"/>
<rect x="261.9" y="432.7" width="91.8" height="2.9" fill="#fff" stroke="#111" stroke-width="0.6"/>
<rect x="261.9" y="432.4" width="45.9" height="3.5" fill="#000"/>
<text transform="translate(260.38,443.90) scale(1.100,1)" font-family='"Liberation Sans", sans-serif' font-size="6.3" font-weight="normal" fill="#141414" stroke="#141414" stroke-width="0.17">0</text>
<text transform="translate(303.75,443.90) scale(1.100,1)" font-family='"Liberation Sans", sans-serif' font-size="6.3" font-weight="normal" fill="#141414" stroke="#141414" stroke-width="0.17">50</text>
<text transform="translate(346.81,443.90) scale(1.100,1)" font-family='"Liberation Sans", sans-serif' font-size="6.3" font-weight="normal" fill="#141414" stroke="#141414" stroke-width="0.17">100</text>
<text transform="translate(290.25,453.90) scale(1.100,1)" font-family='"Liberation Sans", sans-serif' font-size="6.6" font-weight="normal" fill="#141414" stroke="#141414" stroke-width="0.17">Kilometers</text>
<g transform="translate(278.8,286.6)" stroke-linejoin="miter">
<circle r="8.1" fill="none" stroke="#1a1a1a" stroke-width="1.05"/>
<circle r="6.2" fill="none" stroke="#1a1a1a" stroke-width="0.35"/>
<polygon transform="rotate(45)" points="0,-6.9 1.7,-1.7 0,0 -1.7,-1.7" fill="#1a1a1a"/>
<polygon transform="rotate(135)" points="0,-6.9 1.7,-1.7 0,0 -1.7,-1.7" fill="#1a1a1a"/>
<polygon transform="rotate(225)" points="0,-6.9 1.7,-1.7 0,0 -1.7,-1.7" fill="#1a1a1a"/>
<polygon transform="rotate(315)" points="0,-6.9 1.7,-1.7 0,0 -1.7,-1.7" fill="#1a1a1a"/>
<polygon transform="rotate(0)" points="0,-9.4 1.6,-1.6 0,0" fill="#1a1a1a"/>
<polygon transform="rotate(0)" points="0,-9.4 -1.6,-1.6 0,0" fill="#8a8a8a" stroke="#1a1a1a" stroke-width="0.3"/>
<polygon transform="rotate(90)" points="0,-9.4 1.6,-1.6 0,0" fill="#1a1a1a"/>
<polygon transform="rotate(90)" points="0,-9.4 -1.6,-1.6 0,0" fill="#8a8a8a" stroke="#1a1a1a" stroke-width="0.3"/>
<polygon transform="rotate(180)" points="0,-9.4 1.6,-1.6 0,0" fill="#1a1a1a"/>
<polygon transform="rotate(180)" points="0,-9.4 -1.6,-1.6 0,0" fill="#8a8a8a" stroke="#1a1a1a" stroke-width="0.3"/>
<polygon transform="rotate(270)" points="0,-9.4 1.6,-1.6 0,0" fill="#1a1a1a"/>
<polygon transform="rotate(270)" points="0,-9.4 -1.6,-1.6 0,0" fill="#8a8a8a" stroke="#1a1a1a" stroke-width="0.3"/>
</g>
<text x="278.8" y="275.8" font-family='"Liberation Serif", serif' font-size="4.6" font-weight="bold" text-anchor="middle" fill="#222">N</text>
<text x="278.8" y="300.8" font-family='"Liberation Serif", serif' font-size="4.6" font-weight="bold" text-anchor="middle" fill="#222">S</text>
<text x="266.2" y="288.3" font-family='"Liberation Serif", serif' font-size="4.6" font-weight="bold" text-anchor="middle" fill="#222">W</text>
<text x="290.4" y="288.3" font-family='"Liberation Serif", serif' font-size="4.6" font-weight="bold" text-anchor="middle" fill="#222">E</text>
<g clip-path="url(#cc)">
<rect x="379.2" y="22.4" width="164.4" height="191.2" fill="#8b85c8"/>
<g transform="translate(376.17,18.17) scale(0.33333)"><path fill="#fcb442" fill-rule="evenodd" d="M144 580l-3 2 0 3 3-1zM101 579l-2 0-1 3zM117 577l2-1 1 2-2 1zM92 571l2 3-4 2-1-2zM85 558l-11 6 0 4-2 4 3 2-1 9 2 2 7-1 3 3 4-4 3 0 1 2 2-2-3-1 5-10-5-4 0-4zM199 550l-2 0-3-4-2 3-3 0-6-6-3 5-7 0-5 2-1 7 2 3-3 3 0 2-4 3 1 5-2 4-5 4-1 3 4 2 3 4 5 1 7-1 7-8 2-7 4-3-2-5 6-6 4-2zM120 541l3-1 1 3-2 1zM214 541l-2-1-2 1-3-4-4 2-2-1-3 2 1 3 4-1 3 4 3-5 5 1zM508 533l-3-2-9 2-2 2 0 3-5 3-6 8-2-4 2-2-2 0-5 5-3 0-3 4-4 1-2 3 3 3 0 2-6 12-5 0-5-3-5-1-2 6-3 3-7-1 0 7 7 7 0 3 6-4 2 1 4-1 2 2 3 0 1-3 4-2 2 1 3-3 7 4 2 4 6 0 3-3 3 2 10-2 1-7 6-3 1-4-4-2 0-3 3-3-6-2-3-3 0-3 6-7 1-3 3-2 1-4-1-3 3-3zM90 528l-3 2 2 1zM194 522l-8-3-3 3-13 2-6 4-10 1-2 3-5 2-9-1-8 3-8 0-4-2 0 2-6 4 1 5 2 2-1 3 2 8-1 4 4 6-6 4-1 5-4 2 1 8 3 2 3 6 2 1 1-2 6-2 1-3 3 3 6-3 3 0 1-3-2-4 6-6 2 0 1-7 5-4 0-4-4-3 2-2 4 2 4-1-3-2 1-5 3-3 1 1 3-1-1-4 2-2 7 1 6-5 4 2 5 0 1-8 3-2 4 0zM245 494l-3 0-1 5-8 5 1 5-2 3 2 11 4-2 4 2 6 0 3-2 0-8 2-1 0-2-2-2 0-5-6-6zM493 488l3 4 0 3-2 1 4 3-2 2-7 2 0 3 9 1 7-5 2 0 2-6-2 0-5-5-1-3zM151 487l-2 2-6 1 2 4-3 4 5 9 5 3 3-5 0-8-2-3 1-4zM162 477l1 1-1 4 10 0 2-5 3-2 2 2 1 5 6 1 1 2 3-1-2-2 2-4-5 0-5-6-3 1-4-4-4 1zM3 573l2 0-1-3 2-2 3 0 4 8-2 2 1 6 4 2 3-1 7-6 1-6 2-2 3-1 7 1 4-2 3-4 8 2-1-3 3-1 0-3 2-2 0-3-3-4 0-4 2-2 7 1 4-2 7 0 3-4 3 1 5-2 0-1-1 1-2-1-3-5 3-3-5-3 2-5 6 1 3-3 2 1 3-5 5 2 2-1 1 3 3 1 3-4 3 0 2-2-4-1-1-2 7-4 1-3-1-5 2-4 3-3 5 1 7-5 2-8-2-2 1-1 3 1 2-2-4-4-1-4-4 0-3-2 0 2-6 5-5-1-4 2-3 5 1 7-5 6-7-6 2-6 4 1-1-2-4 1-10-9-10 0-3 2-3-1-4 3-1 5-3 0-2-4-5 4-4-3-5 0-7-7-10-3-3-3-7 1-5-1-1 3-4 2 3 3 2 10 2 1-6 6 0 4 5 1-6 3-1 4 1 9 1 1 4-1 2 2 4 11 1 0-1-3 3-1 6 7 8 2 6-1 4 2 4 5 1 7-2 3-3 0-6 4-4-2 0-2-4-3-1-4-5-4 2-4-5-2-2 1 0 3-2 3-2 0-3-5-6 1-4 3 2 6-3 1 0 2 5 2 1 6-9 9 1 6zM248 463l-3-1-2-3-3 1-1 3 4 4-1 3-7-3-5 1-2-2-7 0-4 2-2-4-3 0-3 6-4-1-2 2 0 2 4 2 0 3-2 1 0 10 8 4 6-2 1-4 2-1 4 2 1 2-1-7 9-1 1-8 9-1 3-6zM484 447l-3 2 0 3 5 5-3 1-1 3 2 1 3-2 5 4 3 8-3 3 1 4 6 1 0-2 3-3 3 0 0-3 3-4-3-6 0-4-3-2 0-4-3-5-3 0-2-2-2 0-2 4-3 0zM77 421l2 3 4 2-2 3-6-5zM133 426l1 2 8 3-1 3 3 2 3-3 3 0-2-12-6 0-6 5zM9 417l2 2-1 4-3-1zM97 413l3-1 1 3-2 2zM71 405l1-1 4 2 8-1 3 4 4 2 3-1 2 2-1 7-9 2-6-2-3 2-3-4 0-4-3-5zM16 379l-3 2-4 0-6 4 1 4 3 3 2 9-4 3 1 10-2 1 1 3-1 4 1 6-1 1 3 4-1 1 1 5 4 0 1-3 4 0 4-5 0-6 6-5-4-5 5-8-3-11-4-3 1-7-3-6zM381 376l2-1 1 2-2 1zM392 365l1-1 2 1-1 1zM90 365l1-1 2 2-2 1zM288 363l1 6-1 4 3 2 6-3 0-2-6-5 0-3zM277 357l0 2 4 2-1-3zM356 351l1-1 1 2-1 1zM100 346l2-1 1 3-1 1zM378 325l1 1-1 3-2-2zM347 326l2-1 1 3-2 1zM357 325l1 3 2-2zM22 323l-2 0-4 5-4 0-2 4-3 2 3 5-2 11 2 4 0 5 3 5 4 3 5-2 2-5-1-2 2-2-2-2 2-3 0-4-2-3 0-8 2-2 0-7-3-1zM245 327l2-5 10-5 3 2 5-2 2 4 5-1 8 4-6 6-5-1-9 5-5-4 3-4-1-4-3 0 3 4-4 2 1 2-2 2-3 0zM354 317l-2 0-3 3-1 4-3 1-2 5-2 1 1 8 2 1 8-3-3-4 5-3-1-2 1-3-1-4 2-2zM396 310l-7 2-2 2-6 0-4-2-3 4-8 1-2 2 1 5 7 3 2 3-2 2-6 1-4 4-2 8-4 6-9-1-3-3-3 0-3 6-4-2-2 1 1 4-1 3 3 6-2 7 8-3 4 3 0 2 7-1 9 5 1 6 4 2 7 7 0 2 5 4 1 3-2 3 2 5 4 3-1 4 3 4 0 4 2 0 3-4 5 1 4-5 4-1 1-7-2 0-5-5 4-11 4-2-6-7 0-2 5-7-1-1 1-5-3-4 0-3-2-2-4 0-8 4-2-2 1-1-1-2-1 5-3-1-3 3-6-1-4 1-2-2 0-4-2 0-3 3-3 0-1-3 2-6 3-1 4 2 5-1 0-4 4-1-3-3 4-6 0-3 4-4 7 1 3 3 10 1 4 7 3-1-1-4 4-5-2 0-7-9 1-12-2-3zM313 292l-4 4 0 3 6 4 4-8-3-3zM65 292l2-2 4 1 3 3 0 2 8 1 2 4-3 3-3-3-3 1-3-3-5-2-2-2zM53 291l3-1 1 2-2 2zM46 291l4-3 2 2-1 3-3 0zM93 286l3 2-2 4-3-1zM83 286l4-1 1 2-4 1zM154 284l1-1 2 1-1 1zM121 273l-3 2 1 2 3-1zM145 271l1 2-2 1-1-1zM141 265l2 2 0 3-2 1-1 3 7 6 0 2-3 3 0 4-2 2-2-1 0-4-1 0 0 8 3 0 5 6 1 7-3 3-1 4 4 3 10-10 3 0 0-2-3-2 2-4-3-2-1-6 6-6-1-9-7-3-1-3-7-6zM144 256l-1 1 4 4 1-4zM112 260l0 4-11 8-5 1 0 5-7 4-4-2-2 2-5 0-1 2 2 4-2 2-2 0-3-3-4 1-2-3-9 1-8-3-4 1-2-3 2-3 3 0 3-3 6 3 5 0-1-1 2-2 7 1 4 4 9-11 3 1 4-4 6-3 4-8 4 2 5 0zM256 246l1-1 1 2-1 1zM258 226l1-1 2 1-1 1zM286 223l2 3-4 8 1 4-2 1-8-8 2-2 7-1 1-1-1-3zM341 225l-3-2-2 2-5-1-5 1-1 4 4 1 2-3 3 3 3-4 2 2zM65 221l1-1 1 2-1 1zM194 219l1 3-3 2-1-3zM197 220l4-2 5 1 4 5 3 0 4 4 6-1 1-5 10 1 4 8-3 5-7-1-10 2-2-7-3 0-3-2-3 0-3 2-2-2 0-4-3 0zM365 215l1 2-2 4-3 1-2-3zM262 204l4 0 2 2-1 2 2 2 0 3 3 3-2 7 3 6-1 1-3-2-3 1-3-2-1-7 2-3-3-2-1-4zM162 206l9-2 4 7-10 1zM195 205l-5 7-12-1-4-5 2-2 10-2 3-4 2 4zM254 199l1-2 3 1-2 2zM57 195l-6 5-1-3 4-4zM250 191l1-1 2 1-1 1zM337 206l0 3 4 4 1 3 12 1 3 3 0 2 3 0 5 4 2 0 5-4 10 1 2-2 6 0 4-3 6-1 0-3-3-4-2 0-2-3-5 1-1-3-12 6-2-2-4 1-4-2-1-4 3-3 0-3-5-1-3-3 1-4-3 0-3 3-4 1-1 3-5 0-2 2 0 3zM239 187l-2-1-1 3 2 0zM262 178l1 1-1 11-3 4-2 0-3-5 4-4 0-4zM117 176l0 3-2 2 1 2-9 9-5 3-4 0-3-5-4 0-3 9-5 7 0 4-2 2-2 0-5-7-6-2-2-4-6 0-2-3 4-4 11-2 5-7 9-8 4 1 4-5 4-2 7 0 5 3 1 3-3 3 5-3zM81 152l1 3-2 1-2-2zM59 150l8-4 3 1 2 3 4 0 1 3-7 5-5-7zM71 145l2-1 1 2-1 1zM276 142l0 4-2 2-2-1-5 8 1 6 2 1 11-1 5 2 3-3 2-8-4-5-6 2-1-2 2-3zM203 130l1 1-1 4-2-2zM291 117l-2 2 1 4-3 5 7 5 4 0 4-8-4-7zM259 112l1-1 1 2-1 1zM491 89l1-1 1 2-1 1zM363 87l2-1 1 2-2 1zM143 79l1 4-2 2-2-1-2 2 0 3-3 3-11 4-3-2 1-3 5-2 2-3 0-3 6-5 1-3 4 1zM235 74l1 3-2 2-3 0-1-3zM305 68l0 3 1 0 1-2zM228 73l0 2-4 3-3 0-1-3-6 1-3 4-14 1-4 3-3-1 0-8-2-2 3-6 4 0 7 7 3 0 9-9 3 0zM339 64l1 1 2-1 2 2 3-1 12 12-6 8-4 0-2 3-3-1 1-3-2-2-3-9-4-3 0-3zM364 56l2-1 1 2-2 1zM248 51l5 0 6 5 1-1-3-3 1-2 2 1 6-1 7 8-1 8 4 6-4 4 3 4-2 2-5 1-6-4 1-6-3-3 0-3-2-2 1-4-5 1-5-5-2 0-1-4zM251 49l1-1 2 1-1 1zM374 47l2 2-2 3 0 3-4 2-2-3 3-3 0-2zM377 47l4-1 2 2-2 2-3-1zM318 45l9-4 5 4 2 5-5 3-6 0zM458 42l4 0 3-2 1 7 5 5-5 4-3-1-2-4-5 0-1-6zM439 42l0 3-5 5-3-2-1 1 2 3-1 4-3 1-4 5-7-2-3 3-1 5-4 1-4 6-6-2-4-4 0-2 5-3 8 1-1-4 2-2 6 0 2-5 9-9 3-5 3 1 5-1zM48 38l2 0 9 11 0 3-2 2 2 5-5 6-5 0-3-5 2-5 0-13-1-1zM464 38l2-1 1 2-2 1zM218 40l0 3-3 3-9-2 8-7zM420 31l0 4 2 2-1 1-5 0-2 4-6-1-7 8-4-5-2 0-4 4-5-2 2-4 12-3 2-7 4-1 1 2 8 0 2-3zM471 27l2 2-1 2-6 3-1-3zM348 29l-2 4-3 0-7 6-3 0-2-2 1-3 10-3 3-5zM327 26l1-1 2 1-1 1zM214 26l2-1 1 2-2 1zM442 23l4 3-2 4-4-4zM26 23l2 4 2-1 3 1 0 3-2 2-4 1-1-1 0-3-2-3zM219 37l1-3-2-3 0-4 3-5 6 0 3 5 3-2 4 2 0 3-5 6-6-3-3 2 1 2-2 2zM476 20l2 1-1 3-3-2zM204 17l9-1 1 2-5 3-3-1zM17 15l1-1 4 1 3 3-1 3-4 1-3-3zM157 11l4 1 6 9-1 8 8 1 3-2 2 2-1 3 1 3 6-1-4-2 2-3 6 1 3-1 3 3 5 0 3 3 1 4-4 3 2 3-2 2-2-1 0-3-4-2-4 2-3 5-2-1-3 1 1 10-2 4 2 2 5-1 2 3-4 6-6 3-4 0-2-2 1-2 3 1 2-2-6-4-2-3-1-8 2-7-8-8-7-14 3-4-5-5-1-5zM467 10l-3 1-1 2 3-1zM306 16l2 3 0 3-3 5 0 4 4 2 6 0 2 2-2 4-8-4-4 2 0 2 3 1 2 4-1 4 3 3-2 8 4 8-1 7-4 2 2-1 4 1 0 9 4 2 0 3-3 1 0 2 3 2 0 4 3 1 1 2 6 3 5 0 3-2 5 3 6 1 2-1 0-4 8-11 6 1 4 4 4-4 2 0 3 3 6 1 4 5 4-5 4-1 0-4 2-2 2 3 2-1 3 1 0 4 2 2 0 4 2 3-2 5 4 3 3 0 4-4 1 1 1-7 3-3-1-3 3-4 12-1 3 4 9-4 3 2 3 0 2 2 0 4 2 1-5 6-3 0-2 2 0 2 7 7-1 8 2 2 0 4 2 4 4 1 2-1 4 6 4-1 5 1 6-5 5-21 2-2-2-1 3-1 2-2 0-4 4-2-1-6 5-5 0-4-1-2-6-3 4-4-4-2-2-9-5-1-3-5 0-9 3-7 0-7 2-3 0-4-2-2 2-7-4-4-3 0-2-4-5 0-3-2-5 5-3 0-2-4-4-3 0-2-5 5-2-2 1-5-2-2-3 0-3 12-8-1-4 4-7-1-1 5-3 2-3-3 3-6-11-5-4 0-2-2-12 0-2 2-4 0-7-4-5 1-3 4-5-1-1 1 1 6-7 8-2-1 1-4 3-3 0-5 3-6-5 2-6-1 4 4-8 3-4-4 2-5-7-3 2 4-10 11-4-1 1-8-7-2-4 5-3 0-3-2zM269 0l-269 0 0 239 2-1 3 1 0 8 4 3 0 5 4 2-2 3-2 0 1 3-1 15-4 2 0 3 2 2 0 7 3-1 2 3 4 1-1 8-3 3-4 1-1 7-5 3 5 1 3-1 3-7 4-5-1-5 4-7 2-8 6-4-9-15-1-7-4-3 0-5 5-6 1-4 4-2-1-4 5-6 2 2 0 2-3 2 1 1 6-3 3-4-4-5-1-5 2-3-5-4 1-1 4 0 3 2 7-8 5 5-4 4 8 8 10 3 6 6 9-6 3 1 5-1 5 5 2 0 2-3 8 1 3 3-2 4-6 1-5 6-12-2-9 4-7 1-2 3-5 2-3 0-2-2 1-6-4 1-1 3-3-1 1-2-2 1 1 2-5 7-3-1-3 1-3 5 1 9 3 2-3 2-1 5 2-3 3 0 4 5-4 4-4 0 0 2 6 4 0 5 4 0 3 5 6 3 4 4-1 4 3-1 5 5-1 2-7-3-2 5 3 4 0 4-2 3-4 0 1 6 3 0 2 6 7 3 2 4 7 6 5-1 2-2 5 1 3-2 9-2 4 7 6 1-3 8-3 0-1-2-3-1-5 4-7-2-6 4-3 0-3-2-3 1-4-7 1-4-7 1-2-2-2 1-6-1-3 3-3-2-3 0-3 2 3 5 1-2 3-1 2 2 0 4-2 2-4 0 2 5-2 6-4-3-2 1 5 2-3 3 0 4 5 7-2 2-3-1-5-5 0 4 4 1 2 5-4 6-3-2 0 3 4-1 6 5-3 3 7-2 2 3 2 1 2-1 2 2-3 3-8-1-4 3-5 0-1 1 1 5-2 5 3 2 0 5 5 8 2 10 5-1 3 4-2 5 2 0 3 5 4 0 7-5 7-1 2 2-1 6 4-2 4 1-2-4 2-3 4-2 5 2 4 0 2-3 4 1 7-5-7-7-1-3 3-6 0-3 9-7 9 0 1-3 5-4 5 0 7-5 3 1 0-6 2-2 5 2 1-1 0-3-9-7-3-4-6 2-4 0-4-2-1 4-3 2 0 5-3 2-5 0-11-7 1-3 3-2 0-2 3-3 4 0 2 2 1-5 3 0 9-7 5 1 8-1 0-6-2-1 1-10 3-3 5-1 1-2-14-2 0 2 5 5-3 3-3-1-1-4-1 1-11-1-4 7-1-4-4-3 0-2 15-5 0-11 2-2-2-2-4 1-3-1-6 6-3-9-7 4-3 0-3-5-2 0-3 3-7-5-1-4-5-2 0-3 2-2-2-5 1-6 6-5 5-1 5 3 2 3 5-4 5 2 1 3 3-3 1-6 2-3-6-5-1-8 7-8 0-6 3-3 8-1 5-7-1-6 2-3 0-3 6-3-5-6 5-6 2 4 2 0 0-3 3-6 0-3-2-2 1-2 9 2 1 4-3 2 5-1 2 2-1 1 1 2 2-3 4-2 2 1 7-1 2-3 5 1 8-1 8-5 5 1 5 5-3 3 5 3-1 3 1 2 5 2-1 2 3 2 3-3 4 3 1 5 3 2-1 10 3 0 3 2 6-6 3 2 4 10-1 6 2 3-9 2-1 3 4 7-1 3 5 2 2 4 0 4 3 2-2 2-3 0-1 2 0 4 2 4-1 8 2 2 0 7 1 0 1-5 4 2 0 5-3 3 3 2 1 4 4-1 6 5 1 2-2 3 2-1 14 1 1-3-4-4 3-3 0-3-3-2-1-6 8-2 4 2 3-4 0-8-5-4-3-6 0-2 4-4 3 0 2-2 4 3 4-2 9 1-2 4-12 5-1 4 1 4 6-4 7 1 4-2-1-4 3-3 8-1 0-3-3-1-4-4-1-3-2 1-1 4-7-1-6-3-3 0-4 4-10-4-1-5-2-2-5 0-8-4-9-1-1-4 8-5 2-6 8-4-1-7 3-4-1-2 2-3-2-3-6 1-3-4 8-1 2 2 4 0 2-2 7 2 4-4 0-5 3-2 3 3 1 10-1 1-4-4-3 0 0 5-3 4 2 3 4 0 4 6 7 4 1 7-3 4 1 1 3 0 3-6 4 3 2-1 3-7-5-10-1-11-4-4 1-6-1-8 6-4 5 5-1 4 4 6-2 3 1 4 2 0 2-3 3 3 3-2 3 0 7 5-1 3-3-1-3 2-4-3 3 8 4 2-2 3 4 7 4 0 3 2 1-1-3-7 4-2-1-6 1-1 4 2 2-1-2-5-3-2 1-5-5 0-2-2 0-2 3-2 0-5 3-4 3-1 0-3-5 2-2 4-7 7-2 0-1-3-4-4-4 4-5 1-1-3 7-5 1-4-1-5-14-1-4 3-3-3-2 0-2 3-2 0-6-9 0-6-5-1-2 2-10 0-3-2-1-3 2-7 13 0 5-4 2-4-6-4-2-9-3-2 2-4 3 0-2-3-2-1-5 2-1-2 0 3-3 2-4 0-4 3-4-5 1-7-2-7 2-8-2-2-3 0-3-3-9-2-3 1 1 2-1 4 6 4-3 4-2-1-2 2 4 9-6 7 0 5 6 5-2 4 1 8-5 1-7-2-6 1-4 3 0 2 4 4 5-4 3 2 2-1 2 2 6-1 2 2 0 3-5 6-2-4-9 0-3 2-2-2-6 0-3-2-5 1-2-2 2-5 3 2 5 0-5-5 2-1 6-9 4 1 0-1-13-2-2-2 1-2-3-3 0-4-4-2 2-3 7 3 0-4-4-2 3-6-3-7-1-9 2-1 4 4 8-6 5 1 0-2 4-3 0-3-2-4-3-2 0-2 2-2 3 4 2-1 0-9-3-4 3-7-9-1-7 3-3 0-3-3-3 1 2 4-1 2-4 1-7 7 0 6 4 6-7 7-8 1-2 4-4 1-4 6 4 2 1 2-1 3-7 1-2 2 1 13-3 5 3 4 1 6-2 2-6 0-5 3-9-2-1-1 1-4-2-1 2-3 3 2 3-3 0-4 2-2 0-2-5-4 1-2 3 0 1-2-4-4 0-3 3-6 4-4 1-4 2 2 3 0-1-8 2-2 5 0 3-6-4-1-3 2-5 0-3-4-2 0-3 4-4 0-3-2-8 0-6-3-4 1-4-5-2 0-6-5-3 0-6 5-6-2-6-8-4 1-12-3-7 7-6 1-3 3-3-1-1 5-5 2-6 5-2 4 1 1-1 8 7 4-3 3-9-2-3-3-3-10 4-2 1-6 6-7 4-2 4 0 5-6 2 1 3-5 1 1 6-1 0-6-3 3-3-2-5-9 1-3-3-2-1-4-6-7-4-2-7 2-9-7 2-1 2-7 2-2 3 0 2 2-1 6 4 2 7-3 1-2 7 1 1 3-4 1 0 3 10 6 0 2 3 3-2 4 2 2 6-1 1-6 3-3 3-1 4 2 2-1-2-4 1-6-6-8-3-10-9-14 0-5-3-1 2-3-1-3-3-1-2 4-3-4 3-4 0-4-3-7 0-3 2-2 7 3 4-1 2 2-1 12 2 2 0 6 5 2 2 11 6 7 0 4 4 3 2 5 6 3 8-12 8-7 3 1-1 2 2 2 7-1 3 3 2 0 1 5 4 3-1 4-4-4-3 0 1 6-6 3-5-4 0-2-2 0-5 4-3-1-4 3-5-2-4 5-3 10-7 6-3 1 0 2 8-1 3 2 4 0 5-5 5 6 5 3 0 3 3 4 11-1 1 1-2 4 14-1 3 2 3 0 1 4 8-2 2 3 7 0 6-6 8-1 8 2-1-4 5-5 0-3 6-4 14-1 5 3 9-1-1-4 2-2 3 0 7 4 3 9 9 2-2 11-2 2 0 3-3 3 1 5 3 5 6 0 6-4 5 2 0-2-3-2 5-3 1-6 2-3 0-4-7-1 3-2 1-6 11-11 5-3 9-1-1-2-1 1-2-2-1-4 1-2-1-7 2-5-8-5 2-2 0-3-3-2 1-6-2-1 3-3-2-4 6-4 3-9-3-9-3-2 3-3 0-5-2-1-8 3-5-5-2 5-3 1-3-5 2-2 0-4 3-3z"/></g>
<rect x="379" y="148" width="166" height="12" fill="#fff" fill-opacity="0.04"/>
</g>
<circle cx="396.9" cy="46.1" r="2.6" fill="#fcb442" stroke="#2e2a4a" stroke-width="0.65"/>
<circle cx="403.3" cy="52.0" r="2.6" fill="#918ccd" stroke="#2e2a4a" stroke-width="0.65"/>
<circle cx="407.4" cy="50.2" r="2.6" fill="#fcb442" stroke="#2e2a4a" stroke-width="0.65"/>
<circle cx="418.2" cy="68.4" r="2.6" fill="#8e1b22" stroke="#2e2a4a" stroke-width="0.65"/>
<circle cx="446.0" cy="79.9" r="2.6" fill="#918ccd" stroke="#2e2a4a" stroke-width="0.65"/>
<circle cx="404.1" cy="88.0" r="2.6" fill="#fcb442" stroke="#2e2a4a" stroke-width="0.65"/>
<circle cx="497.7" cy="74.1" r="2.6" fill="#918ccd" stroke="#2e2a4a" stroke-width="0.65"/>
<circle cx="501.5" cy="75.8" r="2.6" fill="#918ccd" stroke="#2e2a4a" stroke-width="0.65"/>
<circle cx="522.8" cy="84.8" r="2.6" fill="#fcb442" stroke="#2e2a4a" stroke-width="0.65"/>
<circle cx="396.9" cy="96.9" r="2.6" fill="#918ccd" stroke="#2e2a4a" stroke-width="0.65"/>
<circle cx="445.5" cy="101.9" r="2.6" fill="#918ccd" stroke="#2e2a4a" stroke-width="0.65"/>
<circle cx="434.1" cy="120.7" r="2.6" fill="#918ccd" stroke="#2e2a4a" stroke-width="0.65"/>
<circle cx="428.9" cy="132.0" r="2.6" fill="#918ccd" stroke="#2e2a4a" stroke-width="0.65"/>
<circle cx="405.5" cy="135.7" r="2.6" fill="#918ccd" stroke="#2e2a4a" stroke-width="0.65"/>
<circle cx="422.6" cy="142.6" r="2.6" fill="#918ccd" stroke="#2e2a4a" stroke-width="0.65"/>
<circle cx="452.1" cy="141.1" r="2.6" fill="#1f1a82" stroke="#2e2a4a" stroke-width="0.65"/>
<circle cx="461.1" cy="148.0" r="2.6" fill="#918ccd" stroke="#2e2a4a" stroke-width="0.65"/>
<circle cx="464.0" cy="155.0" r="2.6" fill="#918ccd" stroke="#2e2a4a" stroke-width="0.65"/>
<circle cx="467.1" cy="160.0" r="2.6" fill="#918ccd" stroke="#2e2a4a" stroke-width="0.65"/>
<circle cx="530.5" cy="98.9" r="2.6" fill="#918ccd" stroke="#2e2a4a" stroke-width="0.65"/>
<circle cx="502.6" cy="112.5" r="2.6" fill="#fcb442" stroke="#2e2a4a" stroke-width="0.65"/>
<circle cx="510.0" cy="112.0" r="2.6" fill="#918ccd" stroke="#2e2a4a" stroke-width="0.65"/>
<circle cx="486.8" cy="119.7" r="2.6" fill="#918ccd" stroke="#2e2a4a" stroke-width="0.65"/>
<circle cx="499.4" cy="124.8" r="2.6" fill="#fcb442" stroke="#2e2a4a" stroke-width="0.65"/>
<circle cx="487.1" cy="127.5" r="2.6" fill="#918ccd" stroke="#2e2a4a" stroke-width="0.65"/>
<circle cx="522.3" cy="139.8" r="2.6" fill="#918ccd" stroke="#2e2a4a" stroke-width="0.65"/>
<circle cx="482.2" cy="143.9" r="2.6" fill="#918ccd" stroke="#2e2a4a" stroke-width="0.65"/>
<circle cx="473.2" cy="146.4" r="2.6" fill="#fcb442" stroke="#2e2a4a" stroke-width="0.65"/>
<circle cx="474.8" cy="152.6" r="2.6" fill="#fcb442" stroke="#2e2a4a" stroke-width="0.65"/>
<circle cx="400.9" cy="167.1" r="2.6" fill="#fcb442" stroke="#2e2a4a" stroke-width="0.65"/>
<circle cx="379.6" cy="175.3" r="2.6" fill="#fcb442" stroke="#2e2a4a" stroke-width="0.65"/>
<circle cx="449.6" cy="196.9" r="2.6" fill="#918ccd" stroke="#2e2a4a" stroke-width="0.65"/>
<circle cx="483.8" cy="186.2" r="2.6" fill="#918ccd" stroke="#2e2a4a" stroke-width="0.65"/>
<circle cx="496.9" cy="188.9" r="2.6" fill="#1f1a82" stroke="#2e2a4a" stroke-width="0.65"/>
<circle cx="513.3" cy="194.1" r="2.6" fill="#918ccd" stroke="#2e2a4a" stroke-width="0.65"/>
<circle cx="467.8" cy="198.2" r="2.6" fill="#918ccd" stroke="#2e2a4a" stroke-width="0.65"/>
<circle cx="467.8" cy="210.8" r="2.6" fill="#918ccd" stroke="#2e2a4a" stroke-width="0.65"/>
<rect x="387" y="64" width="149.7" height="108.3" fill="none" stroke="#ee1c25" stroke-width="1.25"/>
<rect x="379.2" y="22.4" width="164.4" height="191.2" fill="none" stroke="#6e6e6e" stroke-width="0.9"/>
<text transform="translate(368.80,15.80) scale(0.965,1)" font-family='"Liberation Sans", sans-serif' font-size="16.8" font-weight="bold" fill="#141414" stroke="#141414" stroke-width="0.3">c</text>
<text transform="translate(381.60,18.30) scale(1.168,1)" font-family='"Liberation Sans", sans-serif' font-size="7.0" font-weight="bold" fill="#141414" stroke="#141414" stroke-width="0.2">Highly/Moderately Dissected Hills/Valleys</text>
<g clip-path="url(#cf)">
<rect x="378.6" y="263.2" width="164.2" height="191.3" fill="#4a27a0"/>
<g transform="translate(376.17,258.17) scale(0.33333)"><path fill="#a98fc6" fill-rule="evenodd" d="M379 594l4-1 1 3-1 1zM88 577l1 5-2-1zM148 576l-13 13-1 6 0-4zM89 571l3 4-2 6-2-4zM262 570l7 4-2 15-3 0-5-4 2-4 5 2-2-4-5 0-2-2zM168 568l1 1-2 3-1-3zM187 569l4-2 2 2zM254 565l5 2-3 5-4-4zM409 561l2-2 3 2zM318 554l1 4-2 1zM64 554l2-1 1 3-1 1zM32 553l3 1-2 3-3-1zM397 552l4-1 2 4-2 2-4-3zM64 552l-1 3 3 7 3-3 0-4-2-3zM35 551l-6 1 0 9-4 5-11 1-9 10 5-3 4-6 5-1 2 5-5 7 0 7 9 5-9-6 0-5 4-7 5-5 4-1 1-4 9-9zM160 546l-3-1-2 4-9 8-3-4-3 1-25 22-1-3 2-6-4-8-5 0-7 4 1 1 6-4 3 0 4 5-1 19-4 5 1 3 0-4 5-8 6 7 9-6 17-25 7-3 3 4 0-6zM377 543l2 5-1 3-4-3 2-1zM98 544l-6-2-12 1-2 3 0 15 2 4 0 17-2 6-3-4-8 4-9-14 0-3-11-10-5-1-7 7 1 2 2 0-1-2 7-6 8 7-15 4-7 0 0 17 21 1 0 2 4-4 0-17 1 15 1-7 3-1 7 11 3 0 3-3 5 3-4 6 5-6 18 1zM507 519l2 2-1 2-3-2zM235 511l6 3-2 5-4 0-3-3zM35 511l6 4-5 9-4 1-2-3 0-5zM507 509l1 1-2 3-1-3zM489 505l3-1 1 1-2 1 2-1 1 2-4 1zM166 503l0 8-2-4zM317 503l1-1 6 3-5 2zM54 505l-1 21 2 2 3 0 0 2 21-3 1-22-2-2-16 0zM472 492l1 4 3 2-3 3-5-3 3-1zM363 493l3-1 1 3-3 1zM60 495l-9 1-7-7-6-2-3 3-1 6-5 4 0 3 3 2 2-5 3-1 7 7 0 3-4 3-6-3-3 4-2 9-2-3-17 5 1 15-2 8-3-5 3-5-1-8-3 10-5 3 4 0 7 7 3-2 8 2 7-1-1-24 1-1 7 9 1-9 4-5 10 4-10-7 4-6 0-3-9-10-1-5 5-4 10 9 9 1 1 5zM408 485l3-1 1 4-3 1-1-1 2-2zM457 483l0 17-2 2-19-2-8-12 2-5 3 1 18-4zM142 477l4 1 1 7 3 3 0 6-6 5-6-1-3-3 0-4 6-7zM408 473l3 0 1 3-3 1zM244 472l14 15 0 7 3 6 0 7-3 6 4 9 0 12 6 3-3-1-3-5 0-9-3-8 3-8-3-10 0-10zM186 470l5 1 0 11-4 3-3 10-5 4 6-2 2-6 7-4 8 7 3 8 7 3 0 5-6 5-9 3-10-1 9 2 10-3 6-5 4-10 8 4 8-9 11 0 2 2-1 11-2 2-8 0-2 2 0 4 10 6 4 7 2 9 7 6 0 4 3-2 10 2-6-2-5-6-7-1-3-4-4-11 0-6 2-3 0-20-14 0-7 6-3 0-8-7-2-9 2-3 8-1 4-3-1-10 0 8-3 3-10 3-1 3 2 11-4 4-4-3-6-12 9-6-1-9 4-3-4 2 0 10-7 4-7-3 0-12zM395 462l-1 2-5-1zM15 461l1 5-2 1-1-3zM380 460l0 5-2-2zM404 450l2 5-3 4-1-4zM431 452l4-3 14 0 3 4 1 9 9 0 12-4 3 2 0 14-45 0-3-3zM54 450l5-2 2 3-2 1zM224 444l1-2 3 1-3 2zM308 437l7 1-5 2zM22 435l1 9 1-6zM101 438l-1 4-13-2 11-8zM111 431l3 6-1 4-3-7zM165 430l2 4-4 2-2-3zM402 428l5 0 2 4-1 1zM136 428l1-1 3 2 2 4-1 1zM496 426l2 2-1 4-2-4zM294 424l5-1 8 2-6 2zM96 431l-15 8-15 2-16 5-5 0 0-2 4 0-8-7 1-4 4-3 5 3 18-5 5 1-4 1-2 4-7-2-2 1 9 3 5-4 1-5 12-3 2-2 3 1-5 5-5-1-3 2 7 2 8-3zM504 421l2 3-5 3-1-3zM289 418l1 1-4 5-1-3zM484 419l2-2 3 2zM423 418l2-1 3 3 8 1-9 1zM301 417l-1 2-5-1zM253 417l-5 3-3-1 5-3zM503 416l1-1 7 4-5 1zM408 416l2-2 4 1-4 2zM343 411l-7 8-5 1-3-2 6-1 6-7zM443 410l-3 4-7-1 9-4zM282 409l1 2-2 5 3 4-2 4-4-8zM117 407l2 3-8 16-1 12 4 5 0 3-5 3-4-3-2-8-4-5 10-8-3-1-8 6-2-1-1-4 14-8 4 0-4 0-8 5-9-1 16-9 5-1zM498 405l3-1 4 2 2-2 1 2-4 2zM165 405l1-1 3 4-3 1zM452 400l4 4-3 5 0-4-4 0zM274 400l1 11-2 3 3 3 0 6-2 2 0-6-5-1 1-6 3-3zM237 400l6 3 2 4-1 5-2-6-6-5zM313 401l3-2 16 1 2 2 1 7-1 7-19 0-2-2zM217 399l1-1 2 3-2 1zM451 395l8 1-6 2zM491 393l1 6 3 3-6 0-4 4-1 4 3 3 4-2 3 1-8 4-5-5 0-5 3-3 0-3-3-2 0 6-3 8-6 4-2-2 5-2 3-8 0-9 4-1 6 5zM418 393l1 3-5 5 8 0-9 2-2-4zM399 394l1-1 3 2 2-2 1 2-5 2zM332 399l4-7 11 3-1 2-4-1-6 1-3 3zM174 391l5 0-3 2zM172 386l0 4-3-2zM335 386l2-1 4 2-3 2zM278 388l3-3 22 0 2 2 1 15-2 2-7-2-17 0-2-2zM492 382l2 7-2 5zM430 382l2 1 1 6-4-3zM202 383l2-1 3 2-2 2zM448 379l2 2-1 3-2-3zM333 379l2 4-1 2-2-2zM504 378l1 1-4 3-1-2zM202 378l3-2 1 1-1 2zM256 373l3 2-2 4-2-1 2-2-2-2zM143 373l0 7 8 5 1 14 5 8-2 4-10 8-6-1-8-10-4 1 4 0 6 8-2 5 10 1-1-3 13-11 3 3 0-6-2 0-6-8 0-12-9-8zM493 372l4-1 3 5-2 2-1-4zM354 371l1 4-4 2-1-1zM101 371l1 4 3 1 2-2-1-3zM501 368l2-1 6 2-6 1zM231 365l1 1-3 4-1-3zM216 366l1-1 3 3-2 1zM469 364l3 6-1 2-4-5zM58 365l8 14-4 4 6-1 9 9 2 0-3-1-7-8 0-4 4-4 9 1 9 8 12 3 4 4-6-5-10-2-7-7-5-2-7 0-5 3zM218 360l2 2-1 2-3-1zM465 358l1 2-2 2-5 0 4 6 0 5 2 2 6 0 1-4 2 2-1 6 3 5 6-3-3-4 1-2 6 6-15 10 0 5 3 4-8 7 0 3 3 2-4 3-1-5-4-5 1-6-2-2 2-1 3 3 0 5 7-3-2-4 0-18-8-3 0-6-5-7 2-4 5 1zM282 351l1 1-5 3 0 4-2 2-2-7zM46 349l-4 6 1 4 4 3 9 2-11-5 0-4 3-3 7 0zM468 346l1 2-3 11-1-9zM390 342l-13 0-7 3 0 7 3 9 9-1 6-4zM70 351l0 5 10 6 7 8 11-1 0-6 5-2 12 7 8 8 1 4 0-3-4-5-16-11-6 0-3 8-8 1-7-8-5-2-5-7 12-10 5 0 7 6 5 0-6-1-7-6zM476 339l1 2-5 4-1-1zM274 339l-2 2 1 16 2 5-1 6 12 1-2-28-2-2zM500 338l2 7 0 12-3 3-5 1-13-1 0-20 11-3zM465 338l-2 3-7-1zM503 333l1 2-4 3-1-1zM115 348l2-7-1-7-1 14 2 2 7 1 5 6 5 1 4-3 0-2-9-9 1-5 4-4 5-1 9 8 9-1 5-5 4-1-4 0-6 6-7 0-8-6-6-1-8 9 7 5 4 6-4 4-5-1-5-7-7 0zM444 334l4-3 3 5-1 1-2-3-3 2zM478 329l6 2 1 6-4 3-5-1 6-2 0-5-4-1zM91 329l0 5-2 2-15-4-9 15-4 4-4 1 7-3 9-16 4-1 12 5 4-2zM490 325l4-1 4 6-2 1zM474 321l2 5-1 2-2-2zM507 318l3 13-4 0-2 3 0-7-2-4 2-5 1 2zM430 317l1 2-4 6 0 3 3 3 4 0 2 2-1 2-10-1-2-2 1-8zM401 316l2-2 4 2zM484 312l1 2-4 2-1-1zM438 320l4-2 0-5 3-2 12 1 2 2-1 2-2-2-11 0-1 7zM484 312l1-2 3 1-3 2zM374 311l5-1 3 6-1 1-3-5zM119 309l2 0 3 5-2 5-5-2 0-5zM97 312l-14 1 0-2 4-1-3 0-9 7-4 1-5 8-5 1 4 0 6-7 8-5 1 11 17 1zM23 309l5 0 10 7-3 9 8 8 1 3-2 2-15 3-4-3-1-3 7-10-2-5-7-6zM487 310l3-2 2 1-2 2zM424 308l0 8-5 5-1-1 3-3 0-4zM362 308l2-1 3 4 8 1-9 1zM407 305l1 2-5 6-2-2 3-1zM323 305l1-1 3 3-2 1zM407 305l2-2 3 1-3 2zM457 303l2-1 4 6 4 2-6 0zM419 302l-3 13-1-10zM287 304l3-4 5 1-7 4zM468 298l-1 2-4-1zM471 304l3-8 2 3 6 0 2 2-2 4-2-1 2-2-1-1-1 3zM313 303l6-7 5 8-1 1-4-6-4 6zM512 294l1 3-2 2-7 1-1 12-2-12 3-3 6 0zM286 294l1 6-6 2-2 4 0-5 5-2zM104 294l-5 3 1 3 4 0 2-2zM452 292l0 7-2-2zM275 289l2 5-5 9-1-2zM339 289l0 2 8-2 21 0 12 7 7 1-6-5-19-5zM135 282l5 5 11 4-1 6-5 4 6 14-3 5-7 5-6 0-6-4-1-4 2-4 0-10-11 0-4-4 17-1zM501 281l10 8 0 6-12-12zM89 283l1 9-4 5-25 2-3-3-1-12 2-2 7-1 7-4 7 0zM313 271l1 4-3 2-1-1zM112 271l1 2-5 7-4 2-2-3 8-8zM280 271l2-1 7 3-8 1zM35 269l2 1-1 11 3 5 5 2-6 23-4 0-8-5-5 0-3-3 0-3 5-6-3-16 5-5zM332 270l0 2 31-4 22 13 20 3 5 3 3-2-24-9-6-4-9-2-8-5-17 1zM293 264l1 4-4 5-1-1zM463 263l1-1 1 3 4 2-4 1zM462 267l-1 2-3-2-8 0-8 7-1 4-1-4-5-1 11-7 2-6 1 5 10 0zM498 261l-3 4-16 9-27 4-2-2 2-4 21-3 19-10 4 0zM501 258l2 14-17 4-2-2 1-3 3 3 3-1 0-4 2-2 3 3 2-1 2-4-1-5zM186 258l-2 5-5-3 1-2zM56 271l3-8 11-8 5 0 6 5 10 3 2 3-1 3-14-2-10 9-9-1zM432 253l3 4-2 2-2-1zM314 254l-1 3-3-2-6 5-4-3 1-3 2 3 8-5zM317 257l9-4 20 0 13-3 27 5 29 10 22 10 14 14 0 2-15 13-5 1-18-6-6 0-19 9-27-2-7 3-17 1-20-21 2-9zM494 250l6 0 8 8-5 0-4-6zM452 249l1-1 3 3-2 1zM188 249l1-3 3 2-3 2zM410 245l4 10-9 1-1-1 3-2zM296 249l6-2 2-3 2 4 7-1 5 6-3 1-3-4-7 0-3 5-1-5zM352 242l2 6-7 2 0-2 4-1zM367 242l-1 4-3 1-3-2 4-1 2-3zM111 241l1 4-3 1-1-3zM493 240l1-1 7 3-6 1zM426 243l5-4 19 1 2 2 0 8-3 2-21 0-2-2zM235 239l1 8-4 1-2-3 4 0zM157 246l0 7-3 10 2 2 11-2 1 20 36-1-2-21-7-15-8-2-19 0-1 2 2 7-4 10-5 1-4-3 4-9 1-9 6-4-3 0zM105 238l2 4 0 8-8 7-3-3 0-4 4-4 0-4zM362 236l2 2-4 2-1-2zM244 234l3 3-1 4-3-5zM267 231l5 1-3 1 2 3-1 2-4-4zM362 228l-2 3-5-1 6-3zM377 227l0 5 3 2 1-5zM276 229l2-4 7 2-2 3zM296 225l1-1 5 5-2 1zM227 225l4-1 1 4-1 1-1-3zM443 224l9-1 3 3-2 2-2-3zM476 222l-3 3 2 4-3 1-5 6 4 4-1 6-2-4-5-3-7 2-4-5 1-1 5 2 3-2 1-5 2 3 4-2 0-8zM466 222l-5 3 0 6-3-6 4-4zM478 220l7 4 1 5-1 10-7 3-3-3 1-17zM425 222l1-2 8 1zM252 220l1 2-3 3 0 5 2 2 6 0 3 3-1 5-3-6-7 0-2-2-1-7zM96 220l7 0 5 3 1 11-3 3-13-13zM433 220l4-2 3 3-2 1zM418 218l2 2-1 21-21 1-2-3 1-20zM296 219l3-2 6 3 46 0 3 3 0 17-2 2-23 1-24-1-2-2 0-19-5-1-1 2zM386 217l3-1 2 3-1 1zM485 215l13 5-7 3 3 4-1 2-2-2-5 0 0-7-6 0zM121 214l2 5-5 2-1-4zM436 214l1-1 3 2-3 1zM380 212l2 6 5 0-4 5 0 4 8 3-5 2 2 5-1 4-12-2-3-3 4 0-2-9-4 0 1-3-2-2 3-1 2 2 4 0zM288 212l4-1 7 2-3 3zM428 211l-5 4-4-1 7-4zM502 209l3-1 2 4-1 1zM460 214l2-7 6 3-2 4-2-1 0-3-2 2 3 2-3 2zM385 204l1 1-5 5-1-3zM322 204l-9 2-2 4-2 0 0-3 3-3zM267 204l0 7 2 2-2 3-4-4-6 0-3 7-1-4-8-1 9-2 2-6 2 3 4 1 3-2 0-4zM444 203l4-1 3 4-2 2-1-3zM321 203l4-2 3 1-2 2zM184 202l-2 4-6-3zM379 202l0 10-3 7-14-2-23 0-10 2-2-2 0-14 2-2 48-3zM300 198l4 1-2 5-3-4zM404 197l1 8-4 10-1-5 2-3 0-6-4-1zM292 196l3 4-4 4-9-1-1 4-4-3-1 17-2-18 5-4 1-4 1 4 3 2 7 0-1-4zM248 195l1 4-2 2-1-4-2 2 3 2-3 1-2-4 3-3zM463 194l1-1 4 3 16 4-11 0-8-3zM338 193l1 1-2 3-1-3zM508 192l-2 3-4-1 5-3zM440 190l1 5-5 6 0 2 4 3-4 2 0 6-2-4-5-1 5-3 0-6 5-6zM51 190l4 3 1 7-3 4-7 1-2-3 0-6 5-6zM469 190l3-1 5 3 5-1 5 4 3-5 0 9 5 4-3 1-4-4-5-1 2-3-4-3-6 2zM40 189l2 2 0 10-2 3-6 1-6-5-1-5 7-5zM429 187l1 1-4 3 2 7-5 4-1-1 3-3-1-9zM411 185l3-1 2 5-1 1zM204 188l-1 4-19 0-2-2 0-3 3-2 14-1zM107 190l0 2-12 10-5 9-6-3-6-7-9-1-4-4 5-7 10 6 11-3 8-8 3 0zM59 182l6 4 0 3-4 4-6-5 0-3zM364 174l1 1-4 3-1-1zM480 173l-1 6-1-5zM282 179l2-3 17 0 20-3 9 1 9-2 27 9 21-4 3 5 0 8-2 2-23 1-38-2-42 1-2-2zM442 171l1-1 5 6 6-2 2 2-1 6 2 3-6 1-1-1 2-3-3-3-2 5 4 2-4 1-2-2 1-7zM373 171l-2 3-7 0 8-4zM174 171l6-1 1 2zM299 170l2-1 5 4-2 1zM154 167l1 2-3 5-1-3zM180 166l1-1 1 3 4 2-5 1zM508 167l1-5 6 2-5 1-1 3zM421 167l-5 0-4 3-1-3-6-1 12-4 1 1-2 2zM75 166l3 6 0 9-5 6-14-7-9 5-5 0-4-5 4-7 8-3 11-8 7 0zM427 161l1 4-4 3-1-1zM500 160l3 5-5 6 4 3-6 1-1 10-1-6-4 0 0-3-3-2 9-4 0-8zM87 160l2 0 6 7 0 4-5 4-6-5 0-5zM392 159l6 7 7 1-4 2 1 6 4 2 0 3 3 3-1 1-5-4-3 0 1-3-3-6-7-1 4-3-4-7zM450 158l1 4-3 1-1-1zM377 158l2 5-4 3-2 5-1-4-4-2 5-1zM496 158l0 6-2 2-37 0-2-3 0-4 2-2 25 1 12-2zM276 157l4-1 1 2zM230 158l5-1 1-2 2 6-4 1 0-2zM395 155l1-1 4 3-3 1zM360 158l-1 1-1-3-9 1-1-2 10-2zM330 156l1-1 2 2 1 4 5 0-2-5 1-3 5 6 5 0 4 3 5-2 1 2-2 3 7 2-13 1-1-1 3-2-5-4-3 0-2 3-8 0-3-3zM497 152l1 2-3 3-1-2zM327 153l2-1 2 3-1 1zM461 152l3-1 4 4-1 1zM279 150l1-1 2 4 6 1-8 1zM75 152l3-3 6 0 2 5-3 3-5 0zM436 149l-3 2 1 2 3-2zM445 155l-4 2-7-1-6 6-1-1 4-5 0-6 4-4 4 2 0 6zM36 148l2 4 4 2 3-1-2-5zM511 146l-4 7-8-2 4-2 4 1 2-6zM389 143l1 7-2 2-1-2zM345 143l4 3-1 9-1-8-5-2zM14 144l3-1 6 8-3 2zM487 142l-1 10-2-3-4-1 2-1 1-4 2 1zM176 143l0 11-6 4-9 2-6 8 0-8 6-5 5-1 6-11zM447 141l4-1 3 2-3 1zM305 141l-2 1 0 3 3-1zM332 138l-3 1-2 5-7 5 0 2 7 0 0 2-8 1-5-5-4 2 0 6-2 0 0-7 8-4 3-7 0 5 4 1 6-9zM340 135l1 4-3 1-1-1zM472 134l1 1-5 4-1-2zM291 134l1 1-4 3-1-2zM472 134l14 0-3 4-1-3zM392 132l0 2-5 1 0 5-3-5 3-3zM368 132l-1 8-2-2 0-4zM327 132l1-1 5 3-3 2zM361 130l1 4-3 2-1-1zM350 130l1 7 5 1-8 3-1-3zM277 130l1 10 7 2-5 3-1 5-3-8zM494 129l1 2-3 7-1-5zM439 128l2 1 0 10-2-2zM108 128l9 9-2 8-5 5-4 0-4-5 1-4 5-6zM459 127l1 4-5 3-1-1zM194 128l1-1 19 6-6 9-6 0-6-5zM316 127l0 3-4-1-2 3 1 6-5 9-5 0-2-3 3-6-4-2 7-1 6-8zM397 125l2 4-3 2zM451 129l0-4 3-2 5 3-1 2-5-2 0 3zM384 122l1 2-3 2-1-1zM331 122l1 1-5 4-1-3zM187 122l4 2 3 7 0 7 5 6-4 15-7-4-12-2 3-5 7-5 0-2-5-2-2-3zM427 120l2 2-3 2-1 4-1-5zM409 120l3 2-1 6-4-1 0-5zM486 118l4-4 4 4zM198 114l1 1-5 4-1-2zM422 113l5 1 2-2 1 2-5 3zM374 111l0 2-4 1-1 4-1-5 2-2zM352 112l5-1 1 3-4 1zM305 112l2-1 3 2-3 1zM333 110l3 10-4 3-1-1 3-3-4-5-5 0-3-2zM285 110l1 5-2-1zM236 105l0 5-2-3zM288 105l3-2 3 4-5 0zM274 100l3 7 0 8 3 3 0 7-2 2-3-1 3-3 0-4-4-3zM274 94l1-1 2 3 4 1-5 1zM97 96l2-3 6 1-4 4zM21 92l4 1 8 14-3 3-11 1-3-2-2-6 3-7zM297 92l-6 6-10-2 4-2 5 1 4-4zM143 91l5 4 0 5-9 6-1 5-5-7-7-1 8-3 4-7zM310 83l1-1 2 3-2 1zM375 80l3-1 3 3-2 1zM327 79l1-1 5 4-3 2zM171 80l-1 7-6 5-5 0-6-5 12-10 3 0zM489 77l3-1 2 2-2 2zM85 76l6 0 6 4-1 8-3 3-6 0-2-2zM397 75l2-1 4 6-2 1zM494 76l2-3 4 3zM488 75l-4 0-3 3-5-1 7-4zM321 75l2-2 3 1-3 2zM464 73l1-1 4 4-3 1zM444 74l1-2 3 1-3 2zM231 72l1 2-4 2-1-1zM335 70l2 8-2 2zM425 69l2 3-3 0-2 5-1-5zM81 69l3 2 0 6-5-3zM50 70l3-1 5 2 3 3 0 4-3 1-8-7zM447 66l-3 3-4-1 5-3zM193 66l2-1 6 5-4 2-3-2zM267 63l3 4 2 46 2 6 2 31-4 18 0 11-2 7 1 5-2 2-25 0-5-3 0-43-20 6-2 2 0 14-14 2-7-9 1-2 3 1-5-2 4-9 6-6 8-1 6 3-5-5 0-7 8-4 11-10 6-13 1-36 17-1 5-6zM87 69l3-4 18-2 6 4 11-2 3 6-4 5-3 0-8-6-6 5-9 2-9-3zM240 62l2 1-1 5-3-1 2-1zM182 64l-5 7-11 0-4-4 1-3 6 1 5-3 6 0zM271 60l1 5 4 4-2 8-3-4zM337 66l2-2 5 1 3-5 7-1 3 5 3 1 5-2 3 5-8 1-4 3-1-2 2-3-5-5-7 5zM218 60l3-2 1 1-1 2zM387 70l0-5 4-4-2-3 1-1 7 4 10 1-6 2 2 3-1 3-5-7-4 0-1 6zM251 58l3-1 4 5 5 1-6 1zM499 56l3 3 5 1-6 8-3-9zM478 53l2-4 9 3-7 1 0 5zM194 48l1 6-3 3-1-5zM44 49l2-1 4 4-4 2zM66 47l15 9 1 3-5 10 0 7 6 6 1 9 10 3 2 10 9-6 9 1 13 5-6 3-10 0-3 3 1 4-2 11-3 3 1 7-5 5-7-3-9 9-4 1-6-1-6-9 0-3 9-10 0-9-20-3-5-5-1-7-9-4-3-3-1-6-2-2-7-1-5-7 1-2 16-4 11 5 6 6 5 2 5 6 6 1 1-6-2-2-7 0-2-3 0-10 6-5-1-3-5-1-3-3 1-8zM373 45l0 7-2 1-2-5zM502 41l1-1 2 3-2 1zM387 38l1 3-5 3-1-1zM187 39l3 4 0 6-3 7-4 4-17 2-2-5 5-6 2-11 2-2zM7 37l-7 1 3 1 2 4-4 3 6-2zM481 34l1 2-3 5-1-3zM271 33l4 5 0 4-5 6-1-4 3-4-2-5zM77 32l3 1 3 5 0 10-2 2-10-9 0-4zM412 30l3 6 11 10 15-7 8 0 11 8 2-1 0-3-16-10-17 9-3 0-9-10zM169 25l0 5-7 7 6 7 0 5-9 14-9-3-9-7 1-10-8-6-7 0-8 4-4-4 4-6 12-2 17 7 9-4 6-9 4 0zM92 21l6 1 6 8 0 6-6 6-5-1-5-8 0-7zM478 20l7 8 3 0 0 7-2-2-5 1 1-5-5-8zM275 22l3-3 12-1 18 2 39-2 21 1 7 6-1 3-28 11-4 0-6 4-6 0-15 12 21-6 23-12 7-1 14-6 8 5-3 3-19 6-7 4-10 2-15 10-8 3-13 10-5 9 0 6 37-2 4-2 13 1 4-2 16 1 28-2 7-2 32 0 21-3 29 5 4 4-3 14 1 8-2 2-11 1-18-2-22 2-61-2-43 2-13-2-13 2-10-3-9-7 2-11-25 0 0-37 2-7-3-9zM387 21l2-2 19 0 8-3 12 3 47-1 2 2 0 43-5 4-15 5-21-16-14 5-18-11-15-13 0-12zM300 17l3-2 2 1-2 2zM506 10l2 3-2 1-1 5-1-4-2-1zM453 9l2 2-2 4zM0 17l5-2 8 5 3 0 5-6-7 5-9-5 3-4zM432 11l-7 2-2 4-1-5-6-1 7-1 2-2 1 2zM216 12l0 9-3 2-5 0-6 6-4-3-1-5 3-3 7-1 5-7-4 5-8 1-5 3 0 9 6 9-7 11-8-13 0-11-5-3-7-1-3-3 0-5-1 6-4 3-5-1-5-8 1 7-3 2-8-5-12 0-4-5 4 6 10 0 11 7 1 5-6 4-7 0-12-6-16 3-4 3 2 9-4 7 13-8 9-3 7 7 0 9 12 9 9 4 4 5 0 4-9 7-10-2-6 1-3 3 0 11-7 5-6 0-7-4-12-14 0-3 9-7 12 5 4-5-1-9-13 0-6-3-9 1-10-6-3-4 0-16 7 6 5 1 7-5 2-6-9-12-5-1-9-10 2 2-1 4-9-3 8 5 2 4-1 6-4 3-11 3-2 9-11 11-8-10 5-6 13-6 0-5-4-11 6-4 4 0-10 1-2-2 1-1-4 4-6-2 5 7-6 3-3 5 5 0 3-7 3-1 5 4 2 6-22 15-10-2-5 4-1 6-5 6 7-6 1-5 3-3 3 0 3 3 3 16-10 10-10 0 0 14-2-4 0-48 6-7 8-5-1-10 0 8-11 9-5 0-3-2-9 1-5-2 5 3 8 1 5 4-7 1-2 2-1 21 1 29 9 1-9 2-8 10 7-8 5-1 2 4-3 11 5 8 8-3 18 1 1-2-7-2-11-13 1-5 6-3 6 9 10 5 0 7 4 4 22 5-1 8-8 8 2 12-3 3-7-4-4-8-9-4-7-6-6 2-4 5-7 4-4-5-1-13-8 4-9 0 13 1 2 2 2 12-7 4-8-1 4 1 2 2-3 2 7 2 7 8 3 0 6-6-4-8 1-3 12-10 15 6 4 4 2 6 13 11-2 3-24 13-7 9-3 0-3-3-4-9-3 0-7 5-2 3 1 10-9 11-4 0 6 0 9-10-2-10 5-6 4-1 3 3 5 13-9 7 5 11 8 3 1 3-3 2-6-4-17 8 0 5 5 7 0 14-4 9-5 5-7 1 7 0 4-2 6-11 0-16-4-7 0-4 7-5 8-2 8 5 6-6 5-1 15-9 11 6 8 2 8 7-11 21-9 8-13 5-4-6 4-4 10-5 0-5-4-7-4-2-13 0-11 6-4 5 6 6 1 4-2 2-7-1-4 3-3 10-13 14 1 12-6 4 8-5-2-9 13-14 2-9 4-4 10 0 0-6-5-8 4-5 6-3 11 0 7 6 0 5-10 9 0 5 4 4 10-2 17-10 1-7 3-2 8 10-2 8 2 12 8 1 2-5 4-3 4 1 4 5-5 5-7 0-6 6-6-9-10-1-8-6-6-1-13 9-5 18-6 4-5 0-3-2-1-4 4-7 0-4-3-3-5 1-4 5-8 4-3 4 0 4 4 6 0 5-6 5 0 10-6 5-10 1 8 0 2 2 0 9-5 4-5 0 7 0 10 17 1 11 4 3 0 2-3 3-7 1-7 4 17-4 3-4-1-9-4-2-2-10-4-3-2-5 5-7 5 0-2 5 0 9 2 2 7 1 4-2 8 0 5 5 3-2 1-3-2-5-9-11 3-9 4-5 10 0 1 4-3 5 5 6-3-2-1-4 6-6-1-4-3-2-13 1-2-2 1-9 8-10 5 2-1 9 2 2 13 0 17-3 3-2 1-11-3-5-12-7 3-4 8 1 9 5 8 13 3 0 5-8 2 10-2 6-1-7 0 8 5 10 0 11-2 2-7 0 9 1 2 2 0 5 1-5 4-3 16 6 6-2 7-6 6 0 3 2 6-1-5 1-9-6 9-7 1-7 5-5-5 3-3 8-8 2-4-4 0-3 5-8-1-4-11-3-7-6-2-5-17-1 8-3-2-10 10-12 8 5 14-8-3-5-11-5 18 0 0-14-18-1-2 4-2-2-4 0-2 7 4 5 11 4 5 6-5 5-5 1-5-5-3 0-8 10-7-3-5 0 0-2 12-1 1-12-2-4-12 0 1-8 2-2 14-1 3-3-10-13-1-6-4-3-2 1 4 12-5 9-3 1-15-4-2-2 3-12 8-6 7-1 0-5-4-6-7-3-7 8-4 2-9 0-2-2 2-11 0-10-2-5 2-2 3 1 0 7 3 4 9 1 6-5-6-7-3-7 2-6 7-1 3 3 3 9 2 0 3-8 4-3 5 2 8 0 0 2-13 1 1 11-3 1 3 7-1-7 2 0 1 13 3 4 2 12 13 9 8 1 3 4 1 9 2 0-1-9 2-2 3 0 4 4 0 5 4 5 3 0 3-3-5 2-3-3-1-8-5-7 3-1-3-3-5-1-7 5-6 0-12-9-2-8 10 1 8-14-1-5 3-2-5-2-4-10 9-7 1-6-5-1-11 12-3 0-6-6 0-4 2-2-2-1 24-4 2-15-4-5 1-2 12 5 4 4 4 0 4-4 9-2 3-4 0-5 3-3 6 0 5-8 10-10 5 2 0 7 2 1 8-3-7-8-10-2-14 19-7 0-2 2-1 9-4 3-12 4-18-9 0-3 8-7 3-9 13 2 7-6 2-4-2-9 12-9 4 0 8 8 5 0 4-3 0-2-9-7 0-4 3-4-1-9 9-10 14-2-6-1-4-3 7-8zM432 10l2-3 6 1-6 3zM294 7l1-1 6 4-4 1zM392 5l2-3 3 3-3 2zM271 0l-1 19-2 2-11 0-2 16 1 17-2 2-12 0-3-3 0-16-2 0-5 7-6 3-6 0-3 2-1-5 2-2 5 2-4-3-4 2 6 42-9 22-7 4-4-8-5 2-4 9-8 5-3 11-4 4-10 4-12-5-6-7-3-1 5 9 14 6 2 2 0 4-15 15-10 22 4 1 3-8 2 0-3 11 11 14 7 15 3 1 0-2 10-2 4 2 18 1 14 4 7 0 2 3 0 27 14-1 3-4 7-2 7 2 22 0 3 3 0 31-10 3-1 12 2 12 45 0 27 9 9-1 37 6 7 4 12 2 15 9 26 2 4 4 4 19-6 9-1 6-7 6-52 1 13 22 4 17-5 5-9 4-12 12 0 3-7 5-31 6-2-2-4-24 9-8 19-12-28-27 0-2 12-3 7 1 2-2-2-8-38 2-1 10-47 0-3 10 0 7 2 4-1 15-2 2-10 0-4-2 0-5-4-4-1-23 4-5 10 0 1-2-3-19 2-6-2-6 1-8-11 0-2 39-3 4-3 0-3-3 0-13-6-2-2-3-4-22-12-12-10 3-6-2-13 0-3 3-1 8 2 9-7 28-5 5-9 1-1 41-2 2-38-1-1-3 4-7-2-15 2 0-1-5-1 5-4-5-2 0-4 9-13 5-5-3 0-10-2-2-8 0 9 1 2 13 4 1-14 10-30 6-5 3-1-4 7-7 4 0 3 4 1-1-4-4-5 1-8 6-9-3-4-12 1-10-4-5 1-10 10-10 6 1 8 10-9-11-8-1-7 8-3 10-3 3-13-7-6 0 2 9-3 4-3 0 5 0 3-3-1-7 3-1 11 9-2 9-4 4-11 2-5 3 2 2-5 4 11-5 5 4-8 2-1 46 2 4-3 2 3 0 1-5 8 0 2-3 0-41-1-3-3-1 0-6 9-8 4-8 3 2 5 20 6 5-4 7 0 12 2 3-3 4 7 2-1 14-5 5-10 3-8 14-6 0-6-7-3 1 2-1 8 8 5-1 8-14 9-2 9-6-2-16 9-1 0 2 7 2 2-1 1-4-4 0 0-2 25-6-1 5-10 7-10 14 0 4 11 9 7 10-7 11 8-11-5-5-3-7-10-7 0-3 7-10 6-6 4-1 6-8 7 0 3 3-1 6-15 7 0 15 8 9 0 6 7 7 9 1 5 4 4 0 2-2 0-5-7-14-4 5-5-1-4-6 1-5 5-3 8 6 14-2 11 3 3 6-5 8 0 5 3 3 9 0 7-7 4 3 0 5-3 7 2 3 2 16-3 1-11-8-1-9-2-3-18 0-8 11-17 0-9 17-6-12-2-9 5 15 1 9 3 1 2-2 0-7 8-12 10-1 4 4-2 12 5 8-1 9 2 3 8-3 8-10 30 1 0-10-30 1-2 11-10 9-5-2 0-12-5-6 1-7 4-6 13 12 1 4-1-5-11-12 0-3 5-6 8 1 4-3 6 4 0 7 14 11 2-2 7 0 9-3 4 1 4 11 15 0 4 4 0 4-5 5-10 0-23 4-11 15-5 21 41 2-1-1 6-8 11-10 1-7-9-13 5-7-2-10-15 2-4-5 0-6 2-2 4 0 12 8 11-2 7 6 1 8 2 2 8 3 10-2 6 5 0 4-5 5-21 8-3 3 1 3 3 1 0-5 3-3 1 1 0 20-2 2 2-2 17 1 0-22-15-1 19-9 1-6-3-4-4-2-17 0-6-13-8-4-9 1-12-7-5-7-2 0 3 4-2 4-10 2-8 0-2-2-3-9 0-10 3-7-5-13 3-4 7-3 3 1 6 7-2 10-8 8 1 5 6 5 24-1 1-11-2-2-22 1-2-2 4-7 0-8-6-6-15 4-5-7-7-2-3-5-9-7-2-6 1 6 7 5 4 6-2 4-24-2-10-6-4 3 0 12 9 8 6-2 4 5 0 4-2 2-4 0-4-4-9 0-6-6-2-8-7-8 0-12 4-4 10-2 6-8 8 2 6-6 8 8 12 8 24-1 13 2 12-2 6 2 27-11 16 2 9-2 11 4 13 1 2 2 0 74 4 24-3 7 44 0 23 7 14-3 13 1 9-3 50-2 2-3 0-25 2-2 27-1 4 15 27-2 10-3 5 2 0 47-107 0-2-2 0-17-14-1-2 6 1 9-3 5-38 0-22 2-26-1-4-4 1-14-16 0-3-3-1-5 8 0-7-4-4 0-10 4-1 13-9 1 4 1 2 5-2 5-7 5-3-3 5 3 12-16 7 8 9 2 2 10 12 0 1-2 1 2 16 0 1-2 1 2 17 0 1-4 1 4 46 0 1-2 1 2 13 0 1-2 1 2 34 0-1-5 3 1 0 4 94 0 0-88-2-1 2-1 0-140-3-1 3-1 0-20-6-1 2 3-1 3-4-5 0-2 6-2 1-3 2 3 0-81-3-1 3-1 0-58-6-1 6-1 0-101-4-1 4-1 0-96-100-1-1 3-1-3-30 0-1 2-3-2 0 6-3-6-69 0-2 2-1-2-8 0-1 3-1-3-3 0 0 2-3-2z"/></g>
<polygon points="476.5,402.2 479.7,401.4 480.2,409.5 476.9,409.5" fill="#ffffb8" />
<polygon points="502.6,416.9 508.4,416.1 507.5,419.4 503.5,419.7" fill="#ffffb8" />
<polygon points="450.0,387.5 451.6,387.1 452.6,390.7 450.9,391.1" fill="#ffffb8" />
</g>
<rect x="385.8" y="304.6" width="149.9" height="109" fill="none" stroke="#ee1c25" stroke-width="1.25"/>
<rect x="378.6" y="263.2" width="164.2" height="191.3" fill="none" stroke="#6e6e6e" stroke-width="0.9"/>
<text transform="translate(375.00,256.70) scale(1.084,1)" font-family='"Liberation Sans", sans-serif' font-size="16.8" font-weight="bold" fill="#141414" stroke="#141414" stroke-width="0.3">f</text>
</svg>
</body></html>
